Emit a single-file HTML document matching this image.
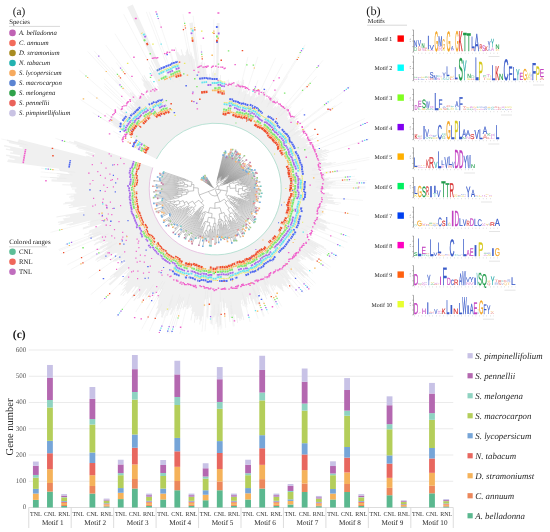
<!DOCTYPE html>
<html><head><meta charset="utf-8"><title>Figure</title><style>
html,body{margin:0;padding:0;background:#fff;}
svg{display:block;}
text{font-family:"Liberation Serif","Times New Roman",serif;}
.pl{font-size:11.3px;fill:#1a1a1a;}
.plb{font-size:11.5px;font-weight:bold;fill:#1a1a1a;}
.hd{font-size:6.8px;fill:#222;}
.sp{font-size:6.75px;font-style:italic;fill:#222;}
.cr{font-size:6.75px;fill:#222;}
.mo{font-size:5.9px;fill:#222;}
.bits{font-size:2.2px;fill:#555;font-family:"Liberation Sans",sans-serif;}
.lo{font-size:10px;font-family:"Liberation Sans",Arial,sans-serif;stroke-width:0.18px;}
.lf{opacity:0.55;}
svg{text-rendering:geometricPrecision;}
.yl{font-size:7px;fill:#595959;}
.yt{font-size:10.5px;fill:#262626;}
.sl{font-size:6px;fill:#333;}
.ml{font-size:7.2px;fill:#1f1f1f;}
.lg{font-size:8.85px;font-style:italic;fill:#262626;}
</style></head>
<body><svg width="550" height="532" viewBox="0 0 550 532">
<rect width="550" height="532" fill="#fff"/>
<g id="tree"><path d="M324.3 188.6L324.3 189.4L325.8 189.4L325.8 190.2L323.1 190.1L323.1 190.9L317.8 190.8L317.7 191.5L321.3 191.6L321.3 192.3L328.9 192.6L328.9 193.4L329.5 193.4L329.4 194.2L333.1 194.4L333.1 195.2L332.8 195.2L332.7 196.0L326.9 195.7L326.9 196.4L332.2 196.8L332.1 197.6L335.8 197.9L335.7 198.7L332.8 198.5L332.8 199.3L328.0 198.9L328.0 199.7L334.1 200.3L334.0 201.1L333.6 201.0L333.5 201.9L340.9 202.7L340.8 203.6L334.9 202.9L334.8 203.7L338.7 204.2L338.6 205.1L325.5 203.3L325.4 204.1L318.0 203.1L317.9 203.8L326.9 205.1L326.8 205.9L320.6 205.0L320.5 205.7L325.5 206.5L325.4 207.3L322.8 206.9L322.7 207.6L325.5 208.1L325.4 208.9L326.2 209.0L326.0 209.8L318.8 208.4L318.7 209.1L323.9 210.2L323.3 211.6L321.6 211.3L321.5 212.0L322.4 212.2L322.3 213.0L325.5 213.7L325.3 214.5L321.6 213.6L321.4 214.3L323.0 214.7L322.8 215.5L321.3 215.1L321.2 215.9L316.1 214.6L315.9 215.3L319.5 216.2L319.3 216.9L318.6 216.8L318.4 217.5L321.7 218.4L321.5 219.1L325.9 220.4L325.7 221.2L326.2 221.3L326.0 222.1L330.2 223.3L330.0 224.2L327.3 223.3L327.1 224.1L320.3 222.0L320.0 222.7L324.2 224.1L324.0 224.8L326.9 225.8L326.3 227.3L328.5 228.1L328.2 228.9L325.7 228.0L324.6 230.2L325.7 230.6L325.4 231.4L317.2 228.2L317.0 229.0L318.1 229.4L317.9 230.1L315.8 229.3L315.5 230.0L312.9 229.0L312.6 229.6L309.9 228.5L309.6 229.2L315.6 231.7L315.3 232.4L311.3 230.7L311.0 231.4L307.7 229.9L307.4 230.5L311.2 232.2L310.9 232.9L307.8 231.5L307.5 232.1L310.8 233.7L310.5 234.3L308.2 233.2L307.9 233.9L310.3 235.1L310.0 235.8L305.9 233.7L305.6 234.3L312.9 238.0L312.6 238.7L305.8 235.2L305.2 236.6L324.0 246.5L323.6 247.2L326.3 248.7L325.9 249.4L318.5 245.5L318.1 246.2L319.7 247.0L319.3 247.8L318.3 247.2L317.9 247.9L316.1 246.9L315.7 247.6L316.8 248.2L316.4 249.0L316.7 249.1L316.3 249.9L322.0 253.3L321.6 254.1L314.5 249.7L314.1 250.4L321.4 255.0L321.0 255.7L317.0 253.2L316.5 253.9L317.3 254.4L316.8 255.1L315.3 254.1L314.8 254.8L311.3 252.5L310.9 253.2L314.2 255.4L313.7 256.1L312.8 255.5L312.4 256.2L308.2 253.3L307.8 254.0L310.2 255.6L309.7 256.3L314.0 259.4L313.5 260.1L313.9 260.3L313.4 261.0L312.6 260.5L312.1 261.1L305.9 256.5L305.0 257.8L300.9 254.7L300.5 255.3L306.0 259.6L305.5 260.2L303.9 258.9L302.7 260.0L300.0 257.9L299.6 258.5L298.9 257.9L298.4 258.5L300.9 260.5L299.9 261.8L299.2 261.2L298.7 261.8L298.4 261.5L297.9 262.1L307.9 270.9L307.3 271.5L304.8 269.3L304.2 269.9L303.2 268.9L302.6 269.6L308.6 275.1L308.0 275.7L308.6 276.3L308.0 276.9L306.1 275.1L305.5 275.8L301.2 271.7L300.6 272.3L304.0 275.6L303.4 276.2L304.9 277.7L304.3 278.3L297.4 271.4L296.8 271.9L292.5 267.6L291.9 268.1L298.0 274.4L297.4 275.0L291.4 268.7L290.9 269.2L295.0 273.6L294.4 274.1L295.3 275.1L294.7 275.7L291.6 272.3L291.0 272.8L295.4 277.7L294.8 278.3L287.2 269.7L286.6 270.2L288.0 271.7L287.4 272.3L287.7 272.7L287.1 273.2L289.3 275.6L288.7 276.2L291.3 279.3L290.7 279.9L290.0 279.1L289.4 279.6L288.7 278.7L288.1 279.2L290.1 281.8L289.5 282.3L293.9 287.8L293.2 288.4L289.3 283.5L288.7 284.0L283.9 277.8L283.2 278.2L286.9 283.0L286.2 283.5L287.8 285.6L287.1 286.1L288.9 288.5L288.2 289.0L286.2 286.2L285.5 286.7L284.5 285.4L283.8 285.9L282.1 283.5L281.5 283.9L282.8 285.8L282.1 286.3L283.4 288.2L282.7 288.7L284.4 291.2L283.7 291.7L283.2 290.8L282.4 291.3L281.0 289.1L280.3 289.5L278.9 287.4L278.2 287.8L276.5 285.2L275.8 285.6L276.0 285.9L275.4 286.4L275.9 287.2L275.2 287.6L273.7 285.1L273.0 285.5L275.4 289.5L274.7 289.9L272.1 285.6L271.5 286.0L274.1 290.6L273.4 291.0L269.2 283.6L268.5 284.0L269.1 285.0L268.4 285.4L269.5 287.3L268.8 287.6L268.0 286.1L267.3 286.5L266.3 284.6L265.6 285.0L269.9 293.2L269.2 293.5L269.4 294.0L268.7 294.3L267.3 291.6L266.5 291.9L268.1 295.0L267.3 295.3L265.2 291.0L264.5 291.3L266.6 295.7L265.8 296.0L267.3 299.1L266.5 299.5L260.3 286.2L259.6 286.5L263.5 295.0L262.8 295.3L261.3 292.1L260.6 292.4L259.8 290.6L259.1 290.9L260.1 293.2L259.4 293.5L260.3 295.8L259.6 296.1L258.7 294.1L258.0 294.4L259.3 297.6L258.5 297.9L260.9 303.8L260.1 304.1L257.8 298.2L257.0 298.5L256.5 297.1L255.7 297.4L258.4 304.4L257.6 304.7L257.2 303.8L256.4 304.1L256.9 305.3L256.1 305.6L253.8 299.1L252.3 299.8L253.4 303.2L252.6 303.4L251.8 301.1L251.1 301.3L249.4 296.0L248.6 296.3L249.4 298.7L248.6 299.0L250.1 303.8L249.3 304.1L247.1 296.8L246.4 297.0L247.4 300.4L246.6 300.6L247.7 304.5L246.9 304.7L247.6 307.3L246.8 307.5L245.8 303.8L245.0 304.0L245.7 306.8L244.9 307.0L243.0 299.6L242.2 299.7L243.8 306.1L242.9 306.3L241.5 300.0L240.7 300.2L241.6 304.1L240.8 304.2L244.3 320.0L243.4 320.2L242.6 316.6L241.7 316.8L242.3 319.6L241.4 319.8L241.1 318.5L240.2 318.7L240.6 320.8L239.7 321.0L239.1 318.0L237.3 318.2L238.1 322.8L237.2 323.0L235.8 314.6L234.9 314.7L234.8 314.3L234.0 314.4L234.9 320.6L234.0 320.7L233.0 313.7L232.1 313.9L232.7 318.2L231.8 318.3L231.3 314.4L230.4 314.5L230.8 317.4L229.9 317.5L230.4 321.9L229.5 322.0L227.9 308.1L226.3 308.4L225.8 303.1L225.0 303.2L225.3 307.1L224.5 307.2L224.8 310.6L223.9 310.7L223.7 308.0L222.9 308.1L222.5 301.5L221.7 301.5L222.3 311.8L221.4 311.8L220.9 302.0L220.1 302.1L221.2 325.2L220.2 325.3L220.3 326.5L219.3 326.5L219.0 316.5L218.1 316.5L218.4 326.9L217.4 326.9L217.3 322.3L216.4 322.3L216.4 323.9L215.5 323.9L215.4 315.4L214.6 315.4L214.6 317.2L213.7 317.2L213.7 317.6L212.8 317.6L212.6 325.2L211.7 325.2L211.7 323.8L210.8 323.8L211.4 303.5L210.6 303.5L210.6 304.0L209.8 304.0L210.1 297.5L209.3 297.4L208.2 318.6L207.3 318.5L207.4 317.0L206.5 317.0L207.7 299.0L206.9 298.9L206.4 306.2L205.6 306.2L206.1 299.1L205.4 299.1L205.2 300.6L204.5 300.5L203.0 316.4L202.1 316.3L201.6 321.3L200.6 321.2L200.3 324.6L199.3 324.5L199.9 319.8L199.0 319.6L199.4 316.0L198.5 315.8L198.1 319.5L197.1 319.3L197.1 319.9L196.2 319.8L196.7 316.2L195.8 316.1L194.8 322.8L193.8 322.7L194.8 316.3L193.9 316.2L194.6 312.0L193.8 311.8L193.4 314.0L192.5 313.9L191.4 320.4L190.4 320.2L192.2 310.9L191.3 310.8L192.0 307.2L191.2 307.0L191.0 308.0L190.2 307.8L190.8 304.8L190.0 304.7L189.4 307.6L188.5 307.4L188.1 309.3L186.5 308.7L187.3 305.3L186.5 305.1L185.9 307.3L184.3 307.0L183.5 309.8L182.7 309.6L183.0 308.3L182.2 308.1L184.3 300.6L183.5 300.4L181.0 309.2L180.2 308.9L182.0 302.6L181.2 302.4L179.0 309.6L178.2 309.3L177.7 310.9L176.9 310.6L177.4 308.9L176.6 308.6L178.1 303.8L177.3 303.5L176.5 306.0L175.7 305.8L174.1 310.4L173.3 310.2L171.8 314.5L170.9 314.2L170.6 315.1L169.7 314.8L172.0 308.3L171.2 308.0L170.3 310.5L169.4 310.2L167.2 316.3L166.3 315.9L168.3 310.8L167.4 310.5L168.9 306.6L168.1 306.3L166.1 311.3L165.2 310.9L162.5 317.7L160.7 317.0L161.8 314.4L160.9 314.0L161.5 312.6L160.6 312.2L161.2 311.0L160.4 310.6L158.9 313.9L158.0 313.5L156.4 316.9L155.5 316.5L156.0 315.6L155.1 315.2L158.3 308.5L157.4 308.1L157.0 308.9L156.2 308.5L158.5 303.9L157.7 303.5L158.6 301.6L157.8 301.2L159.4 298.2L158.6 297.8L157.7 299.5L156.9 299.1L162.0 289.4L161.3 289.1L159.6 292.3L158.9 291.9L160.0 289.9L159.3 289.6L157.1 293.5L156.3 293.1L157.3 291.4L156.6 291.0L154.7 294.3L153.9 293.9L153.6 294.6L152.8 294.1L149.4 299.8L148.7 299.4L153.0 292.2L152.3 291.8L149.7 295.9L149.0 295.4L146.0 300.2L145.3 299.8L150.3 291.7L149.6 291.2L147.0 295.4L146.2 294.9L145.7 295.8L144.9 295.3L145.6 294.2L144.9 293.7L142.7 297.0L142.0 296.5L147.1 289.0L146.4 288.5L139.4 298.6L138.6 298.1L137.9 299.1L137.1 298.6L139.1 295.9L138.3 295.3L134.2 301.1L133.4 300.5L139.4 292.2L138.7 291.7L135.3 296.3L134.5 295.8L132.7 298.2L132.0 297.6L132.4 297.0L131.7 296.4L138.6 287.6L137.1 286.6L132.1 292.8L131.4 292.2L135.0 287.7L134.4 287.2L134.9 286.5L134.2 285.9L127.6 293.9L126.8 293.3L127.2 293.0L126.4 292.3L123.1 296.2L122.4 295.5L126.5 290.9L125.7 290.2L120.9 295.7L120.2 295.1L125.1 289.6L124.4 288.9L122.8 290.7L122.1 290.0L126.2 285.5L125.6 284.9L124.1 286.5L123.4 285.9L127.8 281.2L127.2 280.6L125.8 282.0L125.2 281.3L121.5 285.2L120.8 284.5L125.3 280.0L124.6 279.4L119.1 284.9L118.5 284.2L122.9 279.8L122.3 279.2L126.9 274.7L126.3 274.1L129.7 270.8L129.1 270.2L124.4 274.6L123.8 274.0L128.4 269.7L127.9 269.1L110.1 285.4L108.6 284.1L116.3 277.2L115.7 276.5L114.1 277.9L113.5 277.2L110.0 280.3L109.4 279.5L114.1 275.5L113.5 274.8L110.5 277.3L109.9 276.5L118.6 269.4L118.0 268.7L125.6 262.4L125.1 261.8L120.0 265.9L119.5 265.2L120.5 264.5L119.5 263.1L123.6 259.9L123.1 259.2L120.4 261.4L118.8 259.4L115.7 261.7L115.2 261.0L113.6 262.1L113.1 261.4L113.6 261.0L113.1 260.3L119.8 255.7L119.3 255.0L110.5 261.1L109.5 259.6L116.7 254.8L116.3 254.1L117.6 253.2L117.1 252.5L115.9 253.4L115.4 252.7L104.2 259.9L103.7 259.1L102.7 259.7L102.2 258.9L97.3 262.0L96.8 261.2L100.7 258.7L100.3 257.9L95.7 260.7L95.2 259.9L96.7 259.0L96.2 258.2L105.0 253.0L104.6 252.2L108.6 249.9L108.2 249.2L100.3 253.6L99.9 252.8L106.4 249.2L106.0 248.4L103.1 250.0L102.7 249.2L107.4 246.7L107.0 245.9L98.3 250.5L97.9 249.7L100.6 248.3L99.6 246.8L108.0 242.6L107.6 241.8L101.8 244.7L101.4 243.9L105.4 242.0L105.0 241.2L100.4 243.4L100.0 242.6L94.1 245.4L93.7 244.6L95.4 243.8L95.0 242.9L100.8 240.3L100.4 239.5L99.3 240.0L98.9 239.2L93.7 241.5L93.4 240.6L96.8 239.2L96.5 238.3L100.5 236.7L100.1 235.9L101.6 235.3L101.3 234.5L90.2 238.9L89.8 238.0L88.3 238.6L88.0 237.8L93.6 235.6L93.3 234.7L88.0 236.7L87.6 235.9L89.5 235.2L89.2 234.3L92.2 233.2L91.9 232.4L84.3 235.0L84.0 234.1L89.1 232.4L88.8 231.5L89.7 231.2L89.4 230.3L94.9 228.5L94.7 227.6L99.7 226.0L99.5 225.2L101.6 224.5L101.4 223.7L82.9 229.4L82.7 228.5L83.0 228.4L82.7 227.4L90.1 225.3L89.9 224.4L88.1 224.9L87.9 224.0L90.2 223.4L90.0 222.5L88.3 222.9L88.1 222.1L90.6 221.4L90.4 220.5L69.6 225.8L69.4 224.8L66.6 225.5L66.3 224.4L73.1 222.8L72.9 221.8L58.8 225.1L58.5 224.0L60.6 223.5L60.4 222.4L58.0 222.9L57.8 221.8L64.2 220.5L64.0 219.4L63.0 219.6L62.8 218.6L70.1 217.2L69.9 216.2L65.7 216.9L65.5 215.9L56.5 217.5L56.3 216.4L84.2 211.6L84.1 210.7L79.4 211.4L79.2 210.5L83.5 209.8L83.4 208.9L76.8 209.9L76.7 208.9L78.5 208.7L78.3 207.7L86.4 206.6L86.3 205.7L69.2 207.9L69.1 206.9L73.0 206.4L72.8 205.4L68.6 205.9L68.5 204.9L70.9 204.7L70.8 203.7L63.2 204.4L63.1 203.4L65.0 203.2L64.9 202.1L72.9 201.4L72.9 200.4L74.5 200.3L74.4 199.3L70.5 199.6L70.4 198.6L74.0 198.4L73.9 197.4L69.1 197.7L69.1 196.6L70.6 196.6L70.6 195.6L73.6 195.4L73.6 194.4L66.5 194.7L66.4 193.7L76.4 193.4L76.4 192.4L75.2 192.4L75.2 191.4L74.7 191.4L74.8 189.5L71.8 189.5L71.8 188.5L76.5 188.5L76.5 187.5L71.0 187.5L71.0 186.5L70.7 186.5L70.7 185.5L62.2 185.3L62.3 184.2L69.9 184.4L70.0 183.4L72.3 183.5L72.3 182.5L51.5 181.6L51.5 179.3L57.0 179.6L57.0 178.5L50.1 178.1L50.2 176.9L59.2 177.6L59.3 176.5L57.1 176.3L57.2 175.2L60.2 175.5L60.3 174.4L56.8 174.0L56.9 172.9L69.4 174.2L69.5 173.2L67.7 173.0L67.8 172.0L59.8 171.0L60.0 170.0L59.0 169.8L59.1 168.8L7.2 162.0L7.4 160.6L8.0 160.6L8.2 159.2L14.5 160.1L14.7 158.7L9.5 157.9L9.7 156.5L6.0 155.9L6.3 154.4L20.0 156.7L20.2 155.3L10.0 153.6L10.2 152.2L12.9 152.6L13.2 151.2L5.8 149.8L6.1 148.4L10.1 149.2L10.4 147.7L4.0 146.5L4.3 145.0L22.5 148.8L22.8 147.4L19.2 146.7L19.5 145.3L8.8 142.9L9.1 141.5L6.8 140.9L7.1 139.5L17.6 142.0L17.9 140.6L18.4 140.7L18.7 139.3L86.1 156.4L86.4 155.5L93.3 157.3L93.5 156.4L88.1 155.0L88.3 154.1L85.1 153.2L85.3 152.3L85.8 152.4L86.1 151.5L95.0 154.1L95.2 153.3L77.6 148.0L77.8 147.1L75.6 146.4L75.9 145.4L76.9 145.7L77.2 144.8L69.0 142.1L69.3 141.1L73.6 142.5L74.4 140.6L152.8 167.6A65.8 65.8 0 1 0 280.8 188.8ZM135.7 148.6L135.9 148.0L131.8 145.9L132.1 145.3L132.9 145.7L133.2 145.1L135.5 146.3L135.8 145.8L134.6 145.2L134.9 144.6L139.8 147.3L140.1 146.8L141.5 147.6L141.7 147.0L139.7 145.9L140.0 145.4L134.1 141.9L134.4 141.3L139.2 144.2L139.6 143.7L140.6 144.3L140.9 143.8L138.9 142.5L139.2 142.0L136.2 140.2L136.6 139.6L113.1 124.8L113.6 124.1L110.0 121.8L110.5 121.1L108.7 120.0L109.2 119.2L112.0 121.1L112.4 120.3L110.0 118.7L110.5 118.0L111.4 118.6L111.9 117.9L105.7 113.6L106.3 112.9L111.0 116.2L111.5 115.5L122.4 123.2L122.9 122.6L123.9 123.3L124.3 122.6L121.8 120.8L122.3 120.1L119.4 118.0L119.9 117.3L122.4 119.2L122.9 118.6L124.2 119.6L124.7 118.9L119.9 115.3L120.4 114.6L119.0 113.5L119.6 112.8L121.5 114.4L122.1 113.7L124.7 115.9L125.2 115.3L120.0 111.0L120.5 110.3L116.5 107.0L117.1 106.3L124.1 112.2L124.6 111.5L130.8 116.8L131.3 116.2L129.9 115.0L130.4 114.4L128.8 113.0L129.4 112.4L130.8 113.8L131.4 113.2L126.3 108.6L126.9 108.0L131.1 111.9L132.1 110.6L127.1 105.9L127.7 105.2L128.7 106.3L129.3 105.7L131.4 107.7L131.9 107.1L130.1 105.3L130.7 104.7L129.6 103.6L130.2 103.0L134.3 107.2L134.9 106.6L131.7 103.3L132.3 102.8L133.9 104.4L134.5 103.8L130.9 100.1L131.5 99.5L130.9 98.8L131.5 98.2L135.2 102.3L136.3 101.0L129.5 93.4L130.2 92.8L137.1 100.6L137.7 100.1L131.3 92.7L132.0 92.1L138.2 99.4L138.9 98.9L138.0 97.9L138.6 97.3L140.4 99.4L141.0 98.9L138.1 95.4L138.8 94.9L140.7 97.3L141.9 96.1L143.2 97.7L143.8 97.2L140.9 93.5L141.6 93.0L142.9 94.7L143.5 94.2L147.6 99.5L148.2 99.1L146.3 96.5L147.0 96.0L144.1 92.1L144.8 91.6L147.6 95.6L148.3 95.1L149.7 97.1L150.4 96.7L148.7 94.3L149.3 93.8L143.1 84.8L143.8 84.3L143.2 83.4L144.0 82.9L141.2 78.7L142.0 78.2L143.1 79.9L143.8 79.4L141.9 76.4L142.6 75.9L145.9 80.9L146.6 80.4L143.5 75.4L144.3 74.9L148.2 81.2L148.9 80.8L153.4 88.1L154.1 87.6L149.9 80.7L150.7 80.3L154.4 86.6L155.1 86.2L158.0 91.1L159.5 90.5L157.1 86.2L157.8 85.8L158.2 86.6L158.9 86.2L148.7 67.5L149.6 67.0L152.6 72.6L153.4 72.1L149.8 65.3L150.7 64.9L153.4 70.2L154.3 69.8L155.0 71.2L155.8 70.8L150.6 60.4L151.5 60.0L157.7 72.5L158.5 72.1L159.4 74.1L160.2 73.7L162.3 78.1L163.1 77.8L160.2 71.5L161.0 71.1L163.9 77.3L164.6 77.0L163.8 75.0L164.6 74.7L164.9 75.3L165.6 75.0L166.8 77.5L167.5 77.2L163.0 66.4L163.8 66.0L164.1 66.8L165.0 66.4L166.0 68.9L166.8 68.6L165.9 66.3L166.8 66.0L168.3 69.9L169.2 69.6L169.9 71.6L170.8 71.3L169.1 66.9L169.9 66.5L170.6 68.4L171.5 68.1L170.6 65.7L171.5 65.4L173.7 71.7L175.3 71.1L171.7 60.4L172.6 60.1L175.7 69.4L176.5 69.1L174.4 62.4L175.2 62.2L175.9 64.4L176.8 64.1L175.5 59.7L176.4 59.4L177.1 61.8L178.0 61.6L175.2 51.9L176.1 51.6L174.9 47.4L175.9 47.1L177.3 52.3L178.3 52.0L179.0 54.6L179.9 54.4L180.3 55.8L181.2 55.6L181.2 55.2L182.1 55.0L180.7 49.4L181.7 49.2L183.0 54.6L183.9 54.4L184.3 55.9L185.2 55.7L185.0 54.9L186.0 54.7L185.4 51.9L186.3 51.7L186.0 50.4L187.0 50.2L186.7 48.8L187.7 48.6L188.8 54.2L189.7 54.0L190.1 55.8L191.0 55.6L190.4 52.4L191.4 52.3L192.1 56.4L193.0 56.2L193.5 58.9L194.4 58.8L196.9 74.5L197.7 74.4L198.8 81.8L199.5 81.6L197.0 64.1L197.9 64.0L198.1 65.9L199.9 65.9L199.8 65.6L200.7 65.5L200.4 62.7L201.3 62.6L201.2 62.0L202.1 61.9L202.6 66.9L203.5 66.8L203.6 68.0L204.4 67.9L204.0 62.8L204.8 62.7L205.1 65.7L205.9 65.6L206.6 73.9L207.4 73.9L207.6 77.1L208.3 77.1L208.3 76.6L209.1 76.6L209.0 73.7L209.8 73.6L210.0 78.6L211.5 78.5L211.2 67.4L212.0 67.4L212.2 72.6L213.0 72.6L212.9 70.8L213.8 70.8L213.8 74.6L214.6 74.6L214.6 75.1L215.4 75.1L215.4 70.2L216.2 70.2L216.3 67.3L217.1 67.4L217.1 66.6L218.0 66.6L217.6 81.2L218.4 81.3L218.4 80.9L219.2 80.9L219.3 77.9L220.0 77.9L220.2 75.1L221.0 75.1L220.7 80.5L221.4 80.5L221.0 87.2L221.8 87.3L221.6 88.9L222.3 89.0L222.5 86.3L223.3 86.4L223.5 83.6L224.2 83.7L224.2 84.2L224.9 84.3L224.4 89.2L225.1 89.2L225.6 84.5L226.3 84.6L226.8 80.0L227.6 80.1L227.2 83.9L227.9 84.0L228.4 79.6L229.2 79.7L228.9 81.8L229.7 81.9L229.6 82.3L230.4 82.4L229.6 87.9L230.3 88.0L231.0 83.1L232.5 83.5L232.5 83.1L233.3 83.2L233.4 82.7L234.1 82.8L234.2 82.5L234.9 82.6L234.4 85.2L235.1 85.4L234.7 87.8L235.4 87.9L236.8 80.8L237.6 80.9L237.2 82.6L238.0 82.8L238.5 80.1L239.3 80.3L238.5 84.0L239.2 84.2L239.9 81.2L240.6 81.3L239.9 84.5L241.3 85.0L242.7 79.6L244.2 80.1L243.6 82.3L244.3 82.5L241.7 92.1L242.4 92.3L243.4 88.8L244.1 89.0L243.5 90.9L244.2 91.1L245.4 87.1L246.1 87.3L245.2 90.2L245.9 90.4L246.9 87.3L247.6 87.5L245.6 93.7L246.3 93.9L247.4 90.5L248.1 90.8L246.9 94.1L247.6 94.3L247.8 93.7L248.5 94.0L250.2 89.0L250.9 89.2L249.8 92.3L250.5 92.5L249.7 94.7L250.3 95.0L249.8 96.3L250.5 96.6L250.7 95.9L252.1 96.3L253.3 93.3L253.9 93.6L255.9 88.8L256.6 89.1L255.4 92.0L256.1 92.2L257.3 89.4L258.0 89.7L254.5 97.7L255.2 98.0L256.5 94.8L257.2 95.1L256.3 97.1L256.9 97.4L257.1 97.1L257.7 97.4L259.7 93.2L260.3 93.5L260.0 94.3L260.7 94.6L263.8 88.0L264.5 88.3L262.9 91.6L263.6 92.0L264.8 89.6L265.5 90.0L264.5 91.8L265.2 92.1L266.7 89.3L267.4 89.7L265.5 93.3L266.1 93.6L266.0 93.9L266.6 94.3L264.6 98.0L265.2 98.4L264.5 99.7L265.1 100.0L266.6 97.5L267.2 97.8L266.9 98.4L267.5 98.8L269.3 95.7L269.9 96.1L267.7 99.9L268.3 100.3L270.6 96.5L271.2 96.9L269.9 99.1L270.5 99.5L273.4 94.9L274.0 95.3L272.3 98.0L272.9 98.4L275.7 94.0L276.4 94.5L272.6 100.4L273.2 100.8L275.8 96.8L276.4 97.3L273.4 101.8L274.0 102.2L277.1 97.6L277.7 98.1L275.3 101.6L275.9 102.0L278.1 98.8L278.8 99.3L272.8 107.7L273.3 108.1L274.9 106.0L275.4 106.4L276.4 105.2L276.9 105.6L275.9 107.1L276.4 107.5L278.3 105.0L278.9 105.4L280.0 104.0L280.6 104.5L279.2 106.3L279.7 106.7L281.3 104.7L281.9 105.2L279.7 108.0L280.2 108.4L281.7 106.7L282.3 107.1L282.9 106.3L283.5 106.8L283.9 106.3L284.5 106.7L284.2 107.1L284.8 107.6L286.8 105.2L287.4 105.7L287.1 106.0L287.7 106.5L285.2 109.3L285.8 109.8L288.1 107.3L288.6 107.8L286.3 110.3L286.9 110.8L291.1 106.3L291.6 106.8L287.1 111.6L287.7 112.1L286.9 113.0L287.4 113.5L290.3 110.5L291.3 111.6L289.5 113.4L290.0 114.0L286.9 117.1L287.4 117.7L288.6 116.4L289.1 116.9L288.0 118.0L288.5 118.5L287.5 119.4L288.0 119.9L289.4 118.6L289.9 119.1L292.6 116.7L293.1 117.2L296.3 114.2L296.8 114.8L296.1 115.5L296.6 116.0L300.1 112.9L300.6 113.5L293.6 119.7L294.1 120.2L296.9 117.8L297.4 118.4L298.3 117.6L298.8 118.1L295.7 120.8L296.1 121.4L295.7 121.7L296.2 122.3L297.3 121.4L297.8 122.0L296.5 123.0L296.9 123.6L295.9 124.4L296.3 125.0L299.7 122.4L300.2 122.9L296.6 125.7L297.1 126.2L294.3 128.4L294.7 128.9L299.3 125.5L299.7 126.1L297.2 128.0L297.6 128.5L298.9 127.6L299.3 128.2L295.2 131.2L295.6 131.8L298.3 129.8L299.1 131.0L299.6 130.6L300.0 131.2L308.9 125.2L309.4 125.8L304.5 129.1L304.9 129.7L302.9 131.1L303.3 131.7L300.7 133.4L301.0 134.0L298.3 135.7L298.7 136.3L305.7 131.9L306.1 132.5L303.3 134.2L303.7 134.9L301.8 136.0L302.1 136.6L300.8 137.5L301.1 138.1L306.9 134.7L307.2 135.3L303.8 137.3L304.2 137.9L305.2 137.3L305.6 137.9L304.9 138.3L305.3 139.0L313.9 134.2L314.3 134.9L309.2 137.7L309.5 138.3L310.6 137.7L311.0 138.4L313.1 137.3L313.5 137.9L312.8 138.3L313.2 139.0L316.9 137.1L317.3 137.8L305.9 143.5L306.2 144.1L307.7 143.4L308.0 144.1L310.1 143.0L310.4 143.7L306.7 145.5L307.0 146.1L307.4 145.9L307.7 146.5L313.9 143.7L314.2 144.4L310.3 146.2L310.6 146.9L313.7 145.5L314.0 146.1L310.4 147.7L310.7 148.4L319.3 144.7L319.6 145.5L314.9 147.4L315.2 148.1L312.2 149.3L312.5 150.0L313.0 149.8L313.3 150.5L317.3 148.9L317.5 149.6L317.1 149.8L317.4 150.5L321.9 148.8L322.3 150.4L325.8 149.1L326.1 149.9L327.2 149.5L327.4 150.3L328.8 149.8L329.0 150.6L320.9 153.4L321.2 154.1L329.3 151.4L329.5 152.2L321.4 154.8L321.7 155.6L326.9 153.9L327.1 154.7L321.9 156.3L322.2 157.1L328.0 155.3L328.2 156.1L318.7 158.9L318.9 159.6L324.4 158.0L324.7 159.6L327.0 159.0L327.2 159.8L320.8 161.4L321.0 162.2L321.9 161.9L322.1 162.7L325.3 161.9L325.5 162.7L326.3 162.5L326.4 163.3L331.3 162.1L331.5 163.0L335.6 162.0L335.8 162.9L331.6 163.8L331.8 164.6L322.7 166.5L322.9 167.2L316.7 168.5L316.9 169.2L323.0 168.0L323.3 169.5L324.2 169.4L324.3 170.1L319.3 171.0L319.4 171.7L318.9 171.8L319.1 172.5L328.7 171.0L328.9 171.8L321.6 172.9L321.7 173.6L325.1 173.1L325.2 173.9L323.0 174.2L323.1 175.0L325.5 174.6L325.6 176.2L323.5 176.5L323.5 177.2L324.7 177.1L324.8 177.9L330.3 177.3L330.3 178.1L327.6 178.4L327.6 179.1L329.0 179.0L329.1 179.8L327.1 180.0L327.2 180.8L326.4 180.8L326.4 181.6L335.6 181.0L335.6 181.8L333.2 182.0L333.3 182.8L331.8 182.9L331.9 183.7L335.7 183.5L335.7 184.4L328.6 184.6L328.7 185.4L327.8 185.5L327.8 186.2L331.2 186.2L331.2 187.0L326.9 187.0L326.9 187.8L330.4 187.8L330.4 188.6L325.0 188.6L325.0 189.4L280.8 189.2A65.8 65.8 0 0 0 156.4 159.1Z" fill="#F0F0F0"/>
<path d="M177.7 111.8L127.1 7.1L132.8 4.5L180.1 110.6ZM201.9 104.2L189.3 23.0L192.8 22.5L203.7 104.0ZM215.9 103.2L216.7 23.0L219.6 23.1L217.4 103.2Z" fill="#F0F0F0"/>
<path d="M323.7 197.4L363.1 200.4M315.0 207.4L359.1 215.5M315.0 218.4L353.7 229.8M314.5 224.4L350.2 237.1M305.6 225.6L347.3 242.4M301.4 228.2L344.2 247.6M308.0 240.1L338.0 256.6M307.8 241.7L336.8 258.2M306.4 242.6L335.7 259.8M304.0 249.1L330.5 266.9M300.4 249.3L328.7 269.2M290.6 254.2L313.0 273.6M298.9 267.8L315.5 283.3M294.8 267.2L313.3 285.3M284.5 259.9L311.1 287.2M283.5 261.0L309.7 288.4M286.7 265.4L308.9 289.0M287.1 269.1L306.7 290.8M281.6 267.2L303.6 293.1M282.3 272.7L300.5 295.4M276.7 269.1L298.1 297.0M263.5 274.3L281.7 306.4M262.4 276.6L279.3 308.0M260.8 275.2L270.4 293.1M264.1 282.9L277.7 309.0M255.3 282.9L268.6 314.1M253.2 287.4L264.3 316.2M252.0 286.4L263.5 316.6M249.2 291.9L258.2 318.9M242.3 292.4L250.1 322.0M230.8 301.3L234.3 326.3M230.5 305.3L233.3 326.5M223.4 298.5L225.7 327.9M220.0 290.7L221.8 328.4M220.1 311.6L220.9 329.8M218.2 303.7L218.9 328.7M217.6 313.1L218.1 334.7M214.2 304.4L214.0 329.3M211.4 292.1L210.3 323.8M208.1 288.0L205.0 331.3M205.9 289.4L202.0 331.9M189.7 293.5L179.9 333.9M184.0 297.0L175.4 327.1M182.3 297.4L171.3 333.7M180.8 296.8L169.1 333.6M180.0 294.2L166.9 333.5M172.5 298.5L159.3 332.7M173.1 294.7L163.9 318.2M161.9 303.9L149.3 331.1M163.1 288.3L141.6 329.4M164.8 281.8L152.9 303.8M162.7 281.0L146.5 309.5M153.4 284.5L135.8 311.9M140.3 285.9L116.6 316.8M128.4 275.0L99.7 303.5M123.9 266.5L90.7 294.8M123.6 253.5L88.2 278.4M111.6 246.8L70.7 269.6M117.1 242.8L90.6 257.4M111.8 242.0L67.4 264.8M108.5 233.8L60.7 253.9M102.5 233.5L59.0 250.8M100.8 233.3L58.4 249.7M100.5 231.6L64.9 244.8M100.9 219.2L50.6 232.4M66.7 178.6L40.4 176.8M72.7 175.0L40.8 171.9M75.4 172.4L41.2 168.3M27.7 145.1L1.3 138.9M90.8 149.6L55.6 138.4M143.5 150.4L117.9 136.5M148.9 151.5L113.4 131.3M144.3 144.8L92.7 112.6M122.5 127.5L80.4 99.6M133.5 126.2L87.6 90.9M139.4 123.8L120.8 107.7M138.7 122.2L78.9 69.8M139.8 119.3L104.2 86.4M136.1 113.9L104.3 83.5M138.8 113.4L103.9 78.6M139.6 107.6L87.6 51.4M143.5 110.7L115.1 79.6M143.9 110.1L94.9 55.6M145.1 109.2L94.1 50.9M146.2 108.2L111.4 67.3M150.6 106.6L116.2 62.6M150.4 103.9L105.6 44.9M149.5 87.4L114.9 33.7M156.7 77.5L123.6 14.2M173.4 81.7L146.3 11.9M174.1 78.9L149.1 11.8M176.5 73.1L156.0 11.7M180.0 81.2L170.2 51.1M190.0 62.7L182.6 25.5M193.0 69.0L182.9 14.2M201.0 78.3L193.1 15.9M204.2 79.1L200.9 44.9M214.3 86.1L213.8 19.4M217.7 92.0L218.3 69.1M238.4 95.3L248.0 56.8M242.8 103.3L257.9 56.8M248.1 105.5L258.1 80.2M253.2 106.4L275.6 57.9M261.2 103.6L282.7 63.8M267.8 104.5L305.2 44.6M266.9 107.3L304.7 47.6M270.0 103.7L287.6 76.3M277.3 114.8L323.0 60.3M278.5 117.5L308.8 83.3M281.0 115.7L316.5 76.3M288.4 122.0L303.2 108.5M288.7 132.3L332.0 98.9M286.6 134.7L350.2 86.4M290.5 136.5L335.5 105.2M291.4 136.7L342.1 102.0M297.6 150.1L364.7 118.5M304.0 150.1L367.3 122.5M307.2 153.3L339.7 140.6M318.0 155.5L369.2 138.9M312.0 169.1L369.5 157.3M312.2 170.5L369.4 159.5M311.0 174.8L344.2 169.9M314.2 175.1L356.8 169.1M316.3 179.8L354.9 176.3M315.3 182.0L356.5 179.1M321.4 183.0L366.9 180.5M323.6 184.4L366.5 182.7M316.5 186.2L358.5 185.0M315.7 187.6L365.5 186.9M318.8 188.3L365.3 188.0" stroke="#E4E4E4" stroke-width="0.35" fill="none"/>
<path d="M221.9 123.6A65.8 65.8 0 1 1 204.7 254.0" stroke="#A9DCCB" stroke-width="0.8" fill="none"/>
<path d="M204.7 254.0A65.8 65.8 0 0 1 152.8 167.6" stroke="#E2B8DC" stroke-width="0.8" fill="none"/>
<path d="M156.4 159.1A65.8 65.8 0 0 1 221.9 123.6" stroke="#A9DCCB" stroke-width="0.8" fill="none"/>
<path d="M290.2 188.9A75.2 75.2 0 0 1 290.2 191.4M291.4 193.0A76.5 76.5 0 0 1 291.1 196.7M290.0 196.6A75.4 75.4 0 0 1 289.8 198.7M289.2 198.6A74.9 74.9 0 0 1 288.7 202.3M288.4 202.2A74.5 74.5 0 0 1 287.4 206.8M288.5 207.0A75.7 75.7 0 0 1 288.1 208.6M288.7 208.8A76.3 76.3 0 0 1 288.4 209.8M287.9 209.6A75.7 75.7 0 0 1 286.4 214.2M286.1 217.4A76.5 76.5 0 0 1 283.9 222.3M282.6 221.7A75.1 75.1 0 0 1 281.4 224.0M281.6 227.2A76.8 76.8 0 0 1 279.1 231.3M275.5 235.8A76.5 76.5 0 0 1 272.3 239.6M271.0 240.4A76.0 76.0 0 0 1 268.7 242.7M265.6 246.8A76.9 76.9 0 0 1 264.6 247.7M265.0 248.2A77.5 77.5 0 0 1 262.9 249.9M262.3 249.0A76.4 76.4 0 0 1 260.6 250.3M260.4 250.1A76.1 76.1 0 0 1 256.0 253.1M256.6 254.1A77.3 77.3 0 0 1 252.9 256.3M252.7 255.9A76.8 76.8 0 0 1 251.8 256.4M252.0 257.0A77.4 77.4 0 0 1 250.6 257.8M250.7 257.8A77.5 77.5 0 0 1 248.7 258.8M248.8 258.8A77.6 77.6 0 0 1 247.8 259.3M247.5 258.8A77.0 77.0 0 0 1 244.6 260.1M244.7 261.5A78.3 78.3 0 0 1 244.1 261.7M243.9 261.2A77.7 77.7 0 0 1 240.8 262.3M240.5 261.5A76.8 76.8 0 0 1 235.9 262.9M235.2 263.7A77.4 77.4 0 0 1 231.9 264.5M232.0 265.3A78.1 78.1 0 0 1 227.8 266.1M227.9 266.8A78.9 78.9 0 0 1 223.5 267.4M223.5 267.0A78.4 78.4 0 0 1 218.6 267.4M217.7 267.5A78.6 78.6 0 0 1 216.4 267.6M216.4 268.9A79.9 79.9 0 0 1 212.5 268.8M211.7 267.6A78.7 78.7 0 0 1 210.9 267.6M210.9 267.6A78.7 78.7 0 0 1 209.8 267.5M202.6 267.3A79.3 79.3 0 0 1 199.9 266.8M199.8 266.2A78.7 78.7 0 0 1 196.8 265.6M196.9 265.0A78.1 78.1 0 0 1 192.7 263.8M192.3 265.0A79.3 79.3 0 0 1 189.2 264.0M189.0 264.5A79.9 79.9 0 0 1 184.8 263.0M182.5 262.0A79.9 79.9 0 0 1 179.7 260.7M180.3 259.6A78.7 78.7 0 0 1 178.3 258.6M145.0 153.3A78.6 78.6 0 0 1 146.3 150.9M145.7 150.6A79.2 79.2 0 0 1 146.3 149.6M146.8 149.9A78.6 78.6 0 0 1 148.5 147.1M130.2 135.2A100.4 100.4 0 0 1 130.8 134.3M131.4 134.7A99.7 99.7 0 0 1 132.5 132.9M131.6 132.3A100.9 100.9 0 0 1 132.8 130.6M132.7 130.5A101.0 101.0 0 0 1 137.0 124.9M139.9 127.3A97.2 97.2 0 0 1 140.7 126.3M143.1 123.8A97.1 97.1 0 0 1 146.8 119.9M147.7 119.0A97.1 97.1 0 0 1 149.8 117.1M155.9 117.2A93.0 93.0 0 0 1 157.5 115.9M157.3 115.6A93.3 93.3 0 0 1 158.3 114.8M158.9 115.6A92.4 92.4 0 0 1 162.5 112.9M163.4 114.2A90.9 90.9 0 0 1 167.1 111.7M167.7 112.7A89.8 89.8 0 0 1 169.8 111.4M175.5 76.9A118.8 118.8 0 0 1 181.9 74.9M201.1 92.5A97.5 97.5 0 0 1 207.9 91.8M217.4 92.1A96.9 96.9 0 0 1 220.7 92.3M221.3 93.3A95.9 95.9 0 0 1 224.7 93.6M222.6 113.8A75.6 75.6 0 0 1 226.8 114.3M227.2 112.6A77.4 77.4 0 0 1 230.3 113.1M232.4 114.8A76.2 76.2 0 0 1 235.2 115.5M235.1 116.1A75.6 75.6 0 0 1 238.1 117.0M238.3 116.4A76.2 76.2 0 0 1 243.3 118.2M243.7 117.1A77.4 77.4 0 0 1 247.2 118.6M246.5 120.3A75.6 75.6 0 0 1 247.4 120.7M248.2 119.1A77.4 77.4 0 0 1 252.1 121.0M254.4 124.5A75.6 75.6 0 0 1 255.3 125.1M255.3 125.1A75.6 75.6 0 0 1 258.8 127.4M259.1 127.0A76.1 76.1 0 0 1 260.8 128.2M261.1 127.8A76.7 76.7 0 0 1 262.0 128.4M262.0 128.4A76.7 76.7 0 0 1 264.9 130.8M264.9 130.8A76.6 76.6 0 0 1 268.4 134.1M267.5 135.0A75.4 75.4 0 0 1 270.1 137.6M270.5 137.2A75.9 75.9 0 0 1 273.0 140.0M272.9 140.0A75.9 75.9 0 0 1 274.9 142.5M275.4 142.2A76.4 76.4 0 0 1 278.2 146.0M277.7 146.4A75.8 75.8 0 0 1 278.3 147.3M277.7 147.6A75.2 75.2 0 0 1 278.3 148.5M278.0 148.7A74.7 74.7 0 0 1 278.5 149.6M280.0 150.1A75.7 75.7 0 0 1 281.2 152.3M281.2 152.3A75.7 75.7 0 0 1 282.7 155.1M286.9 165.9A75.5 75.5 0 0 1 287.5 167.9M288.0 167.8A76.1 76.1 0 0 1 289.0 171.4M288.4 171.8A75.4 75.4 0 0 1 288.8 173.6M288.8 173.6A75.4 75.4 0 0 1 289.5 177.2M290.7 177.8A76.5 76.5 0 0 1 291.1 180.7M291.1 180.7A76.5 76.5 0 0 1 291.3 183.9M290.7 184.6A75.9 75.9 0 0 1 290.8 187.1M290.8 187.1A75.8 75.8 0 0 1 290.8 189.3M146.4 44.5A160.0 160.0 0 0 1 148.4 43.5M191.7 40.8A150.0 150.0 0 0 1 193.8 40.5M216.0 41.0A148.0 148.0 0 0 1 218.1 41.0" stroke="#EF4E2C" stroke-width="2.4" stroke-dasharray="1.8 0.4" fill="none"/>
<path d="M292.5 188.7A77.5 77.5 0 0 1 292.5 191.4M293.7 191.5A78.8 78.8 0 0 1 293.4 197.0M291.5 199.3A77.2 77.2 0 0 1 290.9 202.7M290.6 202.6A76.8 76.8 0 0 1 289.6 207.3M290.7 207.6A78.0 78.0 0 0 1 290.3 209.2M290.9 209.3A78.6 78.6 0 0 1 290.6 210.4M290.1 210.2A78.0 78.0 0 0 1 288.6 214.9M288.7 215.0A78.2 78.2 0 0 1 287.6 218.0M287.3 220.3A78.8 78.8 0 0 1 286.0 223.3M284.5 223.0A77.4 77.4 0 0 1 283.4 225.1M285.4 226.1A79.6 79.6 0 0 1 284.1 228.6M280.6 232.3A78.6 78.6 0 0 1 277.5 236.8M277.6 236.8A78.8 78.8 0 0 1 274.1 241.1M273.2 241.3A78.3 78.3 0 0 1 270.4 244.4M270.9 244.9A79.0 79.0 0 0 1 267.7 247.9M267.8 248.0A79.2 79.2 0 0 1 266.1 249.5M266.5 250.0A79.8 79.8 0 0 1 264.4 251.7M262.9 251.4A78.7 78.7 0 0 1 261.9 252.2M261.7 251.9A78.4 78.4 0 0 1 257.2 255.0M257.5 256.2A79.6 79.6 0 0 1 254.1 258.3M253.5 258.1A79.1 79.1 0 0 1 252.9 258.5M253.2 259.0A79.7 79.7 0 0 1 251.7 259.8M251.0 260.2A79.8 79.8 0 0 1 249.7 260.8M249.8 260.9A79.9 79.9 0 0 1 248.8 261.4M248.2 261.0A79.3 79.3 0 0 1 245.5 262.2M246.0 263.4A80.6 80.6 0 0 1 244.9 263.8M244.7 263.3A80.0 80.0 0 0 1 241.6 264.5M241.3 263.7A79.1 79.1 0 0 1 236.6 265.2M236.7 265.7A79.7 79.7 0 0 1 232.4 266.8M232.5 267.5A80.4 80.4 0 0 1 228.1 268.4M228.3 269.1A81.2 81.2 0 0 1 223.8 269.7M223.7 269.3A80.7 80.7 0 0 1 218.7 269.7M217.7 269.8A80.9 80.9 0 0 1 216.4 269.9M216.4 271.2A82.2 82.2 0 0 1 212.4 271.1M211.8 269.9A81.0 81.0 0 0 1 210.8 269.9M210.8 269.9A81.0 81.0 0 0 1 209.6 269.8M209.6 270.4A81.6 81.6 0 0 1 207.3 270.2M206.2 268.9A80.4 80.4 0 0 1 202.4 268.4M202.2 269.6A81.6 81.6 0 0 1 199.4 269.1M199.5 268.5A81.0 81.0 0 0 1 196.2 267.8M191.7 267.2A81.6 81.6 0 0 1 188.4 266.2M188.2 266.7A82.2 82.2 0 0 1 183.9 265.1M183.9 265.1A82.2 82.2 0 0 1 178.7 262.8M179.2 261.7A81.0 81.0 0 0 1 177.2 260.7M143.2 151.8A80.9 80.9 0 0 1 144.2 149.8M143.7 149.5A81.5 81.5 0 0 1 144.3 148.5M144.8 148.8A80.9 80.9 0 0 1 146.5 145.9M129.4 133.4A102.0 102.0 0 0 1 130.6 131.7M130.0 130.5A103.2 103.2 0 0 1 130.9 129.2M130.8 129.2A103.3 103.3 0 0 1 135.2 123.4M138.2 125.7A99.5 99.5 0 0 1 139.0 124.8M138.5 124.3A100.2 100.2 0 0 1 140.8 121.7M141.4 122.2A99.4 99.4 0 0 1 145.2 118.2M145.2 118.3A99.4 99.4 0 0 1 148.3 115.4M148.9 116.1A98.4 98.4 0 0 1 152.0 113.4M154.0 115.8A95.3 95.3 0 0 1 156.1 114.1M155.9 113.8A95.6 95.6 0 0 1 156.9 113.0M158.0 113.4A94.7 94.7 0 0 1 161.2 111.0M162.1 112.3A93.2 93.2 0 0 1 165.9 109.8M166.5 110.7A92.1 92.1 0 0 1 168.7 109.4M164.1 79.8A120.5 120.5 0 0 1 167.9 78.1M168.8 77.7A120.5 120.5 0 0 1 175.0 75.3M175.0 74.7A121.1 121.1 0 0 1 181.2 72.7M211.9 90.4A98.6 98.6 0 0 1 217.4 90.4M217.4 89.8A99.2 99.2 0 0 1 220.9 90.0M220.8 91.0A98.2 98.2 0 0 1 224.9 91.3M222.9 111.5A77.9 77.9 0 0 1 227.2 112.1M227.5 110.3A79.7 79.7 0 0 1 230.8 110.9M230.5 112.0A78.5 78.5 0 0 1 235.8 113.3M235.7 113.9A77.9 77.9 0 0 1 238.8 114.8M239.0 114.3A78.5 78.5 0 0 1 244.2 116.1M244.6 115.0A79.7 79.7 0 0 1 248.2 116.5M247.4 118.2A77.9 77.9 0 0 1 248.4 118.6M250.4 117.6A79.7 79.7 0 0 1 253.2 119.0M253.7 120.7A78.5 78.5 0 0 1 255.9 122.0M255.6 122.5A77.9 77.9 0 0 1 256.5 123.1M257.7 123.9A77.9 77.9 0 0 1 260.1 125.5M260.4 125.1A78.4 78.4 0 0 1 262.2 126.4M263.4 126.6A79.0 79.0 0 0 1 266.4 129.0M266.4 129.1A78.9 78.9 0 0 1 270.0 132.4M269.1 133.3A77.7 77.7 0 0 1 271.8 136.0M272.2 135.7A78.2 78.2 0 0 1 274.7 138.5M274.7 138.5A78.2 78.2 0 0 1 276.8 141.1M277.9 141.6A78.7 78.7 0 0 1 280.1 144.7M279.6 145.1A78.1 78.1 0 0 1 280.2 146.0M279.7 146.4A77.5 77.5 0 0 1 280.3 147.3M279.9 147.5A77.0 77.0 0 0 1 280.5 148.4M281.3 147.9A78.0 78.0 0 0 1 283.2 151.2M283.9 152.5A78.0 78.0 0 0 1 284.7 154.1M284.6 155.3A77.3 77.3 0 0 1 286.2 158.8M287.2 159.8A77.9 77.9 0 0 1 287.9 161.6M287.9 161.6A77.8 77.8 0 0 1 289.1 165.2M290.3 167.1A78.4 78.4 0 0 1 291.2 170.8M290.6 171.0A77.7 77.7 0 0 1 291.1 173.1M291.1 173.1A77.7 77.7 0 0 1 291.7 176.8M292.9 176.7A78.8 78.8 0 0 1 293.4 180.5M293.0 183.8A78.2 78.2 0 0 1 293.1 187.1M191.4 38.1A152.7 152.7 0 0 1 193.5 37.8M217.2 38.3A150.7 150.7 0 0 1 219.3 38.4" stroke="#F8BA5C" stroke-width="1.6" stroke-dasharray="1.8 0.4" fill="none"/>
<path d="M294.6 188.7A79.6 79.6 0 0 1 294.6 191.5M295.8 191.5A80.9 80.9 0 0 1 295.5 197.2M294.4 197.3A79.8 79.8 0 0 1 294.1 199.3M293.6 199.2A79.3 79.3 0 0 1 293.0 203.0M292.7 203.0A78.9 78.9 0 0 1 291.7 207.8M292.7 208.5A80.1 80.1 0 0 1 292.3 209.7M293.0 209.9A80.7 80.7 0 0 1 292.7 211.0M292.1 210.8A80.1 80.1 0 0 1 290.6 215.6M290.7 215.7A80.3 80.3 0 0 1 289.5 218.8M290.1 219.1A80.9 80.9 0 0 1 287.9 224.2M286.1 224.6A79.5 79.5 0 0 1 285.3 226.1M287.2 227.2A81.7 81.7 0 0 1 285.9 229.6M285.5 229.4A81.2 81.2 0 0 1 282.8 233.7M282.4 233.4A80.7 80.7 0 0 1 279.1 238.0M279.2 238.1A80.9 80.9 0 0 1 275.6 242.5M275.3 242.2A80.4 80.4 0 0 1 271.8 245.8M272.4 246.4A81.1 81.1 0 0 1 269.1 249.5M268.7 250.0A81.3 81.3 0 0 1 267.4 251.1M267.9 251.6A81.9 81.9 0 0 1 265.7 253.4M264.3 253.0A80.8 80.8 0 0 1 263.2 253.9M263.0 253.6A80.5 80.5 0 0 1 258.4 256.8M257.4 258.8A81.7 81.7 0 0 1 255.1 260.1M254.9 259.7A81.2 81.2 0 0 1 253.9 260.3M254.2 260.9A81.8 81.8 0 0 1 252.7 261.7M252.7 261.7A81.9 81.9 0 0 1 250.6 262.7M250.7 262.8A82.0 82.0 0 0 1 249.6 263.3M249.3 262.8A81.4 81.4 0 0 1 246.3 264.1M246.8 265.4A82.7 82.7 0 0 1 245.7 265.8M245.5 265.3A82.1 82.1 0 0 1 242.3 266.5M242.0 265.6A81.2 81.2 0 0 1 237.1 267.2M233.0 269.6A82.5 82.5 0 0 1 228.5 270.4M228.6 271.2A83.3 83.3 0 0 1 224.0 271.8M223.9 271.3A82.8 82.8 0 0 1 218.8 271.7M218.8 271.9A83.0 83.0 0 0 1 216.4 272.0M215.0 273.3A84.3 84.3 0 0 1 212.4 273.2M211.5 272.0A83.1 83.1 0 0 1 210.7 272.0M210.7 272.0A83.1 83.1 0 0 1 209.5 271.9M209.5 272.5A83.7 83.7 0 0 1 207.1 272.3M207.2 271.1A82.5 82.5 0 0 1 202.1 270.5M201.6 271.6A83.7 83.7 0 0 1 199.0 271.2M199.1 270.6A83.1 83.1 0 0 1 195.7 269.8M194.9 269.0A82.5 82.5 0 0 1 191.4 268.1M187.6 268.7A84.3 84.3 0 0 1 183.1 267.1M181.8 266.5A84.3 84.3 0 0 1 177.8 264.6M178.3 263.6A83.1 83.1 0 0 1 176.2 262.5M141.0 151.3A83.0 83.0 0 0 1 142.4 148.8M141.9 148.5A83.6 83.6 0 0 1 142.5 147.5M143.8 146.3A83.0 83.0 0 0 1 144.8 144.8M126.3 133.1A104.8 104.8 0 0 1 127.1 131.9M128.1 131.7A104.1 104.1 0 0 1 128.9 130.5M127.9 129.8A105.3 105.3 0 0 1 129.2 128.0M129.1 127.9A105.4 105.4 0 0 1 133.6 122.1M136.5 124.5A101.6 101.6 0 0 1 137.4 123.4M136.9 123.0A102.3 102.3 0 0 1 139.2 120.3M143.8 116.8A101.5 101.5 0 0 1 146.8 113.8M147.5 114.5A100.5 100.5 0 0 1 150.7 111.8M152.7 114.2A97.4 97.4 0 0 1 154.8 112.5M154.6 112.2A97.7 97.7 0 0 1 155.6 111.4M160.9 110.5A95.3 95.3 0 0 1 164.8 108.0M165.3 108.9A94.2 94.2 0 0 1 167.6 107.6M160.9 79.0A122.6 122.6 0 0 1 167.1 76.1M170.3 74.8A122.6 122.6 0 0 1 174.3 73.4M174.1 72.8A123.2 123.2 0 0 1 180.6 70.7M214.2 88.3A100.7 100.7 0 0 1 217.5 88.3M218.1 87.7A101.3 101.3 0 0 1 221.0 87.9M223.1 109.4A80.0 80.0 0 0 1 227.5 110.0M227.8 108.2A81.8 81.8 0 0 1 231.2 108.8M236.2 111.9A80.0 80.0 0 0 1 239.5 112.8M239.6 112.3A80.6 80.6 0 0 1 244.9 114.2M245.4 113.0A81.8 81.8 0 0 1 249.1 114.6M248.3 116.3A80.0 80.0 0 0 1 249.3 116.7M250.1 115.1A81.8 81.8 0 0 1 254.2 117.2M256.7 120.7A80.0 80.0 0 0 1 257.6 121.3M257.6 121.3A80.0 80.0 0 0 1 261.3 123.8M263.8 124.2A81.1 81.1 0 0 1 264.7 124.9M264.7 124.9A81.1 81.1 0 0 1 267.8 127.4M267.7 127.5A81.0 81.0 0 0 1 271.5 130.9M270.6 131.8A79.8 79.8 0 0 1 273.3 134.6M273.7 134.2A80.3 80.3 0 0 1 276.3 137.2M276.3 137.2A80.3 80.3 0 0 1 278.4 139.8M278.9 139.5A80.8 80.8 0 0 1 281.9 143.6M281.3 143.9A80.2 80.2 0 0 1 281.9 144.9M281.4 145.2A79.6 79.6 0 0 1 282.0 146.1M281.8 146.6A79.1 79.1 0 0 1 282.3 147.3M283.1 146.8A80.1 80.1 0 0 1 285.1 150.2M285.8 151.6A80.1 80.1 0 0 1 286.6 153.1M286.0 153.4A79.4 79.4 0 0 1 288.1 158.0M288.6 157.7A80.0 80.0 0 0 1 289.9 160.9M290.2 161.8A79.9 79.9 0 0 1 291.1 164.6M291.1 164.6A79.9 79.9 0 0 1 291.7 166.7M292.3 166.6A80.5 80.5 0 0 1 293.3 170.4M292.8 171.0A79.8 79.8 0 0 1 293.1 172.7M293.4 174.0A79.8 79.8 0 0 1 293.8 176.5M295.0 176.3A80.9 80.9 0 0 1 295.5 180.3M295.4 180.3A80.9 80.9 0 0 1 295.7 183.6M295.2 185.1A80.3 80.3 0 0 1 295.2 187.0M295.2 187.2A80.2 80.2 0 0 1 295.2 189.3M143.6 40.7A164.6 164.6 0 0 1 145.7 39.7M216.0 36.4A152.6 152.6 0 0 1 218.1 36.4" stroke="#7DE86C" stroke-width="2.0" stroke-dasharray="1.8 0.4" fill="none"/>
<path d="M297.5 189.6A82.5 82.5 0 0 1 297.5 191.6M298.7 191.6A83.8 83.8 0 0 1 298.3 197.5M297.3 197.4A82.7 82.7 0 0 1 297.0 199.7M295.6 208.8A83.0 83.0 0 0 1 295.1 210.5M295.8 210.6A83.6 83.6 0 0 1 295.4 211.8M293.4 216.6A83.2 83.2 0 0 1 292.2 219.9M292.8 220.1A83.8 83.8 0 0 1 290.5 225.5M288.8 225.6A82.4 82.4 0 0 1 287.9 227.4M289.9 228.5A84.6 84.6 0 0 1 288.4 231.1M288.0 230.8A84.1 84.1 0 0 1 285.2 235.3M284.8 235.0A83.6 83.6 0 0 1 281.4 239.8M281.5 239.9A83.8 83.8 0 0 1 277.8 244.4M277.5 244.1A83.3 83.3 0 0 1 273.9 247.9M271.1 251.7A84.2 84.2 0 0 1 269.3 253.3M269.7 253.8A84.8 84.8 0 0 1 267.5 255.7M266.8 254.8A83.7 83.7 0 0 1 264.9 256.2M264.7 255.9A83.4 83.4 0 0 1 259.9 259.2M260.6 260.2A84.6 84.6 0 0 1 256.5 262.7M256.3 262.3A84.1 84.1 0 0 1 255.3 262.8M255.6 263.4A84.7 84.7 0 0 1 254.0 264.2M253.2 264.7A84.8 84.8 0 0 1 251.9 265.3M251.9 265.4A84.9 84.9 0 0 1 250.9 265.9M247.8 268.1A85.6 85.6 0 0 1 246.8 268.5M246.6 268.0A85.0 85.0 0 0 1 243.2 269.2M241.9 268.7A84.1 84.1 0 0 1 237.9 270.0M233.6 272.4A85.4 85.4 0 0 1 229.0 273.3M229.1 274.0A86.2 86.2 0 0 1 224.3 274.7M224.3 274.2A85.7 85.7 0 0 1 218.9 274.6M218.9 274.8A85.9 85.9 0 0 1 216.5 274.9M212.3 275.0A86.0 86.0 0 0 1 210.5 274.9M210.5 274.9A86.0 86.0 0 0 1 209.3 274.8M209.3 275.4A86.6 86.6 0 0 1 206.9 275.2M207.0 274.0A85.4 85.4 0 0 1 201.6 273.3M201.5 274.5A86.6 86.6 0 0 1 198.5 274.0M198.6 273.4A86.0 86.0 0 0 1 195.1 272.7M195.2 272.1A85.4 85.4 0 0 1 190.6 270.8M188.8 271.6A86.6 86.6 0 0 1 186.8 270.9M185.0 270.9A87.2 87.2 0 0 1 182.1 269.7M182.1 269.7A87.2 87.2 0 0 1 176.5 267.2M177.0 266.2A86.0 86.0 0 0 1 174.9 265.1M175.5 264.0A84.8 84.8 0 0 1 171.8 262.0M170.5 263.7A87.0 87.0 0 0 1 165.6 260.6M165.6 260.6A87.0 87.0 0 0 1 161.7 257.7M162.4 256.8A85.8 85.8 0 0 1 160.1 254.9M158.8 254.6A86.4 86.4 0 0 1 156.5 252.6M156.8 252.1A85.8 85.8 0 0 1 156.0 251.3M155.8 251.1A85.8 85.8 0 0 1 153.5 248.8M153.7 248.2A85.2 85.2 0 0 1 152.3 246.7M151.0 247.9A87.0 87.0 0 0 1 148.2 244.7M147.9 241.5A85.2 85.2 0 0 1 145.9 238.8M142.6 237.3A87.0 87.0 0 0 1 141.7 235.9M142.2 235.5A86.4 86.4 0 0 1 140.3 232.5M141.7 231.7A84.8 84.8 0 0 1 140.0 228.5M140.0 228.5A84.8 84.8 0 0 1 139.2 227.0M137.2 228.0A87.0 87.0 0 0 1 136.4 226.3M137.5 225.8A85.8 85.8 0 0 1 135.3 220.9M135.3 220.9A85.8 85.8 0 0 1 133.5 215.8M133.5 215.8A85.8 85.8 0 0 1 132.9 214.1M132.4 214.3A86.4 86.4 0 0 1 131.2 210.2M131.8 210.0A85.8 85.8 0 0 1 131.4 208.3M131.4 208.3A85.8 85.8 0 0 1 130.5 203.6M130.5 203.6A85.8 85.8 0 0 1 130.1 201.2M130.7 201.2A85.2 85.2 0 0 1 130.5 200.0M129.9 200.1A85.8 85.8 0 0 1 129.5 196.5M130.1 196.4A85.2 85.2 0 0 1 129.8 191.7M129.2 191.2A85.8 85.8 0 0 1 129.2 186.9M128.0 186.9A87.0 87.0 0 0 1 128.1 185.1M129.9 185.1A85.2 85.2 0 0 1 129.9 183.9M129.9 183.9A85.2 85.2 0 0 1 130.0 182.8M130.4 182.8A84.8 84.8 0 0 1 130.9 178.1M129.9 177.9A85.8 85.8 0 0 1 130.6 173.8M129.4 173.6A87.0 87.0 0 0 1 130.7 167.7M131.8 168.0A85.8 85.8 0 0 1 132.8 164.5M132.8 164.5A85.8 85.8 0 0 1 133.9 161.1M138.5 150.0A85.9 85.9 0 0 1 139.9 147.4M139.6 146.5A86.5 86.5 0 0 1 139.9 146.0M141.0 145.3A85.9 85.9 0 0 1 142.3 143.2M123.8 131.6A107.7 107.7 0 0 1 124.6 130.3M125.2 130.7A107.0 107.0 0 0 1 126.5 128.8M125.5 128.2A108.2 108.2 0 0 1 126.8 126.3M126.7 126.3A108.3 108.3 0 0 1 131.3 120.3M134.2 122.7A104.5 104.5 0 0 1 135.2 121.5M134.6 121.1A105.2 105.2 0 0 1 137.1 118.3M137.6 118.9A104.4 104.4 0 0 1 141.7 114.7M142.6 113.8A104.4 104.4 0 0 1 144.9 111.7M145.5 112.4A103.4 103.4 0 0 1 148.8 109.5M150.8 112.0A100.3 100.3 0 0 1 153.0 110.2M152.8 109.9A100.6 100.6 0 0 1 153.9 109.0M159.2 108.1A98.2 98.2 0 0 1 163.2 105.5M163.8 106.5A97.1 97.1 0 0 1 166.1 105.1M167.4 72.9A125.5 125.5 0 0 1 173.3 70.6M175.7 69.2A126.1 126.1 0 0 1 179.8 67.9M207.4 85.1A104.2 104.2 0 0 1 211.7 84.9M217.5 84.8A104.2 104.2 0 0 1 221.2 85.0M221.1 86.0A103.2 103.2 0 0 1 225.4 86.3M229.1 105.5A84.7 84.7 0 0 1 231.7 106.0M233.9 107.7A83.5 83.5 0 0 1 237.2 108.5M237.0 109.1A82.9 82.9 0 0 1 240.3 110.1M241.6 109.8A83.5 83.5 0 0 1 246.0 111.5M248.0 111.0A84.7 84.7 0 0 1 250.3 112.0M249.5 113.6A82.9 82.9 0 0 1 250.6 114.1M251.3 112.5A84.7 84.7 0 0 1 255.5 114.6M255.0 115.7A83.5 83.5 0 0 1 258.5 117.7M258.2 118.3A82.9 82.9 0 0 1 259.2 118.9M259.2 118.9A82.9 82.9 0 0 1 263.0 121.5M264.2 121.7A83.4 83.4 0 0 1 265.2 122.4M265.5 121.9A84.0 84.0 0 0 1 266.5 122.6M266.5 122.7A84.0 84.0 0 0 1 269.6 125.2M269.6 125.3A83.9 83.9 0 0 1 273.5 128.8M272.6 129.7A82.7 82.7 0 0 1 275.5 132.6M275.9 132.2A83.2 83.2 0 0 1 278.6 135.3M279.3 136.2A83.2 83.2 0 0 1 280.7 138.0M281.2 137.7A83.7 83.7 0 0 1 284.2 141.9M283.7 142.3A83.1 83.1 0 0 1 284.3 143.3M283.8 143.6A82.5 82.5 0 0 1 284.5 144.6M284.3 145.0A82.0 82.0 0 0 1 284.7 145.8M285.6 145.2A83.0 83.0 0 0 1 287.6 148.7M287.7 149.0A83.0 83.0 0 0 1 289.2 151.8M288.6 152.1A82.3 82.3 0 0 1 290.8 156.8M291.3 156.6A82.9 82.9 0 0 1 292.6 159.8M292.5 159.9A82.8 82.8 0 0 1 293.9 163.7M293.8 163.7A82.8 82.8 0 0 1 294.5 165.9M295.1 165.7A83.4 83.4 0 0 1 296.1 169.7M296.1 172.7A82.7 82.7 0 0 1 296.7 176.1M297.8 175.9A83.8 83.8 0 0 1 298.4 179.9M298.3 179.9A83.8 83.8 0 0 1 298.6 183.4M298.0 183.6A83.2 83.2 0 0 1 298.1 187.0M298.1 187.0A83.1 83.1 0 0 1 298.1 189.3M144.3 37.0A167.6 167.6 0 0 1 146.5 36.1M190.6 33.3A157.6 157.6 0 0 1 192.7 33.0M217.8 33.4A155.6 155.6 0 0 1 220.0 33.5" stroke="#A66AEB" stroke-width="1.8" stroke-dasharray="1.8 0.4" fill="none"/>
<path d="M301.6 188.7A86.6 86.6 0 0 1 301.6 191.7M302.8 191.8A87.9 87.9 0 0 1 302.4 197.9M301.3 198.6A86.8 86.8 0 0 1 301.1 200.2M300.4 201.4A86.3 86.3 0 0 1 299.9 204.3M299.6 204.2A85.9 85.9 0 0 1 298.5 209.5M299.6 209.8A87.1 87.1 0 0 1 299.1 211.5M299.7 211.7A87.7 87.7 0 0 1 299.4 212.9M298.8 212.7A87.1 87.1 0 0 1 297.2 217.9M297.3 218.0A87.3 87.3 0 0 1 296.0 221.4M296.6 221.7A87.9 87.9 0 0 1 294.2 227.3M292.8 226.6A86.5 86.5 0 0 1 291.5 229.3M293.5 230.4A88.7 88.7 0 0 1 292.0 233.1M290.9 234.0A88.2 88.2 0 0 1 288.6 237.6M280.5 246.8A87.4 87.4 0 0 1 276.8 250.8M277.3 251.3A88.1 88.1 0 0 1 273.7 254.7M273.4 255.2A88.3 88.3 0 0 1 272.0 256.4M272.4 256.9A88.9 88.9 0 0 1 270.0 258.9M267.2 259.2A87.5 87.5 0 0 1 262.1 262.7M262.8 263.7A88.7 88.7 0 0 1 258.5 266.2M258.3 265.8A88.2 88.2 0 0 1 257.2 266.4M257.5 267.0A88.8 88.8 0 0 1 255.9 267.9M255.9 267.9A88.9 88.9 0 0 1 253.7 269.0M253.7 269.1A89.0 89.0 0 0 1 252.6 269.6M252.4 269.1A88.4 88.4 0 0 1 249.0 270.6M249.5 271.8A89.7 89.7 0 0 1 248.3 272.3M248.1 271.8A89.1 89.1 0 0 1 244.6 273.1M244.3 272.2A88.2 88.2 0 0 1 239.0 273.9M239.2 274.5A88.8 88.8 0 0 1 234.4 275.7M232.8 276.8A89.5 89.5 0 0 1 229.6 277.3M229.7 278.1A90.3 90.3 0 0 1 224.8 278.8M224.7 278.3A89.8 89.8 0 0 1 219.1 278.7M216.6 280.3A91.3 91.3 0 0 1 212.1 280.2M212.2 279.1A90.1 90.1 0 0 1 210.3 279.0M209.0 279.5A90.7 90.7 0 0 1 206.5 279.3M206.6 278.1A89.5 89.5 0 0 1 201.0 277.4M200.8 278.6A90.7 90.7 0 0 1 197.7 278.0M197.2 277.3A90.1 90.1 0 0 1 194.1 276.6M184.6 275.1A91.3 91.3 0 0 1 180.5 273.5M180.5 273.5A91.3 91.3 0 0 1 174.7 270.9M174.7 269.6A90.1 90.1 0 0 1 173.0 268.7M134.8 148.1A90.0 90.0 0 0 1 136.3 145.4M136.9 144.3A90.0 90.0 0 0 1 138.8 141.0M120.4 129.4A111.8 111.8 0 0 1 121.2 128.1M122.7 125.2A112.3 112.3 0 0 1 123.5 124.0M123.4 123.9A112.4 112.4 0 0 1 128.2 117.7M131.1 120.1A108.6 108.6 0 0 1 132.0 118.9M134.6 116.1A108.5 108.5 0 0 1 138.8 111.7M138.8 111.8A108.5 108.5 0 0 1 142.1 108.7M142.8 109.4A107.5 107.5 0 0 1 146.2 106.4M148.8 108.3A104.4 104.4 0 0 1 150.5 107.0M151.9 106.5A103.8 103.8 0 0 1 156.0 103.5M156.9 104.8A102.3 102.3 0 0 1 161.1 102.0M161.7 103.0A101.2 101.2 0 0 1 164.1 101.5M160.4 71.5A129.6 129.6 0 0 1 164.4 69.7M164.4 69.7A129.6 129.6 0 0 1 172.0 66.8M171.8 66.2A130.2 130.2 0 0 1 178.7 64.0M217.6 80.7A108.3 108.3 0 0 1 221.4 80.9M221.4 81.9A107.3 107.3 0 0 1 225.8 82.2M223.8 102.4A87.0 87.0 0 0 1 228.6 103.1M228.9 101.3A88.8 88.8 0 0 1 232.6 102.0M232.3 103.1A87.6 87.6 0 0 1 238.3 104.5M239.6 105.6A87.0 87.0 0 0 1 241.6 106.2M241.8 105.6A87.6 87.6 0 0 1 247.5 107.7M248.0 106.6A88.8 88.8 0 0 1 252.0 108.3M251.2 109.9A87.0 87.0 0 0 1 252.3 110.4M253.1 108.8A88.8 88.8 0 0 1 257.5 111.0M256.9 112.1A87.6 87.6 0 0 1 260.6 114.2M260.3 114.8A87.0 87.0 0 0 1 261.3 115.4M261.3 115.4A87.0 87.0 0 0 1 265.4 118.1M265.7 117.7A87.5 87.5 0 0 1 267.7 119.1M268.0 118.7A88.1 88.1 0 0 1 269.0 119.4M270.0 120.2A88.1 88.1 0 0 1 272.3 122.1M272.3 122.2A88.0 88.0 0 0 1 276.4 125.9M282.1 133.3A87.3 87.3 0 0 1 284.0 135.5M284.4 135.2A87.8 87.8 0 0 1 287.6 139.6M287.1 140.0A87.2 87.2 0 0 1 287.8 141.0M287.3 141.4A86.6 86.6 0 0 1 287.9 142.4M287.7 142.8A86.1 86.1 0 0 1 288.2 143.6M289.0 143.1A87.1 87.1 0 0 1 291.2 146.8M291.2 146.8A87.1 87.1 0 0 1 292.9 150.0M292.3 150.3A86.4 86.4 0 0 1 294.6 155.2M295.1 155.0A87.0 87.0 0 0 1 296.4 158.4M296.4 158.4A86.9 86.9 0 0 1 297.8 162.4M297.7 162.4A86.9 86.9 0 0 1 298.4 164.8M299.0 164.6A87.5 87.5 0 0 1 300.1 168.7M299.5 168.9A86.8 86.8 0 0 1 300.0 171.2M301.9 175.2A87.9 87.9 0 0 1 302.4 179.5M302.4 179.5A87.9 87.9 0 0 1 302.7 183.2M302.1 183.2A87.3 87.3 0 0 1 302.2 186.9M302.2 186.9A87.2 87.2 0 0 1 302.2 189.3M140.9 33.7A172.1 172.1 0 0 1 143.0 32.7M190.4 28.8A162.1 162.1 0 0 1 192.6 28.5" stroke="#EAEA5A" stroke-width="1.0" stroke-dasharray="1.8 0.4" fill="none"/>
<path d="M304.0 188.7A89.0 89.0 0 0 1 304.0 191.8M305.2 191.8A90.3 90.3 0 0 1 304.8 198.1M303.7 198.0A89.2 89.2 0 0 1 303.5 200.5M301.4 207.4A88.3 88.3 0 0 1 300.8 210.1M301.9 210.3A89.5 89.5 0 0 1 301.4 212.2M300.5 215.4A89.5 89.5 0 0 1 299.4 218.7M299.6 218.8A89.7 89.7 0 0 1 298.2 222.3M298.9 222.5A90.3 90.3 0 0 1 296.3 228.3M294.3 229.1A88.9 88.9 0 0 1 293.6 230.4M295.6 231.5A91.1 91.1 0 0 1 294.1 234.3M293.6 234.0A90.6 90.6 0 0 1 290.6 238.9M289.7 239.4A90.1 90.1 0 0 1 286.6 243.7M286.7 243.8A90.3 90.3 0 0 1 282.7 248.7M282.3 248.4A89.8 89.8 0 0 1 278.5 252.5M275.4 256.6A90.7 90.7 0 0 1 273.5 258.2M273.9 258.8A91.3 91.3 0 0 1 271.5 260.8M270.8 259.9A90.2 90.2 0 0 1 268.8 261.4M268.6 261.2A89.9 89.9 0 0 1 263.4 264.7M264.1 265.7A91.1 91.1 0 0 1 259.7 268.3M259.1 268.1A90.6 90.6 0 0 1 258.4 268.5M258.7 269.1A91.2 91.2 0 0 1 257.0 270.0M256.3 270.4A91.3 91.3 0 0 1 254.7 271.2M254.8 271.3A91.4 91.4 0 0 1 253.6 271.8M253.4 271.3A90.8 90.8 0 0 1 249.9 272.8M249.0 274.0A91.5 91.5 0 0 1 245.4 275.3M237.5 277.4A91.2 91.2 0 0 1 234.9 278.0M233.3 279.1A91.9 91.9 0 0 1 230.0 279.7M227.6 280.8A92.7 92.7 0 0 1 225.0 281.1M225.0 280.7A92.2 92.2 0 0 1 219.2 281.1M212.1 281.5A92.5 92.5 0 0 1 210.2 281.4M210.2 281.4A92.5 92.5 0 0 1 208.9 281.3M208.8 281.9A93.1 93.1 0 0 1 206.2 281.7M206.4 280.5A91.9 91.9 0 0 1 200.6 279.8M200.4 281.0A93.1 93.1 0 0 1 197.2 280.4M195.9 279.5A92.5 92.5 0 0 1 193.6 279.0M193.7 278.4A91.9 91.9 0 0 1 188.7 277.1M186.9 277.8A93.1 93.1 0 0 1 184.7 277.0M179.6 275.8A93.7 93.7 0 0 1 173.6 273.1M173.8 271.8A92.5 92.5 0 0 1 171.9 270.8M132.7 147.1A92.4 92.4 0 0 1 134.2 144.2M133.7 143.9A93.0 93.0 0 0 1 134.3 142.8M134.8 143.1A92.4 92.4 0 0 1 136.8 139.8M119.8 127.2A113.5 113.5 0 0 1 121.1 125.2M120.2 124.6A114.7 114.7 0 0 1 121.5 122.6M122.6 120.9A114.8 114.8 0 0 1 126.3 116.1M129.2 118.5A111.0 111.0 0 0 1 130.2 117.3M130.4 116.1A111.7 111.7 0 0 1 132.3 114.0M133.1 114.2A110.9 110.9 0 0 1 137.1 110.0M137.2 110.1A110.9 110.9 0 0 1 140.5 106.9M148.7 104.8A107.1 107.1 0 0 1 149.9 103.9M151.2 104.1A106.2 106.2 0 0 1 154.7 101.6M155.5 102.8A104.7 104.7 0 0 1 159.8 100.0M160.4 100.9A103.6 103.6 0 0 1 162.9 99.4M156.7 70.6A132.0 132.0 0 0 1 163.4 67.5M163.4 67.5A132.0 132.0 0 0 1 171.2 64.5M171.0 63.9A132.6 132.6 0 0 1 178.0 61.7M199.1 78.8A111.3 111.3 0 0 1 206.8 78.0M206.9 78.6A110.7 110.7 0 0 1 211.5 78.4M211.5 79.0A110.1 110.1 0 0 1 217.7 78.9M229.3 98.9A91.2 91.2 0 0 1 233.0 99.6M232.8 100.8A90.0 90.0 0 0 1 238.9 102.2M238.7 102.8A89.4 89.4 0 0 1 242.3 103.9M242.5 103.3A90.0 90.0 0 0 1 248.4 105.4M249.7 104.7A91.2 91.2 0 0 1 253.0 106.1M252.2 107.7A89.4 89.4 0 0 1 253.3 108.2M254.1 106.6A91.2 91.2 0 0 1 258.7 108.9M258.1 110.0A90.0 90.0 0 0 1 261.9 112.2M261.6 112.7A89.4 89.4 0 0 1 262.6 113.4M267.6 116.1A89.9 89.9 0 0 1 269.1 117.2M269.5 116.7A90.5 90.5 0 0 1 270.5 117.5M270.7 117.7A90.5 90.5 0 0 1 273.9 120.3M274.9 121.3A90.4 90.4 0 0 1 278.0 124.2M277.2 125.1A89.2 89.2 0 0 1 280.2 128.2M281.9 129.2A89.7 89.7 0 0 1 283.5 131.1M283.5 131.1A89.7 89.7 0 0 1 285.9 134.0M286.3 133.7A90.2 90.2 0 0 1 289.6 138.3M289.1 138.7A89.6 89.6 0 0 1 289.8 139.7M289.3 140.0A89.0 89.0 0 0 1 289.9 141.1M289.6 141.3A88.5 88.5 0 0 1 290.2 142.3M291.1 141.8A89.5 89.5 0 0 1 293.3 145.6M293.3 145.6A89.5 89.5 0 0 1 295.0 148.9M295.4 151.2A88.8 88.8 0 0 1 296.8 154.3M297.5 154.7A89.4 89.4 0 0 1 298.7 157.6M298.6 157.6A89.3 89.3 0 0 1 300.1 161.7M300.0 161.7A89.3 89.3 0 0 1 300.7 164.1M301.3 163.9A89.9 89.9 0 0 1 302.4 168.2M301.8 168.3A89.2 89.2 0 0 1 302.3 170.8M302.3 170.8A89.2 89.2 0 0 1 303.1 175.0M304.9 181.0A90.3 90.3 0 0 1 305.1 183.0M304.5 183.1A89.7 89.7 0 0 1 304.6 186.8M304.6 186.8A89.6 89.6 0 0 1 304.6 189.3M215.9 27.0A162.0 162.0 0 0 1 218.2 27.0" stroke="#5068F0" stroke-width="2.0" stroke-dasharray="1.8 0.4" fill="none"/>
<path d="M301.0 194.6A86.2 86.2 0 0 1 300.8 197.7M299.7 197.6A85.2 85.2 0 0 1 299.4 200.0M298.8 200.8A84.6 84.6 0 0 1 298.3 204.0M298.0 203.9A84.3 84.3 0 0 1 296.9 209.1M298.0 209.4A85.4 85.4 0 0 1 297.5 211.1M298.1 211.3A86.1 86.1 0 0 1 297.8 212.4M297.3 212.3A85.5 85.5 0 0 1 295.6 217.4M295.7 217.4A85.6 85.6 0 0 1 294.5 220.8M295.1 221.0A86.3 86.3 0 0 1 292.7 226.6M291.1 226.5A84.8 84.8 0 0 1 290.0 228.6M292.0 229.6A87.1 87.1 0 0 1 290.6 232.3M290.1 232.0A86.5 86.5 0 0 1 287.3 236.6M286.9 236.4A86.1 86.1 0 0 1 283.4 241.3M283.5 241.4A86.2 86.2 0 0 1 279.7 246.0M277.8 247.4A85.7 85.7 0 0 1 275.6 249.6M276.1 250.1A86.5 86.5 0 0 1 272.6 253.5M272.7 253.6A86.6 86.6 0 0 1 270.9 255.1M271.3 255.7A87.3 87.3 0 0 1 269.0 257.6M268.3 256.7A86.2 86.2 0 0 1 266.4 258.2M266.2 257.9A85.8 85.8 0 0 1 261.2 261.3M261.9 262.3A87.0 87.0 0 0 1 257.7 264.8M257.5 264.4A86.6 86.6 0 0 1 256.4 265.0M256.7 265.5A87.2 87.2 0 0 1 255.1 266.4M255.1 266.5A87.2 87.2 0 0 1 253.0 267.5M253.0 267.6A87.3 87.3 0 0 1 251.9 268.1M251.7 267.6A86.7 86.7 0 0 1 248.3 269.1M248.8 270.3A88.1 88.1 0 0 1 247.7 270.8M247.5 270.2A87.5 87.5 0 0 1 244.1 271.5M243.8 270.7A86.6 86.6 0 0 1 238.6 272.3M238.7 272.9A87.2 87.2 0 0 1 234.0 274.1M233.7 274.9A87.9 87.9 0 0 1 229.4 275.7M221.8 276.9A88.2 88.2 0 0 1 219.0 277.1M219.0 277.3A88.3 88.3 0 0 1 216.5 277.3M216.6 278.6A89.6 89.6 0 0 1 212.2 278.6M212.2 277.4A88.5 88.5 0 0 1 210.4 277.3M210.4 277.3A88.5 88.5 0 0 1 209.1 277.3M209.1 277.9A89.0 89.0 0 0 1 206.6 277.7M206.7 276.5A87.9 87.9 0 0 1 201.3 275.8M201.1 277.0A89.0 89.0 0 0 1 198.0 276.4M198.1 275.8A88.5 88.5 0 0 1 194.5 275.0M192.4 273.9A87.9 87.9 0 0 1 189.9 273.2M189.6 274.3A89.0 89.0 0 0 1 186.0 273.2M185.5 273.7A89.7 89.7 0 0 1 181.1 272.0M181.1 272.0A89.7 89.7 0 0 1 175.4 269.4M175.9 268.4A88.5 88.5 0 0 1 173.7 267.2M137.3 145.8A89.0 89.0 0 0 1 137.8 144.8M138.3 145.1A88.4 88.4 0 0 1 140.2 141.9M121.8 130.3A110.2 110.2 0 0 1 122.6 129.0M123.2 129.4A109.5 109.5 0 0 1 124.5 127.5M123.5 126.8A110.6 110.6 0 0 1 124.8 124.9M127.0 121.8A110.7 110.7 0 0 1 129.4 118.7M132.3 121.1A107.0 107.0 0 0 1 133.3 120.0M133.0 119.2A107.7 107.7 0 0 1 135.3 116.7M135.8 117.2A106.9 106.9 0 0 1 140.0 112.9M140.0 113.0A106.8 106.8 0 0 1 143.3 109.9M143.9 110.6A105.9 105.9 0 0 1 147.2 107.7M149.8 109.7A102.7 102.7 0 0 1 151.5 108.3M152.9 107.8A102.2 102.2 0 0 1 157.0 104.9M157.8 106.1A100.7 100.7 0 0 1 161.9 103.4M158.5 74.2A128.0 128.0 0 0 1 165.0 71.2M166.0 70.8A128.0 128.0 0 0 1 172.5 68.3M172.3 67.7A128.5 128.5 0 0 1 179.1 65.6M201.4 82.6A107.2 107.2 0 0 1 207.1 82.0M211.7 83.0A106.1 106.1 0 0 1 217.6 83.0M217.6 82.4A106.7 106.7 0 0 1 221.3 82.5M221.3 83.5A105.7 105.7 0 0 1 225.7 83.9M223.6 104.1A85.4 85.4 0 0 1 228.4 104.7M228.6 102.9A87.2 87.2 0 0 1 232.2 103.6M232.0 104.7A86.0 86.0 0 0 1 237.8 106.1M237.7 106.7A85.4 85.4 0 0 1 241.1 107.7M242.2 107.5A86.0 86.0 0 0 1 246.9 109.2M247.4 108.1A87.2 87.2 0 0 1 251.3 109.8M250.5 111.4A85.4 85.4 0 0 1 251.6 111.9M252.4 110.3A87.2 87.2 0 0 1 256.7 112.5M256.1 113.5A86.0 86.0 0 0 1 259.8 115.6M259.5 116.2A85.3 85.3 0 0 1 260.5 116.8M264.7 119.0A85.9 85.9 0 0 1 266.7 120.4M267.2 120.1A86.4 86.4 0 0 1 268.0 120.7M268.0 120.7A86.4 86.4 0 0 1 271.2 123.4M271.2 123.4A86.4 86.4 0 0 1 275.2 127.1M274.3 128.0A85.1 85.1 0 0 1 277.2 131.0M278.3 131.3A85.7 85.7 0 0 1 280.4 133.7M280.4 133.7A85.6 85.6 0 0 1 282.7 136.5M283.1 136.2A86.2 86.2 0 0 1 286.3 140.6M285.7 140.9A85.5 85.5 0 0 1 286.4 141.9M285.9 142.3A84.9 84.9 0 0 1 286.5 143.3M289.7 147.6A85.4 85.4 0 0 1 291.4 150.7M290.8 151.0A84.8 84.8 0 0 1 293.0 155.9M294.8 159.0A85.3 85.3 0 0 1 296.2 162.9M296.2 162.9A85.2 85.2 0 0 1 296.9 165.2M297.4 165.1A85.8 85.8 0 0 1 298.5 169.1M298.0 170.0A85.2 85.2 0 0 1 298.4 171.6M300.7 179.7A86.2 86.2 0 0 1 301.1 183.3M300.4 183.3A85.6 85.6 0 0 1 300.6 186.9M300.5 186.9A85.6 85.6 0 0 1 300.6 189.3M143.1 35.0A170.0 170.0 0 0 1 145.2 34.0M191.8 30.7A160.0 160.0 0 0 1 194.0 30.4" stroke="#66E4EE" stroke-width="1.9" stroke-dasharray="1.8 0.4" fill="none"/>
<path d="M178.6 258.1A78.1 78.1 0 0 1 175.2 256.2M174.1 258.1A80.3 80.3 0 0 1 169.4 255.1M169.4 255.1A80.3 80.3 0 0 1 165.8 252.4M166.5 251.5A79.1 79.1 0 0 1 164.4 249.8M164.0 250.2A79.7 79.7 0 0 1 161.1 247.7M161.5 247.2A79.1 79.1 0 0 1 160.7 246.5M160.7 246.5A79.1 79.1 0 0 1 158.3 244.1M158.7 243.7A78.5 78.5 0 0 1 157.2 242.1M155.0 242.4A80.3 80.3 0 0 1 153.3 240.4M154.7 239.2A78.5 78.5 0 0 1 151.3 234.9M150.4 235.6A79.7 79.7 0 0 1 149.4 234.3M148.9 234.6A80.3 80.3 0 0 1 147.4 232.3M147.9 231.9A79.7 79.7 0 0 1 146.1 229.1M147.5 228.3A78.1 78.1 0 0 1 145.9 225.4M145.9 225.4A78.1 78.1 0 0 1 145.2 224.0M143.2 225.0A80.3 80.3 0 0 1 142.5 223.4M143.5 222.9A79.1 79.1 0 0 1 141.6 218.4M141.6 218.4A79.1 79.1 0 0 1 139.9 213.7M139.9 213.7A79.1 79.1 0 0 1 139.4 212.1M138.8 212.3A79.7 79.7 0 0 1 137.7 208.6M138.3 208.4A79.1 79.1 0 0 1 137.9 206.8M137.9 206.8A79.1 79.1 0 0 1 137.1 202.5M137.0 202.2A79.1 79.1 0 0 1 136.7 200.3M137.2 199.7A78.5 78.5 0 0 1 137.2 199.1M136.5 198.6A79.1 79.1 0 0 1 136.2 195.9M136.7 194.3A78.5 78.5 0 0 1 136.5 191.5M134.7 187.0A80.3 80.3 0 0 1 134.8 185.4M136.6 185.4A78.5 78.5 0 0 1 136.6 184.3M136.6 184.3A78.5 78.5 0 0 1 136.7 183.3M137.1 183.3A78.1 78.1 0 0 1 137.6 178.9M136.6 178.8A79.1 79.1 0 0 1 137.2 175.0M136.0 174.8A80.3 80.3 0 0 1 137.2 169.3M138.3 169.6A79.1 79.1 0 0 1 139.2 166.4M139.3 166.2A79.1 79.1 0 0 1 140.2 163.2" stroke="#EF4E2C" stroke-width="1.6" stroke-dasharray="1.8 0.4" fill="none"/>
<path d="M177.6 259.9A80.1 80.1 0 0 1 174.2 257.9M173.1 259.8A82.3 82.3 0 0 1 168.3 256.7M168.3 256.7A82.3 82.3 0 0 1 164.6 254.0M164.3 252.3A81.1 81.1 0 0 1 163.1 251.3M162.4 251.5A81.7 81.7 0 0 1 159.7 249.1M160.1 248.7A81.1 81.1 0 0 1 159.3 247.9M158.2 246.9A81.1 81.1 0 0 1 156.9 245.5M157.3 245.1A80.5 80.5 0 0 1 155.7 243.5M154.4 244.7A82.3 82.3 0 0 1 151.8 241.7M153.2 240.5A80.5 80.5 0 0 1 149.7 236.1M148.7 236.8A81.7 81.7 0 0 1 147.7 235.4M147.3 235.7A82.3 82.3 0 0 1 145.7 233.3M145.9 232.6A81.7 81.7 0 0 1 144.4 230.1M145.2 228.2A80.1 80.1 0 0 1 144.1 226.4M144.1 226.2A80.1 80.1 0 0 1 143.4 224.9M141.4 225.9A82.3 82.3 0 0 1 140.7 224.3M141.7 223.8A81.1 81.1 0 0 1 139.7 219.1M139.7 219.1A81.1 81.1 0 0 1 138.0 214.3M138.0 214.3A81.1 81.1 0 0 1 137.4 212.7M136.9 212.9A81.7 81.7 0 0 1 135.8 209.0M136.2 208.1A81.1 81.1 0 0 1 136.0 207.2M135.6 205.3A81.1 81.1 0 0 1 135.1 202.8M135.1 202.8A81.1 81.1 0 0 1 134.7 200.6M135.3 200.5A80.5 80.5 0 0 1 135.2 199.4M134.4 197.8A81.1 81.1 0 0 1 134.2 196.1M134.8 195.4A80.5 80.5 0 0 1 134.5 191.5M133.9 191.5A81.1 81.1 0 0 1 133.9 187.0M132.7 187.0A82.3 82.3 0 0 1 132.8 185.3M134.6 185.3A80.5 80.5 0 0 1 134.6 184.2M134.6 184.2A80.5 80.5 0 0 1 134.7 183.1M135.1 183.1A80.1 80.1 0 0 1 135.6 178.7M134.6 178.6A81.1 81.1 0 0 1 135.2 174.6M136.4 169.1A81.1 81.1 0 0 1 137.3 165.8M137.3 165.8A81.1 81.1 0 0 1 138.3 162.6" stroke="#F8BA5C" stroke-width="1.4" stroke-dasharray="1.8 0.4" fill="none"/>
<path d="M176.7 261.6A82.1 82.1 0 0 1 173.2 259.7M172.1 261.6A84.3 84.3 0 0 1 167.1 258.4M167.1 258.4A84.3 84.3 0 0 1 163.3 255.6M164.1 254.7A83.1 83.1 0 0 1 161.8 252.8M161.4 253.3A83.7 83.7 0 0 1 158.3 250.6M158.4 249.9A83.1 83.1 0 0 1 157.9 249.4M157.7 249.2A83.1 83.1 0 0 1 155.4 246.9M152.9 246.1A84.3 84.3 0 0 1 150.2 243.0M151.6 241.8A82.5 82.5 0 0 1 148.1 237.3M147.1 238.0A83.7 83.7 0 0 1 146.1 236.5M145.6 236.8A84.3 84.3 0 0 1 144.0 234.4M144.5 234.1A83.7 83.7 0 0 1 142.7 231.1M139.4 226.2A84.3 84.3 0 0 1 138.8 225.2M137.1 218.0A83.1 83.1 0 0 1 136.1 215.0M134.3 208.9A83.1 83.1 0 0 1 134.0 207.7M134.0 207.7A83.1 83.1 0 0 1 133.1 203.1M133.1 203.1A83.1 83.1 0 0 1 132.7 200.9M133.3 200.8A82.5 82.5 0 0 1 133.2 199.6M132.6 199.7A83.1 83.1 0 0 1 132.2 196.2M132.8 196.2A82.5 82.5 0 0 1 132.5 191.6M131.9 190.7A83.1 83.1 0 0 1 131.9 187.0M130.7 186.2A84.3 84.3 0 0 1 130.8 185.2M132.6 185.0A82.5 82.5 0 0 1 132.6 184.1M132.6 184.1A82.5 82.5 0 0 1 132.7 183.0M133.1 183.0A82.1 82.1 0 0 1 133.6 178.4M132.6 178.3A83.1 83.1 0 0 1 133.2 174.3M132.0 174.1A84.3 84.3 0 0 1 133.3 168.3M134.4 168.6A83.1 83.1 0 0 1 135.4 165.3M135.4 165.3A83.1 83.1 0 0 1 136.4 161.9" stroke="#7DE86C" stroke-width="1.8" stroke-dasharray="1.8 0.4" fill="none"/>
<path d="M23.2 163.1A193.5 193.5 0 0 1 25.7 149.1" stroke="#F064CC" stroke-width="1.6" stroke-dasharray="1.8 0.4" fill="none"/>
<path d="M69.0 167.7A147.5 147.5 0 0 1 70.4 160.1" stroke="#5068F0" stroke-width="1.6" stroke-dasharray="1.8 0.4" fill="none"/>
<path d="M286.0 204.2h1.1v1.0h-1.1zM256.1 257.3h1.1v1.0h-1.1zM223.5 281.1h1.1v1.0h-1.1zM215.0 271.9h1.1v1.0h-1.1zM208.6 303.6h1.5v1.3h-1.5zM194.2 265.2h1.1v1.0h-1.1zM186.3 275.0h1.1v1.0h-1.1zM133.4 294.8h1.5v1.3h-1.5zM119.2 243.2h1.5v1.3h-1.5zM52.2 155.1h1.5v1.3h-1.5zM51.7 147.8h1.5v1.3h-1.5zM133.8 141.9h1.1v1.0h-1.1zM140.0 115.5h1.1v1.0h-1.1zM169.4 108.2h1.5v1.3h-1.5zM170.4 103.1h1.5v1.3h-1.5zM178.8 61.4h1.5v1.3h-1.5zM191.0 100.4h1.5v1.3h-1.5zM199.1 98.6h1.5v1.3h-1.5zM220.5 59.6h1.5v1.3h-1.5zM224.3 114.5h1.1v1.0h-1.1zM241.7 49.9h1.5v1.3h-1.5zM253.7 108.0h1.1v1.0h-1.1zM275.9 118.3h1.1v1.0h-1.1zM272.0 128.9h1.1v1.0h-1.1zM327.3 108.6h1.5v1.3h-1.5zM314.2 128.8h1.5v1.3h-1.5zM316.9 133.8h1.5v1.3h-1.5zM299.2 178.4h1.1v1.0h-1.1zM344.7 212.3h1.3v1.2h-1.3zM318.3 258.5h1.3v1.2h-1.3zM316.6 260.5h1.3v1.2h-1.3zM289.0 285.3h1.3v1.2h-1.3zM270.6 296.0h1.3v1.2h-1.3zM258.6 302.6h1.3v1.2h-1.3zM224.0 313.3h1.3v1.2h-1.3zM220.5 313.8h1.3v1.2h-1.3zM154.6 317.8h1.3v1.2h-1.3zM147.5 316.4h1.3v1.2h-1.3zM142.7 299.5h1.3v1.2h-1.3zM109.0 293.1h1.3v1.2h-1.3zM99.0 269.8h1.3v1.2h-1.3zM82.3 262.2h1.3v1.2h-1.3zM80.9 257.0h1.3v1.2h-1.3zM63.0 252.0h1.3v1.2h-1.3zM129.5 142.5h1.3v1.2h-1.3zM124.9 137.6h1.3v1.2h-1.3zM119.8 77.3h1.3v1.2h-1.3zM124.2 73.0h1.3v1.2h-1.3zM146.8 59.1h1.3v1.2h-1.3zM182.8 29.1h1.3v1.2h-1.3zM184.8 27.4h1.3v1.2h-1.3zM194.2 29.2h1.3v1.2h-1.3zM201.6 58.3h1.3v1.2h-1.3zM213.3 32.8h1.3v1.2h-1.3zM296.6 58.9h1.3v1.2h-1.3zM306.5 86.1h1.3v1.2h-1.3zM329.9 109.3h1.3v1.2h-1.3zM329.7 171.4h1.3v1.2h-1.3zM341.9 179.5h1.3v1.2h-1.3z" fill="#EF4E2C"/>
<path d="M283.7 201.7h1.1v1.0h-1.1zM321.9 211.2h1.5v1.3h-1.5zM292.6 242.0h1.1v1.0h-1.1zM314.1 267.5h1.5v1.3h-1.5zM272.2 246.7h1.1v1.0h-1.1zM285.8 263.5h1.5v1.3h-1.5zM262.4 239.5h1.1v1.0h-1.1zM276.4 292.6h1.5v1.3h-1.5zM250.0 282.6h1.5v1.3h-1.5zM256.8 310.4h1.5v1.3h-1.5zM232.0 280.3h1.1v1.0h-1.1zM225.2 265.2h1.1v1.0h-1.1zM217.0 280.0h1.1v1.0h-1.1zM188.9 261.7h1.1v1.0h-1.1zM148.1 295.8h1.5v1.3h-1.5zM103.9 219.2h1.5v1.3h-1.5zM101.3 212.4h1.5v1.3h-1.5zM130.5 136.8h1.5v1.3h-1.5zM110.9 119.7h1.5v1.3h-1.5zM82.7 98.3h1.5v1.3h-1.5zM135.1 119.0h1.1v1.0h-1.1zM148.7 112.4h1.1v1.0h-1.1zM186.7 74.5h1.5v1.3h-1.5zM211.4 54.6h1.5v1.3h-1.5zM248.3 107.9h1.1v1.0h-1.1zM257.6 89.0h1.5v1.3h-1.5zM296.6 123.1h1.5v1.3h-1.5zM279.1 140.2h1.1v1.0h-1.1zM278.6 142.6h1.1v1.0h-1.1zM302.2 129.0h1.5v1.3h-1.5zM313.0 177.3h1.5v1.3h-1.5zM347.0 212.7h1.3v1.2h-1.3zM320.2 259.8h1.3v1.2h-1.3zM318.5 261.9h1.3v1.2h-1.3zM290.6 268.5h1.3v1.2h-1.3zM275.3 295.7h1.3v1.2h-1.3zM273.1 297.1h1.3v1.2h-1.3zM263.4 302.8h1.3v1.2h-1.3zM259.5 304.7h1.3v1.2h-1.3zM224.1 315.6h1.3v1.2h-1.3zM203.8 304.5h1.3v1.2h-1.3zM178.0 315.2h1.3v1.2h-1.3zM141.5 301.4h1.3v1.2h-1.3zM107.3 294.7h1.3v1.2h-1.3zM80.3 263.3h1.3v1.2h-1.3zM68.7 244.9h1.3v1.2h-1.3zM61.2 228.9h1.3v1.2h-1.3zM52.2 169.1h1.3v1.2h-1.3zM127.5 141.4h1.3v1.2h-1.3zM96.2 97.4h1.3v1.2h-1.3zM87.0 76.9h1.3v1.2h-1.3zM105.6 70.9h1.3v1.2h-1.3zM122.4 87.7h1.3v1.2h-1.3zM118.3 75.6h1.3v1.2h-1.3zM122.8 71.2h1.3v1.2h-1.3zM184.4 25.1h1.3v1.2h-1.3zM194.0 27.0h1.3v1.2h-1.3zM201.4 56.0h1.3v1.2h-1.3zM213.2 30.5h1.3v1.2h-1.3zM253.7 67.4h1.3v1.2h-1.3zM297.8 56.9h1.3v1.2h-1.3zM308.0 84.4h1.3v1.2h-1.3zM331.8 108.0h1.3v1.2h-1.3zM317.2 140.0h1.3v1.2h-1.3zM332.0 171.0h1.3v1.2h-1.3zM344.2 179.3h1.3v1.2h-1.3zM358.1 186.4h1.3v1.2h-1.3zM352.9 187.4h1.3v1.2h-1.3z" fill="#F8BA5C"/>
<path d="M261.8 256.6h1.1v1.0h-1.1zM228.8 276.8h1.1v1.0h-1.1zM227.2 274.7h1.1v1.0h-1.1zM231.4 316.8h1.5v1.3h-1.5zM82.3 247.1h1.5v1.3h-1.5zM136.2 135.7h1.1v1.0h-1.1zM153.6 112.9h1.1v1.0h-1.1zM149.8 76.7h1.5v1.3h-1.5zM165.6 99.9h1.5v1.3h-1.5zM157.4 69.4h1.1v1.0h-1.1zM149.5 53.1h1.5v1.3h-1.5zM183.0 73.2h1.5v1.3h-1.5zM194.0 78.1h1.5v1.3h-1.5zM196.2 85.9h1.5v1.3h-1.5zM217.7 63.4h1.5v1.3h-1.5zM227.8 50.2h1.5v1.3h-1.5zM246.1 64.3h1.5v1.3h-1.5zM252.6 64.5h1.5v1.3h-1.5zM235.4 122.5h1.1v1.0h-1.1zM249.6 117.6h1.1v1.0h-1.1zM258.9 109.0h1.1v1.0h-1.1zM283.9 92.5h1.5v1.3h-1.5zM268.6 130.8h1.1v1.0h-1.1zM297.6 147.2h1.1v1.0h-1.1zM304.0 149.1h1.5v1.3h-1.5zM291.5 166.4h1.1v1.0h-1.1zM290.2 181.1h1.1v1.0h-1.1zM340.6 233.4h1.3v1.2h-1.3zM328.0 253.0h1.3v1.2h-1.3zM326.9 254.5h1.3v1.2h-1.3zM320.4 263.2h1.3v1.2h-1.3zM276.4 297.7h1.3v1.2h-1.3zM274.2 299.1h1.3v1.2h-1.3zM264.3 304.9h1.3v1.2h-1.3zM260.3 306.9h1.3v1.2h-1.3zM177.4 317.4h1.3v1.2h-1.3zM121.7 308.7h1.3v1.2h-1.3zM105.7 296.3h1.3v1.2h-1.3zM98.2 252.3h1.3v1.2h-1.3zM59.0 229.4h1.3v1.2h-1.3zM49.9 168.8h1.3v1.2h-1.3zM63.9 140.7h1.3v1.2h-1.3zM100.0 116.9h1.3v1.2h-1.3zM85.3 75.4h1.3v1.2h-1.3zM120.8 86.0h1.3v1.2h-1.3zM116.8 73.8h1.3v1.2h-1.3zM121.4 69.4h1.3v1.2h-1.3zM184.0 22.8h1.3v1.2h-1.3zM201.1 53.7h1.3v1.2h-1.3zM254.0 88.3h1.3v1.2h-1.3zM299.6 51.9h1.3v1.2h-1.3zM316.3 66.9h1.3v1.2h-1.3zM301.9 89.7h1.3v1.2h-1.3zM309.5 82.7h1.3v1.2h-1.3zM323.9 104.1h1.3v1.2h-1.3zM334.3 170.7h1.3v1.2h-1.3zM344.8 176.5h1.3v1.2h-1.3zM346.5 179.2h1.3v1.2h-1.3zM356.4 182.4h1.3v1.2h-1.3zM355.2 187.4h1.3v1.2h-1.3z" fill="#7DE86C"/>
<path d="M255.3 249.1h1.1v1.0h-1.1zM250.3 257.1h1.1v1.0h-1.1zM221.5 272.0h1.1v1.0h-1.1zM185.5 264.7h1.1v1.0h-1.1zM133.1 145.2h1.1v1.0h-1.1zM130.4 130.1h1.1v1.0h-1.1zM160.0 115.7h1.1v1.0h-1.1zM193.1 101.0h1.5v1.3h-1.5zM192.2 91.4h1.5v1.3h-1.5zM196.0 102.6h1.5v1.3h-1.5zM288.1 153.8h1.1v1.0h-1.1zM293.4 180.2h1.1v1.0h-1.1zM342.8 234.1h1.3v1.2h-1.3zM337.1 244.1h1.3v1.2h-1.3zM331.2 252.6h1.3v1.2h-1.3zM328.9 255.6h1.3v1.2h-1.3zM322.2 264.5h1.3v1.2h-1.3zM303.4 283.2h1.3v1.2h-1.3zM298.4 287.1h1.3v1.2h-1.3zM295.4 289.2h1.3v1.2h-1.3zM275.3 301.1h1.3v1.2h-1.3zM265.2 307.0h1.3v1.2h-1.3zM261.1 309.0h1.3v1.2h-1.3zM247.7 314.5h1.3v1.2h-1.3zM209.9 316.1h1.3v1.2h-1.3zM172.7 326.3h1.3v1.2h-1.3zM168.5 326.1h1.3v1.2h-1.3zM161.2 325.5h1.3v1.2h-1.3zM120.3 310.5h1.3v1.2h-1.3zM104.1 297.9h1.3v1.2h-1.3zM96.2 253.4h1.3v1.2h-1.3zM70.9 241.8h1.3v1.2h-1.3zM47.6 168.5h1.3v1.2h-1.3zM61.7 140.0h1.3v1.2h-1.3zM98.0 115.7h1.3v1.2h-1.3zM119.3 84.3h1.3v1.2h-1.3zM98.1 55.6h1.3v1.2h-1.3zM119.9 67.6h1.3v1.2h-1.3zM157.6 17.9h1.3v1.2h-1.3zM200.9 51.4h1.3v1.2h-1.3zM254.8 86.2h1.3v1.2h-1.3zM300.8 50.0h1.3v1.2h-1.3zM317.8 65.2h1.3v1.2h-1.3zM325.7 102.7h1.3v1.2h-1.3zM343.8 90.1h1.3v1.2h-1.3zM329.1 108.7h1.3v1.2h-1.3zM360.1 124.7h1.3v1.2h-1.3zM361.8 140.5h1.3v1.2h-1.3zM336.6 170.4h1.3v1.2h-1.3zM347.1 176.3h1.3v1.2h-1.3zM348.8 179.0h1.3v1.2h-1.3zM358.7 182.3h1.3v1.2h-1.3zM357.5 187.4h1.3v1.2h-1.3z" fill="#A66AEB"/>
<path d="M291.4 200.4h1.1v1.0h-1.1zM302.5 231.4h1.5v1.3h-1.5zM294.0 233.7h1.1v1.0h-1.1zM270.4 252.4h1.1v1.0h-1.1zM102.0 203.3h1.5v1.3h-1.5zM153.2 80.9h1.5v1.3h-1.5zM149.7 72.9h1.5v1.3h-1.5zM170.0 78.6h1.1v1.0h-1.1zM252.2 90.6h1.5v1.3h-1.5zM247.6 119.3h1.1v1.0h-1.1zM284.2 142.1h1.1v1.0h-1.1zM287.0 146.6h1.1v1.0h-1.1zM345.0 234.9h1.3v1.2h-1.3zM339.2 245.0h1.3v1.2h-1.3zM333.2 253.7h1.3v1.2h-1.3zM309.0 270.1h1.3v1.2h-1.3zM305.0 284.9h1.3v1.2h-1.3zM299.9 288.9h1.3v1.2h-1.3zM276.4 303.2h1.3v1.2h-1.3zM266.1 309.1h1.3v1.2h-1.3zM254.8 310.1h1.3v1.2h-1.3zM248.3 316.7h1.3v1.2h-1.3zM209.8 318.4h1.3v1.2h-1.3zM172.0 328.6h1.3v1.2h-1.3zM167.8 328.3h1.3v1.2h-1.3zM160.3 327.6h1.3v1.2h-1.3zM118.9 312.4h1.3v1.2h-1.3zM68.7 242.6h1.3v1.2h-1.3zM45.3 168.2h1.3v1.2h-1.3zM125.7 111.8h1.3v1.2h-1.3zM160.5 43.5h1.3v1.2h-1.3zM156.9 15.7h1.3v1.2h-1.3zM302.1 48.0h1.3v1.2h-1.3zM327.5 101.3h1.3v1.2h-1.3zM345.7 88.7h1.3v1.2h-1.3zM362.2 123.8h1.3v1.2h-1.3zM364.0 139.8h1.3v1.2h-1.3zM349.4 176.1h1.3v1.2h-1.3zM361.0 182.3h1.3v1.2h-1.3z" fill="#66E4EE"/>
<path d="M302.1 221.8h1.1v1.0h-1.1zM294.2 239.1h1.1v1.0h-1.1zM256.1 269.5h1.1v1.0h-1.1zM126.1 236.0h1.5v1.3h-1.5zM122.5 128.3h1.1v1.0h-1.1zM126.9 62.7h1.5v1.3h-1.5zM170.7 109.1h1.5v1.3h-1.5zM174.4 114.7h1.5v1.3h-1.5zM158.3 79.4h1.5v1.3h-1.5zM152.2 43.5h1.5v1.3h-1.5zM183.9 62.7h1.5v1.3h-1.5zM201.0 30.5h1.5v1.3h-1.5zM212.1 32.0h1.5v1.3h-1.5zM214.4 73.4h1.1v1.0h-1.1zM278.1 139.5h1.1v1.0h-1.1zM285.2 137.1h1.1v1.0h-1.1zM274.0 153.5h1.1v1.0h-1.1zM290.2 160.9h1.1v1.0h-1.1zM325.8 171.9h1.5v1.3h-1.5zM285.3 188.0h1.1v1.0h-1.1zM301.8 188.5h1.1v1.0h-1.1zM166.8 308.6h1.3v1.2h-1.3z" fill="#EAEA5A"/>
<path d="M292.1 190.1h1.1v1.0h-1.1zM281.0 204.6h1.1v1.0h-1.1zM278.0 222.3h1.1v1.0h-1.1zM249.4 258.9h1.1v1.0h-1.1zM260.7 298.7h1.5v1.3h-1.5zM258.3 295.1h1.5v1.3h-1.5zM169.2 269.2h1.2v1.2h-1.2zM152.3 292.5h1.2v1.2h-1.2zM160.5 272.0h1.2v1.2h-1.2zM163.0 266.9h1.2v1.2h-1.2zM147.8 277.4h1.2v1.2h-1.2zM144.5 277.8h1.2v1.2h-1.2zM147.2 266.0h1.5v1.3h-1.5zM122.5 275.9h1.2v1.2h-1.2zM145.5 249.6h1.2v1.2h-1.2zM102.7 278.0h1.5v1.3h-1.5zM123.5 260.4h1.2v1.2h-1.2zM121.2 261.2h1.2v1.2h-1.2zM119.2 256.6h1.2v1.2h-1.2zM114.9 255.5h1.2v1.2h-1.2zM105.3 255.5h1.2v1.2h-1.2zM123.3 243.6h1.2v1.2h-1.2zM121.7 240.2h1.2v1.2h-1.2zM90.5 237.5h1.2v1.2h-1.2zM127.4 220.1h1.2v1.2h-1.2zM110.1 220.6h1.5v1.3h-1.5zM103.3 220.3h1.2v1.2h-1.2zM101.8 214.8h1.2v1.2h-1.2zM83.2 214.4h1.2v1.2h-1.2zM113.4 207.7h1.2v1.2h-1.2zM106.2 206.7h1.2v1.2h-1.2zM114.7 191.2h1.2v1.2h-1.2zM99.7 190.0h1.2v1.2h-1.2zM89.2 189.2h1.5v1.3h-1.5zM115.1 182.2h1.2v1.2h-1.2zM112.8 174.8h1.2v1.2h-1.2zM112.1 164.4h1.2v1.2h-1.2zM143.6 148.9h1.1v1.0h-1.1zM119.5 131.0h1.5v1.3h-1.5zM132.1 128.7h1.1v1.0h-1.1zM138.2 117.9h1.1v1.0h-1.1zM137.9 109.3h1.1v1.0h-1.1zM173.6 111.9h1.5v1.3h-1.5zM166.4 53.9h1.5v1.3h-1.5zM185.4 85.1h1.5v1.3h-1.5zM196.6 74.5h1.5v1.3h-1.5zM216.3 41.6h1.5v1.3h-1.5zM263.6 88.8h1.5v1.3h-1.5zM303.7 114.3h1.5v1.3h-1.5zM343.4 198.3h1.3v1.2h-1.3zM335.2 254.8h1.3v1.2h-1.3zM306.6 286.6h1.3v1.2h-1.3zM294.9 277.8h1.3v1.2h-1.3zM301.3 290.6h1.3v1.2h-1.3zM171.4 330.8h1.3v1.2h-1.3zM167.1 330.5h1.3v1.2h-1.3zM159.5 329.8h1.3v1.2h-1.3zM151.0 300.0h1.3v1.2h-1.3zM117.5 314.2h1.3v1.2h-1.3zM66.6 243.4h1.3v1.2h-1.3zM156.2 13.5h1.3v1.2h-1.3zM173.2 61.9h1.3v1.2h-1.3zM347.5 87.3h1.3v1.2h-1.3zM364.4 122.9h1.3v1.2h-1.3zM318.7 147.9h1.3v1.2h-1.3zM366.2 139.1h1.3v1.2h-1.3zM363.3 182.2h1.3v1.2h-1.3z" fill="#5068F0"/>
<path d="M320.7 188.3h1.5v1.3h-1.5zM320.5 190.6h1.5v1.3h-1.5zM321.4 192.1h1.5v1.3h-1.5zM323.1 192.9h1.5v1.3h-1.5zM321.0 197.3h1.5v1.3h-1.5zM321.4 198.9h1.5v1.3h-1.5zM320.8 201.1h1.5v1.3h-1.5zM319.4 203.1h1.5v1.3h-1.5zM318.7 203.8h1.5v1.3h-1.5zM319.0 205.3h1.5v1.3h-1.5zM318.7 206.0h1.5v1.3h-1.5zM318.4 206.7h1.5v1.3h-1.5zM317.4 207.3h1.5v1.3h-1.5zM317.3 208.0h1.5v1.3h-1.5zM316.7 209.4h1.5v1.3h-1.5zM316.5 210.8h1.5v1.3h-1.5zM317.0 212.5h1.5v1.3h-1.5zM316.5 213.1h1.5v1.3h-1.5zM316.5 216.9h1.5v1.3h-1.5zM316.2 218.4h1.5v1.3h-1.5zM315.8 219.0h1.5v1.3h-1.5zM314.5 220.1h1.5v1.3h-1.5zM313.5 222.1h1.5v1.3h-1.5zM314.1 223.1h1.5v1.3h-1.5zM312.0 226.3h1.5v1.3h-1.5zM310.8 229.7h1.5v1.3h-1.5zM311.4 230.8h1.5v1.3h-1.5zM310.6 232.1h1.5v1.3h-1.5zM310.2 232.7h1.5v1.3h-1.5zM309.1 233.0h1.5v1.3h-1.5zM310.0 234.2h1.5v1.3h-1.5zM306.6 234.2h1.5v1.3h-1.5zM306.8 235.9h1.5v1.3h-1.5zM306.8 236.7h1.5v1.3h-1.5zM308.0 239.0h1.5v1.3h-1.5zM305.3 241.8h1.5v1.3h-1.5zM305.4 242.7h1.5v1.3h-1.5zM302.9 242.9h1.5v1.3h-1.5zM303.1 244.8h1.5v1.3h-1.5zM301.7 244.7h1.5v1.3h-1.5zM301.2 246.1h1.5v1.3h-1.5zM300.7 246.7h1.5v1.3h-1.5zM299.2 247.4h1.5v1.3h-1.5zM298.9 249.0h1.5v1.3h-1.5zM299.1 250.0h1.5v1.3h-1.5zM297.6 251.6h1.5v1.3h-1.5zM297.3 252.3h1.5v1.3h-1.5zM295.6 251.9h1.5v1.3h-1.5zM295.5 252.7h1.5v1.3h-1.5zM294.5 252.9h1.5v1.3h-1.5zM295.2 254.3h1.5v1.3h-1.5zM294.9 255.0h1.5v1.3h-1.5zM293.0 254.5h1.5v1.3h-1.5zM293.5 255.8h1.5v1.3h-1.5zM293.1 256.4h1.5v1.3h-1.5zM287.9 251.9h1.5v1.3h-1.5zM291.9 256.3h1.5v1.3h-1.5zM292.0 257.3h1.5v1.3h-1.5zM291.5 257.9h1.5v1.3h-1.5zM289.8 258.3h1.5v1.3h-1.5zM288.9 258.4h1.5v1.3h-1.5zM288.2 258.8h1.5v1.3h-1.5zM288.1 260.7h1.5v1.3h-1.5zM286.4 263.1h1.5v1.3h-1.5zM284.8 263.5h1.5v1.3h-1.5zM284.3 265.0h1.5v1.3h-1.5zM283.2 264.9h1.5v1.3h-1.5zM282.7 265.4h1.5v1.3h-1.5zM281.9 266.7h1.5v1.3h-1.5zM281.2 268.2h1.5v1.3h-1.5zM279.2 268.0h1.5v1.3h-1.5zM279.0 268.9h1.5v1.3h-1.5zM277.4 269.2h1.5v1.3h-1.5zM277.1 269.9h1.5v1.3h-1.5zM274.9 269.4h1.5v1.3h-1.5zM274.3 271.0h1.5v1.3h-1.5zM273.5 271.1h1.5v1.3h-1.5zM273.1 271.8h1.5v1.3h-1.5zM272.7 272.4h1.5v1.3h-1.5zM269.9 272.1h1.5v1.3h-1.5zM269.6 273.0h1.5v1.3h-1.5zM268.8 272.9h1.5v1.3h-1.5zM269.0 274.6h1.5v1.3h-1.5zM268.0 274.4h1.5v1.3h-1.5zM268.2 276.1h1.5v1.3h-1.5zM266.4 275.9h1.5v1.3h-1.5zM266.3 277.0h1.5v1.3h-1.5zM264.3 276.4h1.5v1.3h-1.5zM262.9 278.3h1.5v1.3h-1.5zM261.4 278.6h1.5v1.3h-1.5zM260.5 278.4h1.5v1.3h-1.5zM260.0 279.0h1.5v1.3h-1.5zM271.7 306.1h1.5v1.3h-1.5zM258.0 279.7h1.5v1.3h-1.5zM257.2 279.6h1.5v1.3h-1.5zM257.0 281.0h1.5v1.3h-1.5zM255.6 279.5h1.5v1.3h-1.5zM255.2 280.3h1.5v1.3h-1.5zM254.4 280.3h1.5v1.3h-1.5zM253.3 283.1h1.5v1.3h-1.5zM252.3 282.4h1.5v1.3h-1.5zM251.4 282.2h1.5v1.3h-1.5zM250.6 282.2h1.5v1.3h-1.5zM248.7 282.9h1.5v1.3h-1.5zM249.3 284.8h1.5v1.3h-1.5zM248.0 283.2h1.5v1.3h-1.5zM247.4 283.6h1.5v1.3h-1.5zM249.2 293.4h1.5v1.3h-1.5zM245.4 284.1h1.5v1.3h-1.5zM243.3 284.7h1.5v1.3h-1.5zM242.3 283.6h1.5v1.3h-1.5zM241.9 284.8h1.5v1.3h-1.5zM241.0 284.0h1.5v1.3h-1.5zM240.6 285.4h1.5v1.3h-1.5zM240.0 286.0h1.5v1.3h-1.5zM237.6 284.7h1.5v1.3h-1.5zM237.1 285.9h1.5v1.3h-1.5zM236.3 285.4h1.5v1.3h-1.5zM236.1 287.6h1.5v1.3h-1.5zM235.0 286.0h1.5v1.3h-1.5zM234.6 287.7h1.5v1.3h-1.5zM233.1 287.4h1.5v1.3h-1.5zM231.8 287.8h1.5v1.3h-1.5zM230.8 286.4h1.5v1.3h-1.5zM230.3 287.2h1.5v1.3h-1.5zM233.7 320.2h1.5v1.3h-1.5zM228.3 288.5h1.5v1.3h-1.5zM224.8 288.4h1.5v1.3h-1.5zM224.0 287.6h1.5v1.3h-1.5zM223.4 288.4h1.5v1.3h-1.5zM222.6 287.9h1.5v1.3h-1.5zM221.9 288.2h1.5v1.3h-1.5zM221.3 288.8h1.5v1.3h-1.5zM220.6 288.6h1.5v1.3h-1.5zM217.7 287.6h1.5v1.3h-1.5zM215.7 288.9h1.5v1.3h-1.5zM215.0 289.2h1.5v1.3h-1.5zM213.5 289.9h1.5v1.3h-1.5zM212.9 288.5h1.5v1.3h-1.5zM212.2 288.4h1.5v1.3h-1.5zM210.1 287.4h1.5v1.3h-1.5zM209.4 288.2h1.5v1.3h-1.5zM208.0 288.3h1.5v1.3h-1.5zM207.3 287.2h1.5v1.3h-1.5zM206.0 287.1h1.5v1.3h-1.5zM204.6 287.2h1.5v1.3h-1.5zM203.8 287.4h1.5v1.3h-1.5zM203.3 285.9h1.5v1.3h-1.5zM202.6 285.7h1.5v1.3h-1.5zM200.5 285.9h1.5v1.3h-1.5zM199.3 285.1h1.5v1.3h-1.5zM195.4 286.9h1.5v1.3h-1.5zM195.0 285.5h1.5v1.3h-1.5zM194.5 284.7h1.5v1.3h-1.5zM193.5 286.0h1.5v1.3h-1.5zM192.8 285.8h1.5v1.3h-1.5zM192.3 284.8h1.5v1.3h-1.5zM190.2 284.6h1.5v1.3h-1.5zM179.8 326.6h1.5v1.3h-1.5zM189.7 284.0h1.5v1.3h-1.5zM189.0 283.8h1.5v1.3h-1.5zM187.6 283.9h1.5v1.3h-1.5zM187.1 283.0h1.5v1.3h-1.5zM185.4 283.9h1.5v1.3h-1.5zM184.6 284.0h1.5v1.3h-1.5zM183.9 284.0h1.5v1.3h-1.5zM183.5 282.9h1.5v1.3h-1.5zM182.4 281.9h1.5v1.3h-1.5zM181.1 283.5h1.5v1.3h-1.5zM180.3 281.5h1.5v1.3h-1.5zM179.3 282.4h1.5v1.3h-1.5zM177.1 280.4h1.5v1.3h-1.5zM176.3 280.5h1.5v1.3h-1.5zM175.9 279.6h1.5v1.3h-1.5zM173.0 279.2h1.5v1.3h-1.5zM170.2 275.5h1.5v1.3h-1.5zM169.3 275.9h1.5v1.3h-1.5zM157.6 295.1h1.2v1.2h-1.2zM170.5 269.6h1.2v1.2h-1.2zM167.2 274.3h1.2v1.2h-1.2zM155.7 291.8h1.2v1.2h-1.2zM140.5 318.2h1.5v1.3h-1.5zM152.0 294.8h1.2v1.2h-1.2zM156.1 286.1h1.2v1.2h-1.2zM149.3 295.8h1.2v1.2h-1.2zM161.4 274.5h1.2v1.2h-1.2zM133.9 316.9h1.5v1.3h-1.5zM161.1 269.9h1.2v1.2h-1.2zM158.4 271.4h1.2v1.2h-1.2zM139.0 289.2h1.2v1.2h-1.2zM148.4 271.7h1.2v1.2h-1.2zM149.7 265.5h1.2v1.2h-1.2zM142.9 272.5h1.2v1.2h-1.2zM137.0 278.1h1.2v1.2h-1.2zM151.0 257.9h1.2v1.2h-1.2zM137.3 270.5h1.2v1.2h-1.2zM143.7 261.6h1.2v1.2h-1.2zM128.0 276.6h1.2v1.2h-1.2zM132.8 270.6h1.2v1.2h-1.2zM131.0 271.2h1.2v1.2h-1.2zM139.4 260.8h1.2v1.2h-1.2zM144.4 255.1h1.2v1.2h-1.2zM136.6 261.5h1.2v1.2h-1.2zM128.1 267.2h1.2v1.2h-1.2zM139.8 254.6h1.2v1.2h-1.2zM135.3 257.6h1.2v1.2h-1.2zM116.0 268.7h1.2v1.2h-1.2zM135.7 250.8h1.2v1.2h-1.2zM138.3 247.0h1.2v1.2h-1.2zM117.5 262.0h1.2v1.2h-1.2zM137.6 242.6h1.2v1.2h-1.2zM124.1 251.2h1.2v1.2h-1.2zM138.1 240.6h1.2v1.2h-1.2zM109.9 258.9h1.2v1.2h-1.2zM136.5 238.6h1.2v1.2h-1.2zM110.8 254.1h1.2v1.2h-1.2zM108.8 252.3h1.2v1.2h-1.2zM107.4 252.2h1.2v1.2h-1.2zM125.6 239.7h1.2v1.2h-1.2zM121.4 238.7h1.2v1.2h-1.2zM126.0 235.4h1.2v1.2h-1.2zM122.2 236.6h1.2v1.2h-1.2zM96.6 248.8h1.5v1.3h-1.5zM114.0 237.4h1.2v1.2h-1.2zM122.1 231.8h1.2v1.2h-1.2zM103.5 239.7h1.2v1.2h-1.2zM111.2 235.2h1.2v1.2h-1.2zM104.9 236.2h1.2v1.2h-1.2zM101.9 236.6h1.2v1.2h-1.2zM113.9 229.0h1.2v1.2h-1.2zM109.6 224.9h1.2v1.2h-1.2zM118.4 221.1h1.2v1.2h-1.2zM105.5 224.5h1.5v1.3h-1.5zM95.5 226.1h1.2v1.2h-1.2zM106.7 219.3h1.2v1.2h-1.2zM101.6 219.9h1.2v1.2h-1.2zM106.1 217.8h1.2v1.2h-1.2zM111.2 214.1h1.2v1.2h-1.2zM101.6 215.7h1.2v1.2h-1.2zM107.7 213.4h1.2v1.2h-1.2zM98.6 213.0h1.2v1.2h-1.2zM112.2 207.9h1.2v1.2h-1.2zM120.0 205.0h1.2v1.2h-1.2zM106.2 207.4h1.5v1.3h-1.5zM106.2 205.1h1.2v1.2h-1.2zM105.5 204.5h1.2v1.2h-1.2zM92.2 205.6h1.2v1.2h-1.2zM94.8 204.4h1.2v1.2h-1.2zM109.8 201.6h1.2v1.2h-1.2zM102.0 201.8h1.2v1.2h-1.2zM102.6 198.6h1.2v1.2h-1.2zM93.0 197.7h1.2v1.2h-1.2zM104.6 190.7h1.2v1.2h-1.2zM106.7 186.9h1.2v1.2h-1.2zM112.8 186.3h1.2v1.2h-1.2zM103.2 184.5h1.2v1.2h-1.2zM89.5 183.2h1.2v1.2h-1.2zM45.2 180.1h1.5v1.3h-1.5zM92.3 179.9h1.2v1.2h-1.2zM110.3 179.7h1.2v1.2h-1.2zM111.8 179.1h1.2v1.2h-1.2zM104.7 177.6h1.2v1.2h-1.2zM117.0 178.2h1.2v1.2h-1.2zM99.9 174.7h1.2v1.2h-1.2zM88.1 172.4h1.5v1.3h-1.5zM109.3 173.6h1.2v1.2h-1.2zM97.2 171.1h1.2v1.2h-1.2zM105.4 167.6h1.2v1.2h-1.2zM91.7 164.1h1.2v1.2h-1.2zM100.7 162.6h1.2v1.2h-1.2zM113.7 164.0h1.2v1.2h-1.2zM117.0 164.1h1.2v1.2h-1.2zM92.6 155.3h1.2v1.2h-1.2zM123.4 163.0h1.2v1.2h-1.2zM110.5 155.4h1.2v1.2h-1.2zM120.0 157.7h1.2v1.2h-1.2zM108.6 153.2h1.2v1.2h-1.2zM122.1 141.0h1.5v1.3h-1.5zM108.8 133.2h1.5v1.3h-1.5zM121.6 139.1h1.5v1.3h-1.5zM122.2 138.6h1.5v1.3h-1.5zM122.3 137.8h1.5v1.3h-1.5zM122.3 136.9h1.5v1.3h-1.5zM123.2 135.8h1.5v1.3h-1.5zM124.9 136.0h1.5v1.3h-1.5zM124.9 135.1h1.5v1.3h-1.5zM124.2 133.8h1.5v1.3h-1.5zM125.5 133.7h1.5v1.3h-1.5zM126.1 133.2h1.5v1.3h-1.5zM108.7 120.3h1.5v1.3h-1.5zM109.9 119.0h1.5v1.3h-1.5zM110.7 116.4h1.5v1.3h-1.5zM112.1 114.1h1.5v1.3h-1.5zM113.4 112.9h1.5v1.3h-1.5zM114.6 111.6h1.5v1.3h-1.5zM114.6 110.5h1.5v1.3h-1.5zM114.5 109.3h1.5v1.3h-1.5zM120.7 108.7h1.5v1.3h-1.5zM121.3 108.1h1.5v1.3h-1.5zM121.6 106.1h1.5v1.3h-1.5zM123.3 105.3h1.5v1.3h-1.5zM125.3 104.9h1.5v1.3h-1.5zM126.1 103.2h1.5v1.3h-1.5zM126.3 102.2h1.5v1.3h-1.5zM127.0 101.7h1.5v1.3h-1.5zM127.4 100.9h1.5v1.3h-1.5zM129.6 100.7h1.5v1.3h-1.5zM129.3 99.1h1.5v1.3h-1.5zM132.7 96.5h1.5v1.3h-1.5zM139.1 97.5h1.5v1.3h-1.5zM139.7 96.9h1.5v1.3h-1.5zM139.8 95.7h1.5v1.3h-1.5zM141.0 93.3h1.5v1.3h-1.5zM142.7 94.0h1.5v1.3h-1.5zM131.2 75.7h1.5v1.3h-1.5zM145.8 91.4h1.5v1.3h-1.5zM146.3 90.5h1.5v1.3h-1.5zM150.1 90.4h1.5v1.3h-1.5zM152.1 88.9h1.5v1.3h-1.5zM153.9 90.3h1.5v1.3h-1.5zM133.2 56.6h1.5v1.3h-1.5zM154.6 88.3h1.5v1.3h-1.5zM155.9 88.9h1.5v1.3h-1.5zM150.8 74.8h1.5v1.3h-1.5zM151.7 57.7h1.5v1.3h-1.5zM152.6 57.4h1.5v1.3h-1.5zM153.6 57.2h1.5v1.3h-1.5zM154.7 57.2h1.5v1.3h-1.5zM156.0 57.5h1.5v1.3h-1.5zM156.9 57.0h1.5v1.3h-1.5zM163.9 53.0h1.5v1.3h-1.5zM165.9 52.7h1.5v1.3h-1.5zM166.6 51.6h1.5v1.3h-1.5zM168.8 51.7h1.5v1.3h-1.5zM160.4 26.5h1.5v1.3h-1.5zM171.3 49.5h1.5v1.3h-1.5zM173.4 49.6h1.5v1.3h-1.5zM191.9 93.0h1.5v1.3h-1.5zM196.6 108.2h1.5v1.3h-1.5zM193.3 69.8h1.5v1.3h-1.5zM197.2 66.8h1.5v1.3h-1.5zM197.8 71.4h1.5v1.3h-1.5zM198.0 66.5h1.5v1.3h-1.5zM198.8 65.7h1.5v1.3h-1.5zM200.4 65.3h1.5v1.3h-1.5zM202.3 66.5h1.5v1.3h-1.5zM203.2 66.5h1.5v1.3h-1.5zM204.8 65.9h1.5v1.3h-1.5zM202.6 37.6h1.5v1.3h-1.5zM205.8 66.8h1.5v1.3h-1.5zM206.5 65.4h1.5v1.3h-1.5zM207.4 65.4h1.5v1.3h-1.5zM210.9 66.7h1.5v1.3h-1.5zM211.7 65.7h1.5v1.3h-1.5zM212.5 65.5h1.5v1.3h-1.5zM215.1 65.6h1.5v1.3h-1.5zM217.7 66.5h1.5v1.3h-1.5zM220.2 66.4h1.5v1.3h-1.5zM221.9 66.6h1.5v1.3h-1.5zM223.5 67.9h1.5v1.3h-1.5zM224.4 67.4h1.5v1.3h-1.5zM225.3 83.7h1.5v1.3h-1.5zM227.4 84.7h1.5v1.3h-1.5zM228.2 83.6h1.5v1.3h-1.5zM229.0 83.6h1.5v1.3h-1.5zM230.4 84.0h1.5v1.3h-1.5zM231.4 82.7h1.5v1.3h-1.5zM234.4 64.0h1.5v1.3h-1.5zM233.0 82.2h1.5v1.3h-1.5zM235.4 85.4h1.5v1.3h-1.5zM237.2 84.2h1.5v1.3h-1.5zM237.7 85.3h1.5v1.3h-1.5zM239.1 85.6h1.5v1.3h-1.5zM239.7 86.1h1.5v1.3h-1.5zM241.4 85.5h1.5v1.3h-1.5zM242.0 86.1h1.5v1.3h-1.5zM242.8 86.0h1.5v1.3h-1.5zM244.3 86.3h1.5v1.3h-1.5zM244.7 87.7h1.5v1.3h-1.5zM245.6 87.0h1.5v1.3h-1.5zM246.9 87.8h1.5v1.3h-1.5zM248.1 88.9h1.5v1.3h-1.5zM252.8 89.1h1.5v1.3h-1.5zM253.3 89.7h1.5v1.3h-1.5zM254.2 91.4h1.5v1.3h-1.5zM255.6 90.0h1.5v1.3h-1.5zM256.3 90.1h1.5v1.3h-1.5zM257.3 89.7h1.5v1.3h-1.5zM258.2 89.7h1.5v1.3h-1.5zM258.3 91.2h1.5v1.3h-1.5zM258.2 93.2h1.5v1.3h-1.5zM260.5 91.7h1.5v1.3h-1.5zM262.8 92.2h1.5v1.3h-1.5zM263.5 94.1h1.5v1.3h-1.5zM272.9 80.0h1.5v1.3h-1.5zM266.2 95.5h1.5v1.3h-1.5zM278.4 77.2h1.5v1.3h-1.5zM268.1 96.5h1.5v1.3h-1.5zM268.9 98.2h1.5v1.3h-1.5zM274.2 89.4h1.5v1.3h-1.5zM270.0 97.7h1.5v1.3h-1.5zM269.9 99.3h1.5v1.3h-1.5zM272.1 101.3h1.5v1.3h-1.5zM273.3 100.8h1.5v1.3h-1.5zM273.6 101.6h1.5v1.3h-1.5zM274.9 102.3h1.5v1.3h-1.5zM276.5 101.4h1.5v1.3h-1.5zM277.9 103.3h1.5v1.3h-1.5zM279.5 103.6h1.5v1.3h-1.5zM280.4 105.0h1.5v1.3h-1.5zM280.9 105.5h1.5v1.3h-1.5zM282.3 106.0h1.5v1.3h-1.5zM282.7 106.8h1.5v1.3h-1.5zM283.8 107.8h1.5v1.3h-1.5zM286.5 109.3h1.5v1.3h-1.5zM287.5 109.3h1.5v1.3h-1.5zM287.5 110.3h1.5v1.3h-1.5zM288.7 112.3h1.5v1.3h-1.5zM289.0 113.1h1.5v1.3h-1.5zM289.6 114.6h1.5v1.3h-1.5zM290.1 116.1h1.5v1.3h-1.5zM291.6 115.8h1.5v1.3h-1.5zM293.2 116.3h1.5v1.3h-1.5zM290.3 121.7h1.5v1.3h-1.5zM297.0 120.9h1.5v1.3h-1.5zM297.2 121.6h1.5v1.3h-1.5zM299.4 122.8h1.5v1.3h-1.5zM301.4 126.0h1.5v1.3h-1.5zM301.5 126.8h1.5v1.3h-1.5zM302.5 130.6h1.5v1.3h-1.5zM303.7 130.7h1.5v1.3h-1.5zM302.9 132.1h1.5v1.3h-1.5zM304.7 132.7h1.5v1.3h-1.5zM305.8 133.8h1.5v1.3h-1.5zM305.8 134.6h1.5v1.3h-1.5zM307.0 136.5h1.5v1.3h-1.5zM306.9 137.4h1.5v1.3h-1.5zM307.7 138.7h1.5v1.3h-1.5zM307.8 139.4h1.5v1.3h-1.5zM309.0 139.7h1.5v1.3h-1.5zM309.4 141.9h1.5v1.3h-1.5zM310.7 142.1h1.5v1.3h-1.5zM309.7 143.4h1.5v1.3h-1.5zM311.6 144.2h1.5v1.3h-1.5zM312.1 145.6h1.5v1.3h-1.5zM312.6 146.2h1.5v1.3h-1.5zM312.4 147.1h1.5v1.3h-1.5zM313.2 148.4h1.5v1.3h-1.5zM314.1 148.8h1.5v1.3h-1.5zM313.8 149.7h1.5v1.3h-1.5zM314.2 150.4h1.5v1.3h-1.5zM314.3 151.1h1.5v1.3h-1.5zM315.4 153.1h1.5v1.3h-1.5zM305.5 156.6h1.5v1.3h-1.5zM315.5 153.9h1.5v1.3h-1.5zM316.3 155.2h1.5v1.3h-1.5zM316.0 156.1h1.5v1.3h-1.5zM357.8 142.8h1.5v1.3h-1.5zM348.1 147.9h1.5v1.3h-1.5zM316.9 158.1h1.5v1.3h-1.5zM317.7 159.5h1.5v1.3h-1.5zM318.4 162.4h1.5v1.3h-1.5zM319.5 162.9h1.5v1.3h-1.5zM317.6 164.1h1.5v1.3h-1.5zM317.7 164.9h1.5v1.3h-1.5zM318.0 166.3h1.5v1.3h-1.5zM319.5 166.7h1.5v1.3h-1.5zM318.3 168.5h1.5v1.3h-1.5zM319.5 169.8h1.5v1.3h-1.5zM320.3 171.9h1.5v1.3h-1.5zM320.2 172.7h1.5v1.3h-1.5zM320.7 173.4h1.5v1.3h-1.5zM322.3 173.9h1.5v1.3h-1.5zM321.0 174.9h1.5v1.3h-1.5zM321.1 176.4h1.5v1.3h-1.5zM321.8 177.8h1.5v1.3h-1.5zM322.7 179.2h1.5v1.3h-1.5zM322.1 183.1h1.5v1.3h-1.5zM309.4 184.4h1.5v1.3h-1.5zM321.4 186.1h1.5v1.3h-1.5zM321.4 186.9h1.5v1.3h-1.5zM321.9 187.6h1.5v1.3h-1.5zM321.3 188.3h1.5v1.3h-1.5zM330.1 235.2h1.3v1.2h-1.3zM308.1 288.3h1.3v1.2h-1.3zM158.7 331.9h1.3v1.2h-1.3zM104.4 115.3h1.3v1.2h-1.3zM121.1 95.8h1.3v1.2h-1.3zM155.4 11.3h1.3v1.2h-1.3zM217.4 79.8h1.3v1.2h-1.3zM366.5 121.9h1.3v1.2h-1.3zM134.8 17.8h2.0v1.4h-2.0zM188.6 12.1h2.0v1.4h-2.0zM217.4 12.3h2.0v1.4h-2.0z" fill="#F064CC"/>
<path d="M217.3 179.5L223.0 155.7M217.4 179.6L224.2 153.4M217.3 179.5A9.8 9.8 0 0 1 217.4 179.6M218.3 177.9L225.5 153.1M218.4 178.0L224.5 158.7M218.3 177.9A11.6 11.6 0 0 1 218.4 178.0M217.7 179.0L225.2 151.9M218.0 179.1L218.4 177.9M217.7 179.0A10.3 10.3 0 0 1 218.0 179.1M217.0 180.8L217.4 179.5M217.4 180.8L217.9 179.1M217.0 180.8A8.5 8.5 0 0 1 217.4 180.8M219.6 175.8L226.3 156.8M219.9 175.8L226.4 158.0M219.6 175.8A14.0 14.0 0 0 1 219.9 175.8M219.0 176.8L225.2 158.2M219.3 177.0L219.7 175.8M219.0 176.8A12.8 12.8 0 0 1 219.3 177.0M218.9 177.8L219.2 176.9M219.3 177.9L228.4 154.5M218.9 177.8A11.9 11.9 0 0 1 219.3 177.9M220.2 176.3L230.8 150.2M220.4 176.4L230.4 153.0M220.2 176.3A13.7 13.7 0 0 1 220.4 176.4M220.6 176.6L232.4 150.0M220.8 176.7L229.6 157.7M220.6 176.6A13.6 13.6 0 0 1 220.8 176.7M219.9 177.2L220.3 176.4M220.3 177.4L220.7 176.6M219.9 177.2A12.8 12.8 0 0 1 220.3 177.4M221.5 175.6L232.1 153.9M221.7 175.8L231.7 156.1M221.5 175.6A14.9 14.9 0 0 1 221.7 175.8M221.8 176.2L235.3 150.8M222.0 176.3L235.4 152.0M221.8 176.2A14.5 14.5 0 0 1 222.0 176.3M221.0 177.0L221.6 175.7M221.4 177.2L221.9 176.3M221.0 177.0A13.4 13.4 0 0 1 221.4 177.2M221.6 177.5L232.2 159.0M221.8 177.6L236.6 152.7M221.6 177.5A13.3 13.3 0 0 1 221.8 177.6M220.7 178.0L221.2 177.1M221.3 178.3L221.7 177.5M220.7 178.0A12.4 12.4 0 0 1 221.3 178.3M219.6 178.4L220.1 177.3M220.6 178.9L221.0 178.1M219.6 178.4A11.5 11.5 0 0 1 220.6 178.9M218.4 179.7L219.1 177.9M219.4 180.1L220.1 178.6M218.4 179.7A9.9 9.9 0 0 1 219.4 180.1M220.9 179.4L236.1 154.9M221.1 179.5L237.5 153.9M220.9 179.4A11.3 11.3 0 0 1 221.1 179.5M222.4 178.3L235.8 159.0M222.6 178.4L239.7 154.6M222.4 178.3A13.0 13.0 0 0 1 222.6 178.4M220.9 180.1L238.0 154.6M221.2 180.2L222.5 178.4M220.9 180.1A10.7 10.7 0 0 1 221.2 180.2M220.3 180.7L221.0 179.5M220.6 180.9L221.1 180.2M220.3 180.7A9.9 9.9 0 0 1 220.6 180.9M218.0 181.9L218.9 179.9M219.2 182.6L220.4 180.8M218.0 181.9A7.7 7.7 0 0 1 219.2 182.6M216.7 182.8L217.2 180.8M218.0 183.3L218.6 182.2M216.7 182.8A6.4 6.4 0 0 1 218.0 183.3M222.4 179.0L239.4 156.2M222.6 179.2L235.6 162.3M222.4 179.0A12.4 12.4 0 0 1 222.6 179.2M223.1 178.9L239.6 158.2M223.2 179.0L238.3 160.7M223.1 178.9A12.9 12.9 0 0 1 223.2 179.0M221.9 179.9L222.5 179.1M222.2 180.2L223.1 179.0M221.9 179.9A11.4 11.4 0 0 1 222.2 180.2M226.0 176.6L244.0 156.1M226.2 176.7L239.0 162.8M226.0 176.6A16.6 16.6 0 0 1 226.2 176.7M225.3 176.9L239.1 160.7M225.6 177.2L226.1 176.7M225.3 176.9A15.8 15.8 0 0 1 225.6 177.2M228.7 175.0L242.2 161.1M228.9 175.2L239.8 164.4M228.7 175.0A19.6 19.6 0 0 1 228.9 175.2M228.6 176.0L239.8 165.2M228.8 176.2L245.9 160.4M228.6 176.0A18.8 18.8 0 0 1 228.8 176.2M227.7 176.2L228.8 175.1M228.1 176.7L228.7 176.1M227.7 176.2A18.0 18.0 0 0 1 228.1 176.7M225.9 177.5L239.5 163.0M226.4 177.9L227.9 176.5M225.9 177.5A15.8 15.8 0 0 1 226.4 177.9M224.5 178.1L225.4 177.1M225.2 178.7L226.1 177.7M224.5 178.1A14.5 14.5 0 0 1 225.2 178.7M227.8 177.9L241.0 166.5M228.0 178.1L244.4 164.4M227.8 177.9A16.9 16.9 0 0 1 228.0 178.1M227.2 178.1L242.7 164.2M227.4 178.4L227.9 178.0M227.2 178.1A16.3 16.3 0 0 1 227.4 178.4M226.0 179.4L227.3 178.3M226.4 179.8L241.6 167.5M226.0 179.4A14.6 14.6 0 0 1 226.4 179.8M223.7 179.6L224.8 178.4M224.8 180.7L226.2 179.6M223.7 179.6A12.8 12.8 0 0 1 224.8 180.7M221.6 180.6L222.0 180.0M222.7 181.6L224.3 180.2M221.6 180.6A10.7 10.7 0 0 1 222.7 181.6M224.8 181.6L249.6 162.9M224.9 181.8L242.8 168.7M224.8 181.6A12.3 12.3 0 0 1 224.9 181.8M223.5 182.3L243.9 166.4M223.7 182.5L224.9 181.7M223.5 182.3A10.8 10.8 0 0 1 223.7 182.5M227.5 180.6L242.7 170.2M227.6 180.8L249.9 166.2M227.5 180.6A15.1 15.1 0 0 1 227.6 180.8M227.9 180.9L250.4 166.7M228.0 181.1L248.1 168.9M227.9 180.9A15.2 15.2 0 0 1 228.0 181.1M225.7 181.9L227.5 180.7M226.0 182.2L227.9 181.0M225.7 181.9A12.9 12.9 0 0 1 226.0 182.2M223.8 182.8L248.6 165.4M224.1 183.2L225.9 182.0M223.8 182.8A10.8 10.8 0 0 1 224.1 183.2M222.7 183.1L223.6 182.4M223.0 183.6L223.9 183.0M222.7 183.1A9.7 9.7 0 0 1 223.0 183.6M220.9 182.5L222.2 181.1M222.1 183.9L222.9 183.4M220.9 182.5A8.7 8.7 0 0 1 222.1 183.9M224.9 183.3L245.3 171.3M224.9 183.4L249.6 169.6M224.9 183.3A11.4 11.4 0 0 1 224.9 183.4M226.6 183.0L251.4 170.2M226.7 183.2L249.0 172.1M226.6 183.0A13.1 13.1 0 0 1 226.7 183.2M226.8 183.4L254.4 170.3M226.9 183.6L248.1 173.9M226.8 183.4A13.1 13.1 0 0 1 226.9 183.6M225.4 183.7L226.7 183.1M225.6 184.1L226.9 183.5M225.4 183.7A11.7 11.7 0 0 1 225.6 184.1M223.7 184.3L246.2 172.2M223.9 184.7L225.5 183.9M223.7 184.3A9.9 9.9 0 0 1 223.9 184.7M223.1 184.4L224.9 183.3M223.3 184.8L223.8 184.5M223.1 184.4A9.3 9.3 0 0 1 223.3 184.8M220.6 184.0L221.5 183.2M221.6 185.4L223.2 184.6M220.6 184.0A7.5 7.5 0 0 1 221.6 185.4M216.7 184.7L217.4 183.0M218.8 186.4L221.2 184.7M216.7 184.7A4.6 4.6 0 0 1 218.8 186.4M239.8 179.0L255.3 172.8M240.0 179.7L256.5 173.5M239.8 179.0A26.7 26.7 0 0 1 240.0 179.7M235.4 180.2L252.4 172.9M235.7 181.0L239.9 179.4M235.4 180.2A22.2 22.2 0 0 1 235.7 181.0M239.6 180.5L253.3 175.8M239.8 181.1L253.9 176.7M239.6 180.5A26.1 26.1 0 0 1 239.8 181.1M241.9 181.2L251.8 178.3M242.1 181.9L256.6 178.0M241.9 181.2A28.0 28.0 0 0 1 242.1 181.9M237.7 181.5L239.7 180.8M238.0 182.6L242.0 181.5M237.7 181.5A23.9 23.9 0 0 1 238.0 182.6M232.8 181.7L235.6 180.6M233.4 183.4L237.9 182.1M232.8 181.7A19.2 19.2 0 0 1 233.4 183.4M240.7 182.9L253.9 179.8M240.8 183.6L256.2 180.3M240.7 182.9A26.4 26.4 0 0 1 240.8 183.6M243.9 184.4L259.1 182.0M244.0 185.1L255.6 183.6M243.9 184.4A29.3 29.3 0 0 1 244.0 185.1M240.7 184.2L256.2 181.4M240.9 185.2L244.0 184.7M240.7 184.2A26.2 26.2 0 0 1 240.9 185.2M237.9 183.9L240.8 183.2M238.2 185.2L240.8 184.7M237.9 183.9A23.5 23.5 0 0 1 238.2 185.2M250.3 186.9L260.2 186.3M250.3 187.8L253.9 187.7M250.3 186.9A35.3 35.3 0 0 1 250.3 187.8M247.5 186.3L256.6 185.5M247.6 187.5L250.3 187.4M247.5 186.3A32.7 32.7 0 0 1 247.6 187.5M246.1 185.6L254.7 184.7M246.2 187.0L247.6 186.9M246.1 185.6A31.3 31.3 0 0 1 246.2 187.0M251.3 190.5L259.8 190.8M251.2 191.4L256.1 191.7M251.3 190.5A36.3 36.3 0 0 1 251.2 191.4M249.4 189.5L259.3 189.7M249.3 190.8L251.3 190.9M249.4 189.5A34.4 34.4 0 0 1 249.3 190.8M246.8 188.7L258.1 188.6M246.8 190.1L249.3 190.2M246.8 188.7A31.8 31.8 0 0 1 246.8 190.1M247.8 192.0L261.2 193.2M247.8 192.8L258.7 194.0M247.8 192.0A33.0 33.0 0 0 1 247.8 192.8M245.0 189.4L246.8 189.4M244.8 192.1L247.8 192.4M245.0 189.4A30.0 30.0 0 0 1 244.8 192.1M242.5 186.6L246.2 186.3M242.5 190.6L244.9 190.7M242.5 186.6A27.6 27.6 0 0 1 242.5 190.6M247.4 193.6L255.1 194.6M247.3 194.4L260.3 196.5M247.4 193.6A32.7 32.7 0 0 1 247.3 194.4M247.5 195.2L255.9 196.8M247.3 196.0L257.6 198.3M247.5 195.2A33.1 33.1 0 0 1 247.3 196.0M243.8 193.4L247.3 194.0M243.6 194.8L247.4 195.6M243.8 193.4A29.2 29.2 0 0 1 243.6 194.8M245.2 196.4L256.1 199.0M245.0 197.1L256.8 200.3M245.2 196.4A31.1 31.1 0 0 1 245.0 197.1M249.2 200.1L253.1 201.4M248.9 200.9L254.0 202.7M249.2 200.1A35.9 35.9 0 0 1 248.9 200.9M245.0 197.9L259.3 202.2M244.6 199.0L249.0 200.5M245.0 197.9A31.2 31.2 0 0 1 244.6 199.0M242.4 196.0L245.1 196.7M242.0 197.6L244.8 198.4M242.4 196.0A28.3 28.3 0 0 1 242.0 197.6M241.3 193.7L243.7 194.1M240.7 196.4L242.2 196.8M241.3 193.7A26.7 26.7 0 0 1 240.7 196.4M238.7 188.7L242.6 188.6M238.0 194.3L241.0 195.0M238.7 188.7A23.7 23.7 0 0 1 238.0 194.3M235.5 185.0L238.1 184.5M235.8 191.2L238.5 191.5M235.5 185.0A20.9 20.9 0 0 1 235.8 191.2M229.2 184.0L233.1 182.6M230.1 188.4L235.9 188.1M229.2 184.0A15.1 15.1 0 0 1 230.1 188.4M239.6 199.0L253.6 204.8M239.3 199.7L258.7 208.1M239.6 199.0A26.6 26.6 0 0 1 239.3 199.7M238.4 197.9L252.9 203.4M238.1 198.8L239.5 199.4M238.4 197.9A25.0 25.0 0 0 1 238.1 198.8M234.1 196.7L238.2 198.3M233.6 197.7L255.4 207.9M234.1 196.7A20.5 20.5 0 0 1 233.6 197.7M231.7 197.3L257.4 210.1M231.5 197.8L255.8 210.6M231.7 197.3A18.7 18.7 0 0 1 231.5 197.8M230.6 195.8L233.8 197.2M230.1 196.8L231.6 197.5M230.6 195.8A17.0 17.0 0 0 1 230.1 196.8M238.3 202.1L255.3 211.6M237.9 202.6L256.0 213.4M238.3 202.1A26.7 26.7 0 0 1 237.9 202.6M240.1 205.7L251.3 213.1M239.7 206.3L254.3 216.5M240.1 205.7A30.2 30.2 0 0 1 239.7 206.3M237.9 203.4L250.9 211.6M237.3 204.2L239.9 206.0M237.9 203.4A27.0 27.0 0 0 1 237.3 204.2M234.9 202.0L237.6 203.8M234.1 203.1L255.2 218.7M234.9 202.0A23.8 23.8 0 0 1 234.1 203.1M234.0 200.0L238.1 202.4M233.0 201.5L234.5 202.6M234.0 200.0A21.9 21.9 0 0 1 233.0 201.5M230.7 201.2L254.1 219.4M230.3 201.6L254.5 221.3M230.7 201.2A19.8 19.8 0 0 1 230.3 201.6M229.9 198.5L233.5 200.8M228.8 200.0L230.5 201.4M229.9 198.5A17.7 17.7 0 0 1 228.8 200.0M228.1 195.2L230.4 196.3M226.8 197.4L229.4 199.3M228.1 195.2A14.5 14.5 0 0 1 226.8 197.4M227.2 186.6L229.8 186.1M225.7 195.3L227.5 196.3M227.2 186.6A12.4 12.4 0 0 1 225.7 195.3M241.1 216.0L245.5 220.6M240.4 216.6L250.0 227.0M241.1 216.0A37.5 37.5 0 0 1 240.4 216.6M238.6 212.3L249.2 222.8M237.8 213.1L240.8 216.3M238.6 212.3A33.2 33.2 0 0 1 237.8 213.1M236.0 208.8L247.2 219.4M235.2 209.7L238.2 212.7M236.0 208.8A28.9 28.9 0 0 1 235.2 209.7M234.5 206.5L247.6 218.4M233.7 207.4L235.6 209.2M234.5 206.5A26.2 26.2 0 0 1 233.7 207.4M230.8 202.6L253.5 222.1M230.2 203.3L234.1 207.0M230.8 202.6A20.8 20.8 0 0 1 230.2 203.3M235.1 213.0L248.6 229.0M234.6 213.4L245.8 227.4M235.1 213.0A31.3 31.3 0 0 1 234.6 213.4M233.5 210.0L245.9 224.2M232.7 210.6L234.8 213.2M233.5 210.0A28.0 28.0 0 0 1 232.7 210.6M238.1 222.3L242.5 228.7M237.3 222.9L243.9 232.9M238.1 222.3A40.5 40.5 0 0 1 237.3 222.9M236.8 219.0L245.0 230.3M235.8 219.8L237.7 222.6M236.8 219.0A37.1 37.1 0 0 1 235.8 219.8M235.4 215.8L242.9 225.6M234.3 216.6L236.3 219.4M235.4 215.8A33.7 33.7 0 0 1 234.3 216.6M233.5 221.9L237.7 229.4M232.7 222.3L240.1 236.2M233.5 221.9A37.8 37.8 0 0 1 232.7 222.3M233.5 220.2L242.8 235.8M232.4 220.9L233.1 222.1M233.5 220.2A36.3 36.3 0 0 1 232.4 220.9M233.5 218.6L242.3 232.7M232.3 219.3L233.0 220.6M233.5 218.6A34.9 34.9 0 0 1 232.3 219.3M230.8 220.5L237.6 233.9M230.1 220.9L236.7 234.9M230.8 220.5A35.3 35.3 0 0 1 230.1 220.9M231.1 216.1L232.9 219.0M228.8 217.3L230.5 220.7M231.1 216.1A31.5 31.5 0 0 1 228.8 217.3M232.2 212.5L234.9 216.2M228.9 214.6L230.0 216.7M232.2 212.5A29.1 29.1 0 0 1 228.9 214.6M230.4 207.2L233.1 210.3M227.8 209.2L230.6 213.6M230.4 207.2A23.9 23.9 0 0 1 227.8 209.2M227.7 200.4L230.5 202.9M225.1 202.7L229.1 208.2M227.7 200.4A17.0 17.0 0 0 1 225.1 202.7M229.0 220.4L235.5 235.0M228.3 220.7L236.4 240.1M229.0 220.4A34.4 34.4 0 0 1 228.3 220.7M229.7 229.4L233.7 240.3M228.7 229.7L231.1 236.6M229.7 229.4A43.0 43.0 0 0 1 228.7 229.7M229.0 224.8L234.9 239.9M227.7 225.3L229.2 229.5M229.0 224.8A38.5 38.5 0 0 1 227.7 225.3M225.9 223.8L231.6 242.3M225.1 224.1L228.8 237.3M225.9 223.8A36.5 36.5 0 0 1 225.1 224.1M226.7 220.7L228.4 225.1M224.7 221.4L225.5 224.0M226.7 220.7A33.8 33.8 0 0 1 224.7 221.4M226.4 215.5L228.6 220.6M224.2 216.4L225.7 221.0M226.4 215.5A28.9 28.9 0 0 1 224.2 216.4M224.0 226.8L227.3 241.0M223.1 227.0L225.1 236.7M224.0 226.8A38.8 38.8 0 0 1 223.1 227.0M224.5 225.2L227.7 237.4M223.2 225.5L223.5 226.9M224.5 225.2A37.5 37.5 0 0 1 223.2 225.5M221.6 223.9L224.3 238.6M220.8 224.0L223.0 237.6M221.6 223.9A35.5 35.5 0 0 1 220.8 224.0M222.7 220.5L223.9 225.4M220.6 220.9L221.2 224.0M222.7 220.5A32.4 32.4 0 0 1 220.6 220.9M218.2 234.5L218.7 241.8M217.1 234.5L217.2 236.0M218.2 234.5A45.6 45.6 0 0 1 217.1 234.5M218.8 229.7L219.5 236.7M217.4 229.8L217.7 234.5M218.8 229.7A40.8 40.8 0 0 1 217.4 229.8M219.2 224.8L220.8 239.0M217.7 224.9L218.1 229.7M219.2 224.8A36.0 36.0 0 0 1 217.7 224.9M219.6 221.8L221.7 236.5M218.2 221.9L218.5 224.9M219.6 221.8A33.1 33.1 0 0 1 218.2 221.9M221.3 219.1L221.7 220.7M218.6 219.5L218.9 221.8M221.3 219.1A30.8 30.8 0 0 1 218.6 219.5M224.0 212.5L225.3 216.0M219.1 213.9L220.0 219.3M224.0 212.5A25.2 25.2 0 0 1 219.1 213.9M215.0 229.3L215.0 243.4M214.1 229.3L213.9 236.2M215.0 229.3A40.3 40.3 0 0 1 214.1 229.3M213.0 231.7L212.7 238.7M212.0 231.7L211.1 245.3M213.0 231.7A42.8 42.8 0 0 1 212.0 231.7M214.6 226.7L214.5 229.3M212.8 226.6L212.5 231.7M214.6 226.7A37.7 37.7 0 0 1 212.8 226.6M215.8 223.3L216.2 242.1M213.8 223.3L213.7 226.6M215.8 223.3A34.3 34.3 0 0 1 213.8 223.3M210.1 230.5L208.9 241.4M209.2 230.4L208.4 236.1M210.1 230.5A41.8 41.8 0 0 1 209.2 230.4M211.2 229.4L209.8 245.2M209.8 229.3L209.7 230.5M211.2 229.4A40.6 40.6 0 0 1 209.8 229.3M207.4 235.3L206.6 240.0M206.3 235.1L205.7 238.3M207.4 235.3A46.9 46.9 0 0 1 206.3 235.1M203.9 235.8L202.9 240.0M202.8 235.6L202.4 237.0M203.9 235.8A48.1 48.1 0 0 1 202.8 235.6M205.6 233.0L203.0 245.6M204.1 232.7L203.4 235.7M205.6 233.0A45.0 45.0 0 0 1 204.1 232.7M207.6 231.2L206.9 235.2M205.4 230.7L204.9 232.9M207.6 231.2A42.8 42.8 0 0 1 205.4 230.7M210.9 226.1L210.5 229.4M207.6 225.6L206.5 230.9M210.9 226.1A37.3 37.3 0 0 1 207.6 225.6M201.5 228.9L198.7 237.3M200.6 228.6L198.2 235.2M201.5 228.9A42.1 42.1 0 0 1 200.6 228.6M203.2 226.9L200.3 236.0M201.8 226.5L201.1 228.7M203.2 226.9A39.7 39.7 0 0 1 201.8 226.5M205.2 223.3L199.0 244.7M203.8 222.8L202.5 226.7M205.2 223.3A35.6 35.6 0 0 1 203.8 222.8M209.7 222.5L209.2 225.8M205.0 221.4L204.5 223.1M209.7 222.5A33.9 33.9 0 0 1 205.0 221.4M214.8 218.1L214.8 223.3M208.4 217.3L207.3 222.1M214.8 218.1A29.1 29.1 0 0 1 208.4 217.3M203.5 218.3L196.1 237.5M202.9 218.1L192.3 243.3M203.5 218.3A31.5 31.5 0 0 1 202.9 218.1M199.4 221.9L191.4 238.9M198.7 221.5L189.1 240.5M199.4 221.9A36.4 36.4 0 0 1 198.7 221.5M201.5 219.4L191.8 241.0M200.4 218.9L199.1 221.7M201.5 219.4A33.2 33.2 0 0 1 200.4 218.9M200.1 216.9L191.7 232.8M199.5 216.6L189.6 234.3M200.1 216.9A31.7 31.7 0 0 1 199.5 216.6M203.2 214.4L201.0 219.1M201.6 213.6L199.8 216.8M203.2 214.4A28.0 28.0 0 0 1 201.6 213.6M205.3 213.1L203.2 218.2M203.3 212.1L202.4 214.0M205.3 213.1A25.9 25.9 0 0 1 203.3 212.1M212.1 213.5L211.6 217.9M204.8 211.5L204.3 212.6M212.1 213.5A24.7 24.7 0 0 1 204.8 211.5M220.0 207.7L221.6 213.3M209.8 207.7L208.4 212.8M220.0 207.7A19.4 19.4 0 0 1 209.8 207.7M224.3 199.2L226.4 201.6M214.9 202.8L214.9 208.4M224.3 199.2A13.8 13.8 0 0 1 214.9 202.8M199.2 213.1L185.2 234.3M198.6 212.7L186.4 230.4M199.2 213.1A28.8 28.8 0 0 1 198.6 212.7M200.4 212.4L184.9 237.3M199.6 211.8L198.9 212.9M200.4 212.4A27.5 27.5 0 0 1 199.6 211.8M202.1 210.7L185.9 238.1M201.3 210.2L200.0 212.1M202.1 210.7A25.2 25.2 0 0 1 201.3 210.2M197.4 211.1L179.1 234.1M196.9 210.7L181.5 229.1M197.4 211.1A28.3 28.3 0 0 1 196.9 210.7M200.1 208.6L179.2 236.0M199.5 208.1L197.1 210.9M200.1 208.6A24.6 24.6 0 0 1 199.5 208.1M201.4 207.8L184.2 231.5M200.7 207.2L199.8 208.3M201.4 207.8A23.2 23.2 0 0 1 200.7 207.2M203.6 207.4L201.7 210.5M201.9 206.3L201.0 207.5M203.6 207.4A21.7 21.7 0 0 1 201.9 206.3M190.2 217.3L175.7 233.9M189.6 216.8L181.3 225.8M190.2 217.3A37.7 37.7 0 0 1 189.6 216.8M188.4 216.7L173.7 232.0M187.8 216.1L175.8 228.0M188.4 216.7A38.4 38.4 0 0 1 187.8 216.1M191.5 215.3L189.9 217.1M190.3 214.2L188.1 216.4M191.5 215.3A35.3 35.3 0 0 1 190.3 214.2M187.4 214.0L173.2 226.9M186.9 213.4L174.7 223.9M187.4 214.0A37.2 37.2 0 0 1 186.9 213.4M191.1 211.7L177.5 224.6M190.3 210.9L187.2 213.7M191.1 211.7A33.0 33.0 0 0 1 190.3 210.9M194.3 211.0L190.9 214.7M192.7 209.4L190.7 211.3M194.3 211.0A30.2 30.2 0 0 1 192.7 209.4M189.4 210.2L172.2 224.4M188.9 209.6L169.0 225.3M189.4 210.2A33.2 33.2 0 0 1 188.9 209.6M188.8 208.7L166.7 225.3M188.3 208.1L170.7 220.8M188.8 208.7A32.8 32.8 0 0 1 188.3 208.1M191.4 208.1L189.1 209.9M190.5 207.0L188.5 208.4M191.4 208.1A30.4 30.4 0 0 1 190.5 207.0M194.5 209.2L193.5 210.3M192.2 206.6L190.9 207.6M194.5 209.2A28.8 28.8 0 0 1 192.2 206.6M181.1 209.9L164.6 220.1M180.6 209.2L170.4 215.1M181.1 209.9A39.9 39.9 0 0 1 180.6 209.2M184.4 208.8L164.2 222.0M183.8 207.8L180.8 209.6M184.4 208.8A36.4 36.4 0 0 1 183.8 207.8M188.0 207.4L169.0 220.4M187.3 206.3L184.1 208.3M188.0 207.4A32.7 32.7 0 0 1 187.3 206.3M173.7 209.5L162.0 215.3M173.3 208.6L164.4 212.7M173.7 209.5A46.1 46.1 0 0 1 173.3 208.6M177.5 208.7L162.5 216.6M176.9 207.4L173.5 209.0M177.5 208.7A42.3 42.3 0 0 1 176.9 207.4M181.4 207.6L170.3 213.8M180.7 206.3L177.2 208.1M181.4 207.6A38.4 38.4 0 0 1 180.7 206.3M169.9 206.5L157.1 211.4M169.5 205.4L163.1 207.7M169.9 206.5A48.4 48.4 0 0 1 169.5 205.4M174.5 205.7L159.0 212.2M174.0 204.3L169.7 205.9M174.5 205.7A43.8 43.8 0 0 1 174.0 204.3M177.0 205.8L162.6 212.1M176.3 204.2L174.2 205.0M177.0 205.8A41.6 41.6 0 0 1 176.3 204.2M166.2 202.9L157.2 205.4M165.9 201.8L157.2 204.0M166.2 202.9A50.7 50.7 0 0 1 165.9 201.8M170.9 202.6L163.1 205.1M170.5 201.1L166.0 202.3M170.9 202.6A46.1 46.1 0 0 1 170.5 201.1M175.0 202.4L155.9 208.8M174.5 200.8L170.7 201.9M175.0 202.4A42.2 42.2 0 0 1 174.5 200.8M180.0 203.6L176.6 205.0M178.8 200.3L174.8 201.6M180.0 203.6A38.0 38.0 0 0 1 178.8 200.3M185.1 204.8L181.1 207.0M183.2 200.6L179.3 202.0M185.1 204.8A33.8 33.8 0 0 1 183.2 200.6M189.3 205.8L187.7 206.9M186.9 201.5L184.1 202.7M189.3 205.8A30.8 30.8 0 0 1 186.9 201.5M195.9 205.7L193.3 207.9M192.7 201.1L188.0 203.7M195.9 205.7A25.4 25.4 0 0 1 192.7 201.1M203.9 205.2L202.7 206.9M198.9 200.2L194.2 203.5M203.9 205.2A19.7 19.7 0 0 1 198.9 200.2M173.6 197.8L162.7 200.1M173.4 196.8L163.1 198.7M173.6 197.8A42.4 42.4 0 0 1 173.4 196.8M179.1 197.5L154.5 203.3M178.8 196.2L173.5 197.3M179.1 197.5A36.9 36.9 0 0 1 178.8 196.2M177.6 195.1L158.3 198.3M177.4 194.3L154.2 197.5M177.6 195.1A37.9 37.9 0 0 1 177.4 194.3M181.8 196.2L178.9 196.8M181.4 194.1L177.5 194.7M181.8 196.2A34.0 34.0 0 0 1 181.4 194.1M178.0 192.5L156.9 194.4M177.9 191.6L160.8 192.8M178.0 192.5A37.2 37.2 0 0 1 177.9 191.6M182.6 192.8L155.7 195.9M182.5 191.7L178.0 192.0M182.6 192.8A32.6 32.6 0 0 1 182.5 191.7M186.9 194.2L181.6 195.2M186.5 191.8L182.5 192.2M186.9 194.2A28.6 28.6 0 0 1 186.5 191.8M176.3 188.2L157.6 187.8M176.3 187.3L153.5 186.3M176.3 188.2A38.7 38.7 0 0 1 176.3 187.3M178.4 189.1L162.3 189.1M178.4 187.8L176.3 187.7M178.4 189.1A36.6 36.6 0 0 1 178.4 187.8M182.2 189.8L156.5 190.4M182.2 188.5L178.4 188.4M182.2 189.8A32.8 32.8 0 0 1 182.2 188.5M185.2 190.4L154.6 191.9M185.2 189.1L182.2 189.1M185.2 190.4A29.8 29.8 0 0 1 185.2 189.1M188.1 192.8L186.7 193.0M187.8 189.7L185.2 189.8M188.1 192.8A27.2 27.2 0 0 1 187.8 189.7M178.5 185.7L163.6 184.3M178.6 184.9L162.1 183.0M178.5 185.7A36.6 36.6 0 0 1 178.6 184.9M177.2 183.8L154.8 180.7M177.4 183.0L160.7 180.3M177.2 183.8A38.1 38.1 0 0 1 177.4 183.0M177.6 182.1L160.3 178.9M177.7 181.2L158.2 177.2M177.6 182.1A38.1 38.1 0 0 1 177.7 181.2M180.7 183.9L177.3 183.4M181.0 182.3L177.7 181.7M180.7 183.9A34.7 34.7 0 0 1 181.0 182.3M178.7 180.6L162.8 176.9M178.9 179.7L160.9 175.1M178.7 180.6A37.3 37.3 0 0 1 178.9 179.7M182.7 183.4L180.8 183.1M183.2 181.2L178.8 180.1M182.7 183.4A32.7 32.7 0 0 1 183.2 181.2M184.0 185.8L178.6 185.3M184.5 182.7L182.9 182.3M184.0 185.8A31.1 31.1 0 0 1 184.5 182.7M187.3 187.1L157.0 185.1M187.6 184.8L184.2 184.2M187.3 187.1A27.7 27.7 0 0 1 187.6 184.8M185.2 179.9L163.8 173.3M185.4 179.2L164.3 172.2M185.2 179.9A31.2 31.2 0 0 1 185.4 179.2M187.8 181.3L160.4 173.7M188.1 180.4L185.3 179.5M187.8 181.3A28.3 28.3 0 0 1 188.1 180.4M191.2 186.4L187.4 185.9M192.1 182.1L187.9 180.9M191.2 186.4A23.9 23.9 0 0 1 192.1 182.1M193.7 190.8L187.9 191.3M194.0 184.7L191.6 184.2M193.7 190.8A21.4 21.4 0 0 1 194.0 184.7M203.2 200.9L201.1 203.0M198.2 188.0L193.6 187.7M203.2 200.9A16.8 16.8 0 0 1 198.2 188.0M210.5 185.3L206.3 182.0M210.5 185.2L202.4 178.3M210.5 185.3A5.8 5.8 0 0 1 210.5 185.2M210.8 185.8L206.3 182.3M210.9 185.6L210.5 185.3M210.8 185.8A5.3 5.3 0 0 1 210.9 185.6M211.9 186.7L202.0 179.5M212.0 186.6L210.8 185.7M211.9 186.7A3.8 3.8 0 0 1 212.0 186.6M212.8 187.5L202.1 180.1M212.9 187.4L211.9 186.7M212.8 187.5A2.7 2.7 0 0 1 212.9 187.4M211.8 186.1L204.0 179.1M211.9 186.1L206.8 181.3M211.8 186.1A4.3 4.3 0 0 1 211.9 186.1M210.6 184.6L204.2 178.3M210.7 184.5L204.7 178.3M210.6 184.6A6.2 6.2 0 0 1 210.7 184.5M210.0 183.2L205.3 177.8M210.1 183.1L206.4 178.5M210.0 183.2A7.6 7.6 0 0 1 210.1 183.1M209.6 182.1L207.1 178.9M209.8 182.0L205.3 176.0M209.6 182.1A8.7 8.7 0 0 1 209.8 182.0M210.3 183.5L210.1 183.2M210.6 183.3L209.7 182.1M210.3 183.5A7.2 7.2 0 0 1 210.6 183.3M210.8 184.5L204.0 176.9M211.1 184.2L210.5 183.4M210.8 184.5A6.2 6.2 0 0 1 211.1 184.2M211.5 185.4L210.6 184.6M211.7 185.2L211.0 184.3M211.5 185.4A5.0 5.0 0 0 1 211.7 185.2M212.4 186.6L211.8 186.1M212.6 186.4L211.6 185.3M212.4 186.6A3.5 3.5 0 0 1 212.6 186.4M213.1 187.6L212.8 187.4M213.4 187.4L212.5 186.5M213.1 187.6A2.3 2.3 0 0 1 213.4 187.4M215.3 188.6L217.8 185.4M215.5 189.1L227.3 191.1M215.2 189.5L219.9 201.9M214.5 189.2L199.3 195.0M214.6 188.7L213.2 187.5M217.5 185.9A4 4 0 0 1 218.9 189.7M220.9 190.0A6 6 0 0 1 217.1 194.6M217.5 195.5A7 7 0 0 1 208.5 191.5" stroke="#8C8C8C" stroke-width="0.5" fill="none"/><path d="M222.3 154.3h1.6v1.6h-1.6zM224.6 150.5h1.6v1.6h-1.6zM224.6 156.8h1.6v1.6h-1.6zM225.6 155.4h1.6v1.6h-1.6zM231.2 154.8h1.6v1.6h-1.6zM236.2 151.4h1.6v1.6h-1.6zM237.9 159.4h1.6v1.6h-1.6zM242.4 169.1h1.6v1.6h-1.6zM247.8 167.8h1.6v1.6h-1.6zM245.0 170.2h1.6v1.6h-1.6zM246.0 171.1h1.6v1.6h-1.6zM251.1 169.1h1.6v1.6h-1.6zM254.1 169.2h1.6v1.6h-1.6zM256.0 179.4h1.6v1.6h-1.6zM253.7 186.9h1.6v1.6h-1.6zM259.1 201.5h1.6v1.6h-1.6zM255.0 211.1h1.6v1.6h-1.6zM253.8 219.0h1.6v1.6h-1.6zM237.0 233.7h1.6v1.6h-1.6zM231.0 242.1h1.6v1.6h-1.6zM227.0 237.2h1.6v1.6h-1.6zM220.1 238.8h1.6v1.6h-1.6zM218.7 236.5h1.6v1.6h-1.6zM217.9 241.6h1.6v1.6h-1.6zM202.0 245.4h1.6v1.6h-1.6zM202.0 239.8h1.6v1.6h-1.6zM190.3 238.6h1.6v1.6h-1.6zM178.1 235.7h1.6v1.6h-1.6zM180.3 228.8h1.6v1.6h-1.6zM174.5 233.5h1.6v1.6h-1.6zM176.3 224.2h1.6v1.6h-1.6zM173.5 223.5h1.6v1.6h-1.6zM165.4 224.9h1.6v1.6h-1.6zM162.9 221.5h1.6v1.6h-1.6zM169.1 214.6h1.6v1.6h-1.6zM169.0 213.3h1.6v1.6h-1.6zM161.2 216.1h1.6v1.6h-1.6zM160.7 214.8h1.6v1.6h-1.6zM161.7 207.1h1.6v1.6h-1.6zM155.9 204.8h1.6v1.6h-1.6zM153.1 202.6h1.6v1.6h-1.6zM161.7 198.0h1.6v1.6h-1.6zM154.3 195.2h1.6v1.6h-1.6zM159.4 192.1h1.6v1.6h-1.6zM156.2 187.0h1.6v1.6h-1.6zM155.6 184.2h1.6v1.6h-1.6zM159.3 179.4h1.6v1.6h-1.6zM158.9 178.0h1.6v1.6h-1.6zM156.8 176.2h1.6v1.6h-1.6zM159.5 174.2h1.6v1.6h-1.6zM162.4 172.3h1.6v1.6h-1.6zM200.7 178.4h1.6v1.6h-1.6zM202.7 177.9h1.6v1.6h-1.6zM203.5 177.1h1.6v1.6h-1.6zM202.8 175.7h1.6v1.6h-1.6zM205.9 177.6h1.6v1.6h-1.6z" fill="#6FA8DC"/><path d="M227.8 153.2h1.6v1.6h-1.6zM230.2 148.8h1.6v1.6h-1.6zM237.1 152.6h1.6v1.6h-1.6zM239.2 153.3h1.6v1.6h-1.6zM235.1 161.0h1.6v1.6h-1.6zM244.1 163.2h1.6v1.6h-1.6zM241.2 166.4h1.6v1.6h-1.6zM242.5 167.6h1.6v1.6h-1.6zM250.1 165.6h1.6v1.6h-1.6zM247.8 172.9h1.6v1.6h-1.6zM256.0 180.5h1.6v1.6h-1.6zM256.4 184.7h1.6v1.6h-1.6zM257.9 187.8h1.6v1.6h-1.6zM254.9 193.9h1.6v1.6h-1.6zM255.9 198.4h1.6v1.6h-1.6zM256.6 199.7h1.6v1.6h-1.6zM258.5 207.6h1.6v1.6h-1.6zM255.7 212.9h1.6v1.6h-1.6zM251.0 212.6h1.6v1.6h-1.6zM248.8 222.4h1.6v1.6h-1.6zM245.1 220.2h1.6v1.6h-1.6zM245.3 227.1h1.6v1.6h-1.6zM244.5 230.0h1.6v1.6h-1.6zM242.0 228.4h1.6v1.6h-1.6zM242.3 235.5h1.6v1.6h-1.6zM234.9 234.8h1.6v1.6h-1.6zM228.2 237.0h1.6v1.6h-1.6zM226.7 240.7h1.6v1.6h-1.6zM221.0 236.3h1.6v1.6h-1.6zM216.4 235.8h1.6v1.6h-1.6zM208.0 241.2h1.6v1.6h-1.6zM201.5 236.8h1.6v1.6h-1.6zM172.0 226.5h1.6v1.6h-1.6zM163.3 219.6h1.6v1.6h-1.6zM163.1 212.2h1.6v1.6h-1.6zM161.2 211.6h1.6v1.6h-1.6zM154.6 208.2h1.6v1.6h-1.6zM161.7 204.5h1.6v1.6h-1.6zM200.8 178.9h1.6v1.6h-1.6zM204.1 176.6h1.6v1.6h-1.6z" fill="#F6B26B"/><path d="M229.8 151.7h1.6v1.6h-1.6zM237.5 153.3h1.6v1.6h-1.6zM242.4 163.0h1.6v1.6h-1.6zM240.6 165.3h1.6v1.6h-1.6zM243.6 165.3h1.6v1.6h-1.6zM248.3 164.2h1.6v1.6h-1.6zM249.6 165.1h1.6v1.6h-1.6zM256.2 172.5h1.6v1.6h-1.6zM255.9 190.9h1.6v1.6h-1.6zM255.7 196.1h1.6v1.6h-1.6zM253.8 202.1h1.6v1.6h-1.6zM252.7 202.8h1.6v1.6h-1.6zM257.1 209.6h1.6v1.6h-1.6zM255.5 210.1h1.6v1.6h-1.6zM237.2 229.1h1.6v1.6h-1.6zM223.7 238.4h1.6v1.6h-1.6zM214.2 243.2h1.6v1.6h-1.6zM211.9 238.5h1.6v1.6h-1.6zM190.8 240.8h1.6v1.6h-1.6zM188.1 240.2h1.6v1.6h-1.6zM157.6 211.6h1.6v1.6h-1.6zM155.9 203.4h1.6v1.6h-1.6zM155.1 189.7h1.6v1.6h-1.6zM152.1 185.4h1.6v1.6h-1.6zM159.1 172.7h1.6v1.6h-1.6zM205.0 181.1h1.6v1.6h-1.6z" fill="#E89090"/><path d="M224.9 151.8h1.6v1.6h-1.6zM231.6 152.6h1.6v1.6h-1.6zM238.9 154.9h1.6v1.6h-1.6zM238.7 159.5h1.6v1.6h-1.6zM252.1 171.9h1.6v1.6h-1.6zM253.1 174.8h1.6v1.6h-1.6zM254.5 183.8h1.6v1.6h-1.6zM260.0 185.5h1.6v1.6h-1.6zM261.0 192.4h1.6v1.6h-1.6zM260.1 195.8h1.6v1.6h-1.6zM252.9 200.7h1.6v1.6h-1.6zM254.8 218.2h1.6v1.6h-1.6zM253.1 221.7h1.6v1.6h-1.6zM248.2 228.7h1.6v1.6h-1.6zM243.4 232.6h1.6v1.6h-1.6zM234.3 239.6h1.6v1.6h-1.6zM224.5 236.4h1.6v1.6h-1.6zM210.2 245.1h1.6v1.6h-1.6zM208.9 245.0h1.6v1.6h-1.6zM204.8 238.1h1.6v1.6h-1.6zM195.0 237.3h1.6v1.6h-1.6zM184.8 237.8h1.6v1.6h-1.6zM180.1 225.4h1.6v1.6h-1.6zM161.3 199.4h1.6v1.6h-1.6zM161.4 175.9h1.6v1.6h-1.6zM162.9 171.2h1.6v1.6h-1.6zM201.2 177.1h1.6v1.6h-1.6zM203.0 177.1h1.6v1.6h-1.6z" fill="#76C7C0"/><path d="M225.8 156.6h1.6v1.6h-1.6zM234.9 150.7h1.6v1.6h-1.6zM231.7 157.7h1.6v1.6h-1.6zM235.6 153.6h1.6v1.6h-1.6zM239.1 156.9h1.6v1.6h-1.6zM238.6 161.5h1.6v1.6h-1.6zM245.6 159.2h1.6v1.6h-1.6zM249.3 161.7h1.6v1.6h-1.6zM255.1 171.8h1.6v1.6h-1.6zM253.7 175.7h1.6v1.6h-1.6zM255.4 182.7h1.6v1.6h-1.6zM255.2 207.4h1.6v1.6h-1.6zM253.9 216.1h1.6v1.6h-1.6zM247.3 218.0h1.6v1.6h-1.6zM245.5 223.8h1.6v1.6h-1.6zM241.8 232.4h1.6v1.6h-1.6zM236.2 234.6h1.6v1.6h-1.6zM205.7 239.8h1.6v1.6h-1.6zM198.1 244.5h1.6v1.6h-1.6zM199.4 235.7h1.6v1.6h-1.6zM191.3 243.0h1.6v1.6h-1.6zM183.8 237.0h1.6v1.6h-1.6zM177.9 233.7h1.6v1.6h-1.6zM172.5 231.7h1.6v1.6h-1.6zM167.8 224.8h1.6v1.6h-1.6zM156.9 197.6h1.6v1.6h-1.6zM162.2 183.5h1.6v1.6h-1.6zM160.7 182.1h1.6v1.6h-1.6zM205.5 180.0h1.6v1.6h-1.6z" fill="#C27BA0"/><path d="M223.5 152.0h1.6v1.6h-1.6zM231.9 148.7h1.6v1.6h-1.6zM229.1 156.4h1.6v1.6h-1.6zM235.3 157.7h1.6v1.6h-1.6zM243.6 154.9h1.6v1.6h-1.6zM239.4 163.2h1.6v1.6h-1.6zM239.5 164.0h1.6v1.6h-1.6zM249.3 168.5h1.6v1.6h-1.6zM248.8 171.0h1.6v1.6h-1.6zM251.6 177.3h1.6v1.6h-1.6zM256.4 177.1h1.6v1.6h-1.6zM259.6 190.0h1.6v1.6h-1.6zM258.5 193.3h1.6v1.6h-1.6zM254.2 220.9h1.6v1.6h-1.6zM246.8 219.0h1.6v1.6h-1.6zM249.6 226.7h1.6v1.6h-1.6zM242.5 225.3h1.6v1.6h-1.6zM235.8 239.9h1.6v1.6h-1.6zM233.1 240.0h1.6v1.6h-1.6zM222.3 237.4h1.6v1.6h-1.6zM190.6 232.5h1.6v1.6h-1.6zM188.5 234.0h1.6v1.6h-1.6zM185.3 230.1h1.6v1.6h-1.6zM170.9 224.0h1.6v1.6h-1.6zM169.4 220.3h1.6v1.6h-1.6zM152.8 196.8h1.6v1.6h-1.6zM155.5 193.7h1.6v1.6h-1.6zM160.9 188.3h1.6v1.6h-1.6zM204.2 174.7h1.6v1.6h-1.6z" fill="#9FCB8A"/><path d="M223.8 157.3h1.6v1.6h-1.6zM234.8 149.4h1.6v1.6h-1.6zM239.1 161.8h1.6v1.6h-1.6zM241.9 159.9h1.6v1.6h-1.6zM253.6 178.9h1.6v1.6h-1.6zM258.8 181.1h1.6v1.6h-1.6zM259.1 188.9h1.6v1.6h-1.6zM257.4 197.6h1.6v1.6h-1.6zM253.3 204.2h1.6v1.6h-1.6zM250.6 211.1h1.6v1.6h-1.6zM239.6 235.9h1.6v1.6h-1.6zM230.5 236.4h1.6v1.6h-1.6zM215.4 241.9h1.6v1.6h-1.6zM213.1 236.0h1.6v1.6h-1.6zM207.5 235.9h1.6v1.6h-1.6zM197.7 237.1h1.6v1.6h-1.6zM197.2 234.9h1.6v1.6h-1.6zM184.1 234.0h1.6v1.6h-1.6zM183.0 231.2h1.6v1.6h-1.6zM174.6 227.6h1.6v1.6h-1.6zM167.7 220.0h1.6v1.6h-1.6zM155.7 210.8h1.6v1.6h-1.6zM153.2 191.1h1.6v1.6h-1.6zM153.4 179.9h1.6v1.6h-1.6zM205.0 180.8h1.6v1.6h-1.6zM205.2 177.3h1.6v1.6h-1.6z" fill="#B8B8B8"/></g>
<g id="lega"><text x="12.8" y="14.9" class="pl">(a)</text>
<text x="9.2" y="24.2" class="hd">Species</text>
<line x1="9" y1="26.4" x2="60" y2="26.4" stroke="#BDBDBD" stroke-width="0.6"/>
<circle cx="12.5" cy="32.90" r="3.3" fill="#C062B4"/>
<text x="19" y="35.10" class="sp">A. belladonna</text>
<circle cx="12.5" cy="42.93" r="3.3" fill="#F26B5B"/>
<text x="19" y="45.13" class="sp">C. annuum</text>
<circle cx="12.5" cy="52.96" r="3.3" fill="#A88C22"/>
<text x="19" y="55.16" class="sp">D. stramonium</text>
<circle cx="12.5" cy="62.99" r="3.3" fill="#22B2B0"/>
<text x="19" y="65.19" class="sp">N. tabacum</text>
<circle cx="12.5" cy="73.02" r="3.3" fill="#F6AA5E"/>
<text x="19" y="75.22" class="sp">S. lycopersicum</text>
<circle cx="12.5" cy="83.05" r="3.3" fill="#5B84D2"/>
<text x="19" y="85.25" class="sp">S. macrocarpon</text>
<circle cx="12.5" cy="93.08" r="3.3" fill="#2FA24A"/>
<text x="19" y="95.28" class="sp">S. melongena</text>
<circle cx="12.5" cy="103.11" r="3.3" fill="#EA625A"/>
<text x="19" y="105.31" class="sp">S. pennellii</text>
<circle cx="12.5" cy="113.14" r="3.3" fill="#C9C3E4"/>
<text x="19" y="115.34" class="sp">S. pimpinellifolium</text>
<text x="9.2" y="244.4" class="hd">Colored ranges</text>
<line x1="9" y1="246.8" x2="47" y2="246.8" stroke="#BDBDBD" stroke-width="0.6"/>
<circle cx="12.5" cy="251.80" r="3.3" fill="#5DBE97"/>
<text x="19" y="254.10" class="cr">CNL</text>
<circle cx="12.5" cy="261.80" r="3.3" fill="#F0675B"/>
<text x="19" y="264.10" class="cr">RNL</text>
<circle cx="12.5" cy="271.80" r="3.3" fill="#C06DBE"/>
<text x="19" y="274.10" class="cr">TNL</text></g>
<g id="logos"><text x="366.3" y="14.6" class="pl" style="font-size:12.3px">(b)</text>
<text x="367.8" y="23.2" class="hd" style="font-size:6.3px">Motifs</text>
<line x1="367" y1="25.2" x2="407" y2="25.2" stroke="#BDBDBD" stroke-width="0.6"/>
<text x="392.3" y="41.10" text-anchor="end" class="mo">Motif 1</text>
<rect x="397.5" y="35.40" width="6.4" height="6.4" fill="#FF0000"/>
<line x1="413.5" y1="29.90" x2="413.5" y2="52.20" stroke="#444" stroke-width="0.45"/>
<line x1="412.3" y1="52.20" x2="413.5" y2="52.20" stroke="#444" stroke-width="0.35"/>
<line x1="412.3" y1="46.62" x2="413.5" y2="46.62" stroke="#444" stroke-width="0.35"/>
<line x1="412.3" y1="41.05" x2="413.5" y2="41.05" stroke="#444" stroke-width="0.35"/>
<line x1="412.3" y1="35.48" x2="413.5" y2="35.48" stroke="#444" stroke-width="0.35"/>
<line x1="412.3" y1="29.90" x2="413.5" y2="29.90" stroke="#444" stroke-width="0.35"/>
<text transform="translate(411.2,41.95) rotate(-90)" class="bits">bits</text>
<line x1="414.5" y1="53.20" x2="499.50" y2="53.20" stroke="#bbbbbb" stroke-width="1.0" stroke-dasharray="0.5 3.1"/>
<line x1="488.50" y1="56.50" x2="499.50" y2="56.50" stroke="#c8c8c8" stroke-width="0.5"/>
<text transform="translate(413.80,51.00) scale(1,0.549)" textLength="3.50" lengthAdjust="spacingAndGlyphs" fill="#1F9B4A" stroke="#1F9B4A" class="lo lf">D</text>
<text transform="translate(413.80,47.00) scale(1,0.933)" textLength="3.50" lengthAdjust="spacingAndGlyphs" fill="#3A5BC9" stroke="#3A5BC9" class="lo">N</text>
<text transform="translate(417.70,51.00) scale(1,0.686)" textLength="3.30" lengthAdjust="spacingAndGlyphs" fill="#D7302F" stroke="#D7302F" class="lo lf">G</text>
<text transform="translate(417.70,46.00) scale(1,0.864)" textLength="3.30" lengthAdjust="spacingAndGlyphs" fill="#3A5BC9" stroke="#3A5BC9" class="lo">V</text>
<text transform="translate(421.40,51.00) scale(1,0.412)" textLength="3.10" lengthAdjust="spacingAndGlyphs" fill="#C240C0" stroke="#C240C0" class="lo lf">S</text>
<text transform="translate(421.40,48.00) scale(1,0.686)" textLength="3.10" lengthAdjust="spacingAndGlyphs" fill="#1F9B4A" stroke="#1F9B4A" class="lo">N</text>
<text transform="translate(424.50,51.00) scale(1,0.291)" textLength="2.80" lengthAdjust="spacingAndGlyphs" fill="#D7302F" stroke="#D7302F" class="lo lf">L</text>
<text transform="translate(424.50,48.88) scale(1,0.248)" textLength="2.80" lengthAdjust="spacingAndGlyphs" fill="#D7302F" stroke="#D7302F" class="lo lf">R</text>
<text transform="translate(427.30,51.00) scale(1,0.274)" textLength="2.20" lengthAdjust="spacingAndGlyphs" fill="#D6C91F" stroke="#D6C91F" class="lo lf">S</text>
<text transform="translate(427.30,49.00) scale(1,1.893)" textLength="2.20" lengthAdjust="spacingAndGlyphs" fill="#3A5BC9" stroke="#3A5BC9" class="lo">I</text>
<text transform="translate(429.50,51.00) scale(1,0.137)" textLength="4.50" lengthAdjust="spacingAndGlyphs" fill="#C240C0" stroke="#C240C0" class="lo lf">G</text>
<text transform="translate(429.50,50.00) scale(1,0.727)" textLength="4.50" lengthAdjust="spacingAndGlyphs" fill="#3A5BC9" stroke="#3A5BC9" class="lo">V</text>
<text transform="translate(434.50,51.00) scale(1,2.798)" textLength="3.70" lengthAdjust="spacingAndGlyphs" fill="#F3A524" stroke="#F3A524" class="lo">G</text>
<text transform="translate(438.20,51.00) scale(1,0.686)" textLength="4.10" lengthAdjust="spacingAndGlyphs" fill="#C240C0" stroke="#C240C0" class="lo lf">R</text>
<text transform="translate(438.20,46.00) scale(1,1.427)" textLength="4.10" lengthAdjust="spacingAndGlyphs" fill="#3A5BC9" stroke="#3A5BC9" class="lo">M</text>
<text transform="translate(442.30,51.00) scale(1,0.274)" textLength="2.70" lengthAdjust="spacingAndGlyphs" fill="#D6C91F" stroke="#D6C91F" class="lo lf">N</text>
<text transform="translate(442.30,49.00) scale(1,1.399)" textLength="2.70" lengthAdjust="spacingAndGlyphs" fill="#F3A524" stroke="#F3A524" class="lo">G</text>
<text transform="translate(446.40,51.00) scale(1,2.798)" textLength="4.10" lengthAdjust="spacingAndGlyphs" fill="#F3A524" stroke="#F3A524" class="lo">G</text>
<text transform="translate(451.00,51.00) scale(1,0.206)" textLength="2.60" lengthAdjust="spacingAndGlyphs" fill="#C240C0" stroke="#C240C0" class="lo lf">A</text>
<text transform="translate(451.00,49.50) scale(1,0.590)" textLength="2.60" lengthAdjust="spacingAndGlyphs" fill="#3A5BC9" stroke="#3A5BC9" class="lo">A</text>
<text transform="translate(455.20,51.00) scale(1,2.853)" textLength="3.40" lengthAdjust="spacingAndGlyphs" fill="#F3A524" stroke="#F3A524" class="lo">G</text>
<text transform="translate(458.60,51.00) scale(1,2.853)" textLength="4.10" lengthAdjust="spacingAndGlyphs" fill="#D7302F" stroke="#D7302F" class="lo">K</text>
<text transform="translate(463.00,51.00) scale(1,2.606)" textLength="3.80" lengthAdjust="spacingAndGlyphs" fill="#1F9B4A" stroke="#1F9B4A" class="lo">T</text>
<text transform="translate(466.80,51.00) scale(1,2.538)" textLength="4.10" lengthAdjust="spacingAndGlyphs" fill="#1F9B4A" stroke="#1F9B4A" class="lo">T</text>
<text transform="translate(471.20,51.00) scale(1,0.412)" textLength="3.30" lengthAdjust="spacingAndGlyphs" fill="#D7302F" stroke="#D7302F" class="lo lf">R</text>
<text transform="translate(471.20,48.00) scale(1,1.646)" textLength="3.30" lengthAdjust="spacingAndGlyphs" fill="#3A5BC9" stroke="#3A5BC9" class="lo">L</text>
<text transform="translate(474.50,51.00) scale(1,2.469)" textLength="4.50" lengthAdjust="spacingAndGlyphs" fill="#3A5BC9" stroke="#3A5BC9" class="lo">A</text>
<text transform="translate(479.50,51.00) scale(1,0.274)" textLength="2.80" lengthAdjust="spacingAndGlyphs" fill="#D6C91F" stroke="#D6C91F" class="lo lf">L</text>
<text transform="translate(479.50,49.00) scale(1,0.645)" textLength="2.80" lengthAdjust="spacingAndGlyphs" fill="#D7302F" stroke="#D7302F" class="lo">R</text>
<text transform="translate(482.30,51.00) scale(1,0.823)" textLength="2.70" lengthAdjust="spacingAndGlyphs" fill="#C240C0" stroke="#C240C0" class="lo">S</text>
<text transform="translate(485.00,51.00) scale(1,0.686)" textLength="2.70" lengthAdjust="spacingAndGlyphs" fill="#D7302F" stroke="#D7302F" class="lo">K</text>
<text transform="translate(487.70,51.00) scale(1,0.412)" textLength="2.80" lengthAdjust="spacingAndGlyphs" fill="#3A5BC9" stroke="#3A5BC9" class="lo lf">A</text>
<text transform="translate(487.70,48.00) scale(1,1.015)" textLength="2.80" lengthAdjust="spacingAndGlyphs" fill="#3A5BC9" stroke="#3A5BC9" class="lo">Y</text>
<text transform="translate(491.00,51.00) scale(1,0.549)" textLength="3.00" lengthAdjust="spacingAndGlyphs" fill="#C240C0" stroke="#C240C0" class="lo lf">A</text>
<text transform="translate(491.00,47.00) scale(1,1.180)" textLength="3.00" lengthAdjust="spacingAndGlyphs" fill="#27A8A8" stroke="#27A8A8" class="lo">Y</text>
<text transform="translate(495.50,51.00) scale(1,0.274)" textLength="4.00" lengthAdjust="spacingAndGlyphs" fill="#F3A524" stroke="#F3A524" class="lo lf">K</text>
<text transform="translate(495.50,49.00) scale(1,0.645)" textLength="4.00" lengthAdjust="spacingAndGlyphs" fill="#1F9B4A" stroke="#1F9B4A" class="lo">N</text>
<text x="392.3" y="70.20" text-anchor="end" class="mo">Motif 2</text>
<rect x="397.5" y="64.50" width="6.4" height="6.4" fill="#00FFFF"/>
<line x1="413.5" y1="55.90" x2="413.5" y2="80.70" stroke="#444" stroke-width="0.45"/>
<line x1="412.3" y1="80.70" x2="413.5" y2="80.70" stroke="#444" stroke-width="0.35"/>
<line x1="412.3" y1="74.50" x2="413.5" y2="74.50" stroke="#444" stroke-width="0.35"/>
<line x1="412.3" y1="68.30" x2="413.5" y2="68.30" stroke="#444" stroke-width="0.35"/>
<line x1="412.3" y1="62.10" x2="413.5" y2="62.10" stroke="#444" stroke-width="0.35"/>
<line x1="412.3" y1="55.90" x2="413.5" y2="55.90" stroke="#444" stroke-width="0.35"/>
<text transform="translate(411.2,69.20) rotate(-90)" class="bits">bits</text>
<line x1="414.5" y1="81.70" x2="544.00" y2="81.70" stroke="#bbbbbb" stroke-width="1.0" stroke-dasharray="0.5 3.1"/>
<line x1="533.00" y1="85.00" x2="544.00" y2="85.00" stroke="#c8c8c8" stroke-width="0.5"/>
<text transform="translate(414.00,79.50) scale(1,0.192)" textLength="3.50" lengthAdjust="spacingAndGlyphs" fill="#C240C0" stroke="#C240C0" class="lo lf">N</text>
<text transform="translate(414.00,78.10) scale(1,0.182)" textLength="3.50" lengthAdjust="spacingAndGlyphs" fill="#1F9B4A" stroke="#1F9B4A" class="lo lf">N</text>
<text transform="translate(417.50,79.50) scale(1,0.218)" textLength="3.50" lengthAdjust="spacingAndGlyphs" fill="#3A5BC9" stroke="#3A5BC9" class="lo lf">L</text>
<text transform="translate(417.50,77.91) scale(1,0.145)" textLength="3.50" lengthAdjust="spacingAndGlyphs" fill="#C240C0" stroke="#C240C0" class="lo lf">N</text>
<text transform="translate(421.00,79.50) scale(1,0.180)" textLength="3.50" lengthAdjust="spacingAndGlyphs" fill="#3A5BC9" stroke="#3A5BC9" class="lo lf">L</text>
<text transform="translate(421.00,78.19) scale(1,0.185)" textLength="3.50" lengthAdjust="spacingAndGlyphs" fill="#D6C91F" stroke="#D6C91F" class="lo lf">N</text>
<text transform="translate(424.50,79.50) scale(1,0.162)" textLength="3.50" lengthAdjust="spacingAndGlyphs" fill="#D7302F" stroke="#D7302F" class="lo lf">T</text>
<text transform="translate(424.50,78.32) scale(1,0.186)" textLength="3.50" lengthAdjust="spacingAndGlyphs" fill="#1F9B4A" stroke="#1F9B4A" class="lo lf">R</text>
<text transform="translate(428.00,79.50) scale(1,0.169)" textLength="1.70" lengthAdjust="spacingAndGlyphs" fill="#C240C0" stroke="#C240C0" class="lo lf">R</text>
<text transform="translate(428.00,78.27) scale(1,0.201)" textLength="1.70" lengthAdjust="spacingAndGlyphs" fill="#D7302F" stroke="#D7302F" class="lo lf">N</text>
<text transform="translate(429.70,79.50) scale(1,0.274)" textLength="3.80" lengthAdjust="spacingAndGlyphs" fill="#D7302F" stroke="#D7302F" class="lo lf">D</text>
<text transform="translate(429.70,77.50) scale(1,0.864)" textLength="3.80" lengthAdjust="spacingAndGlyphs" fill="#3A5BC9" stroke="#3A5BC9" class="lo">S</text>
<text transform="translate(433.50,79.50) scale(1,0.700)" textLength="3.20" lengthAdjust="spacingAndGlyphs" fill="#3A5BC9" stroke="#3A5BC9" class="lo">N</text>
<text transform="translate(436.70,79.50) scale(1,0.304)" textLength="3.50" lengthAdjust="spacingAndGlyphs" fill="#C240C0" stroke="#C240C0" class="lo lf">S</text>
<text transform="translate(436.70,77.28) scale(1,0.252)" textLength="3.50" lengthAdjust="spacingAndGlyphs" fill="#27A8A8" stroke="#27A8A8" class="lo lf">K</text>
<text transform="translate(440.20,79.50) scale(1,0.321)" textLength="1.80" lengthAdjust="spacingAndGlyphs" fill="#D6C91F" stroke="#D6C91F" class="lo lf">T</text>
<text transform="translate(440.20,77.16) scale(1,0.183)" textLength="1.80" lengthAdjust="spacingAndGlyphs" fill="#C240C0" stroke="#C240C0" class="lo lf">V</text>
<text transform="translate(442.50,79.50) scale(1,0.274)" textLength="3.10" lengthAdjust="spacingAndGlyphs" fill="#27A8A8" stroke="#27A8A8" class="lo lf">N</text>
<text transform="translate(442.50,77.50) scale(1,0.782)" textLength="3.10" lengthAdjust="spacingAndGlyphs" fill="#3A5BC9" stroke="#3A5BC9" class="lo">Y</text>
<text transform="translate(446.30,79.50) scale(1,0.549)" textLength="3.20" lengthAdjust="spacingAndGlyphs" fill="#27A8A8" stroke="#27A8A8" class="lo lf">D</text>
<text transform="translate(446.30,75.50) scale(1,1.372)" textLength="3.20" lengthAdjust="spacingAndGlyphs" fill="#3A5BC9" stroke="#3A5BC9" class="lo">L</text>
<text transform="translate(449.50,79.50) scale(1,0.266)" textLength="3.50" lengthAdjust="spacingAndGlyphs" fill="#D7302F" stroke="#D7302F" class="lo lf">L</text>
<text transform="translate(449.50,77.56) scale(1,0.220)" textLength="3.50" lengthAdjust="spacingAndGlyphs" fill="#F3A524" stroke="#F3A524" class="lo lf">S</text>
<text transform="translate(453.00,79.50) scale(1,0.281)" textLength="1.00" lengthAdjust="spacingAndGlyphs" fill="#C240C0" stroke="#C240C0" class="lo lf">V</text>
<text transform="translate(453.00,77.45) scale(1,0.210)" textLength="1.00" lengthAdjust="spacingAndGlyphs" fill="#F3A524" stroke="#F3A524" class="lo lf">Q</text>
<text transform="translate(454.50,79.50) scale(1,0.137)" textLength="3.20" lengthAdjust="spacingAndGlyphs" fill="#D7302F" stroke="#D7302F" class="lo lf">V</text>
<text transform="translate(454.50,78.50) scale(1,1.715)" textLength="3.20" lengthAdjust="spacingAndGlyphs" fill="#3A5BC9" stroke="#3A5BC9" class="lo">L</text>
<text transform="translate(458.40,79.50) scale(1,3.155)" textLength="4.40" lengthAdjust="spacingAndGlyphs" fill="#1F9B4A" stroke="#1F9B4A" class="lo">S</text>
<text transform="translate(462.80,79.50) scale(1,2.812)" textLength="3.80" lengthAdjust="spacingAndGlyphs" fill="#27A8A8" stroke="#27A8A8" class="lo">Y</text>
<text transform="translate(467.30,79.50) scale(1,0.274)" textLength="3.70" lengthAdjust="spacingAndGlyphs" fill="#D6C91F" stroke="#D6C91F" class="lo lf">E</text>
<text transform="translate(467.30,77.50) scale(1,0.617)" textLength="3.70" lengthAdjust="spacingAndGlyphs" fill="#1F9B4A" stroke="#1F9B4A" class="lo">N</text>
<text transform="translate(471.00,79.50) scale(1,0.230)" textLength="3.50" lengthAdjust="spacingAndGlyphs" fill="#D7302F" stroke="#D7302F" class="lo lf">D</text>
<text transform="translate(471.00,77.82) scale(1,0.378)" textLength="3.50" lengthAdjust="spacingAndGlyphs" fill="#1F9B4A" stroke="#1F9B4A" class="lo lf">D</text>
<text transform="translate(475.00,79.50) scale(1,3.224)" textLength="3.70" lengthAdjust="spacingAndGlyphs" fill="#3A5BC9" stroke="#3A5BC9" class="lo">L</text>
<text transform="translate(478.60,79.50) scale(1,2.620)" textLength="4.40" lengthAdjust="spacingAndGlyphs" fill="#D6C91F" stroke="#D6C91F" class="lo">P</text>
<text transform="translate(483.00,79.50) scale(1,0.323)" textLength="3.50" lengthAdjust="spacingAndGlyphs" fill="#D7302F" stroke="#D7302F" class="lo lf">T</text>
<text transform="translate(483.00,77.15) scale(1,0.297)" textLength="3.50" lengthAdjust="spacingAndGlyphs" fill="#1F9B4A" stroke="#1F9B4A" class="lo lf">E</text>
<text transform="translate(486.50,79.50) scale(1,0.304)" textLength="3.50" lengthAdjust="spacingAndGlyphs" fill="#D6C91F" stroke="#D6C91F" class="lo lf">G</text>
<text transform="translate(486.50,77.29) scale(1,0.436)" textLength="3.50" lengthAdjust="spacingAndGlyphs" fill="#C240C0" stroke="#C240C0" class="lo lf">T</text>
<text transform="translate(490.00,79.50) scale(1,0.390)" textLength="1.40" lengthAdjust="spacingAndGlyphs" fill="#C240C0" stroke="#C240C0" class="lo lf">G</text>
<text transform="translate(490.00,76.66) scale(1,0.259)" textLength="1.40" lengthAdjust="spacingAndGlyphs" fill="#D6C91F" stroke="#D6C91F" class="lo lf">K</text>
<text transform="translate(491.40,79.50) scale(1,2.099)" textLength="3.80" lengthAdjust="spacingAndGlyphs" fill="#3A5BC9" stroke="#3A5BC9" class="lo">L</text>
<text transform="translate(495.20,79.50) scale(1,2.016)" textLength="3.80" lengthAdjust="spacingAndGlyphs" fill="#D7302F" stroke="#D7302F" class="lo">K</text>
<text transform="translate(499.00,79.50) scale(1,0.892)" textLength="4.50" lengthAdjust="spacingAndGlyphs" fill="#1F9B4A" stroke="#1F9B4A" class="lo">N</text>
<text transform="translate(503.50,79.50) scale(1,2.977)" textLength="5.00" lengthAdjust="spacingAndGlyphs" fill="#3A5BC9" stroke="#3A5BC9" class="lo">C</text>
<text transform="translate(508.50,79.50) scale(1,1.920)" textLength="3.90" lengthAdjust="spacingAndGlyphs" fill="#3A5BC9" stroke="#3A5BC9" class="lo">F</text>
<text transform="translate(512.40,79.50) scale(1,1.852)" textLength="3.80" lengthAdjust="spacingAndGlyphs" fill="#3A5BC9" stroke="#3A5BC9" class="lo">L</text>
<text transform="translate(516.20,79.50) scale(1,1.578)" textLength="3.20" lengthAdjust="spacingAndGlyphs" fill="#27A8A8" stroke="#27A8A8" class="lo">Y</text>
<text transform="translate(519.40,79.50) scale(1,1.056)" textLength="3.60" lengthAdjust="spacingAndGlyphs" fill="#C240C0" stroke="#C240C0" class="lo">E</text>
<text transform="translate(523.00,79.50) scale(1,1.578)" textLength="4.00" lengthAdjust="spacingAndGlyphs" fill="#F3A524" stroke="#F3A524" class="lo">G</text>
<text transform="translate(527.00,79.50) scale(1,0.388)" textLength="3.50" lengthAdjust="spacingAndGlyphs" fill="#D6C91F" stroke="#D6C91F" class="lo lf">E</text>
<text transform="translate(527.00,76.67) scale(1,0.637)" textLength="3.50" lengthAdjust="spacingAndGlyphs" fill="#D6C91F" stroke="#D6C91F" class="lo lf">V</text>
<text transform="translate(530.50,79.50) scale(1,0.369)" textLength="1.50" lengthAdjust="spacingAndGlyphs" fill="#C240C0" stroke="#C240C0" class="lo lf">K</text>
<text transform="translate(530.50,76.81) scale(1,0.443)" textLength="1.50" lengthAdjust="spacingAndGlyphs" fill="#3A5BC9" stroke="#3A5BC9" class="lo lf">R</text>
<text transform="translate(532.00,79.50) scale(1,2.455)" textLength="4.00" lengthAdjust="spacingAndGlyphs" fill="#3A5BC9" stroke="#3A5BC9" class="lo">F</text>
<text transform="translate(536.00,79.50) scale(1,1.920)" textLength="3.70" lengthAdjust="spacingAndGlyphs" fill="#D6C91F" stroke="#D6C91F" class="lo">P</text>
<text transform="translate(539.70,79.50) scale(1,0.412)" textLength="4.30" lengthAdjust="spacingAndGlyphs" fill="#D7302F" stroke="#D7302F" class="lo lf">A</text>
<text transform="translate(539.70,76.50) scale(1,1.166)" textLength="4.30" lengthAdjust="spacingAndGlyphs" fill="#C240C0" stroke="#C240C0" class="lo">E</text>
<text x="392.3" y="100.10" text-anchor="end" class="mo">Motif 3</text>
<rect x="397.5" y="94.40" width="6.4" height="6.4" fill="#80FF20"/>
<line x1="413.5" y1="89.10" x2="413.5" y2="110.70" stroke="#444" stroke-width="0.45"/>
<line x1="412.3" y1="110.70" x2="413.5" y2="110.70" stroke="#444" stroke-width="0.35"/>
<line x1="412.3" y1="105.30" x2="413.5" y2="105.30" stroke="#444" stroke-width="0.35"/>
<line x1="412.3" y1="99.90" x2="413.5" y2="99.90" stroke="#444" stroke-width="0.35"/>
<line x1="412.3" y1="94.50" x2="413.5" y2="94.50" stroke="#444" stroke-width="0.35"/>
<line x1="412.3" y1="89.10" x2="413.5" y2="89.10" stroke="#444" stroke-width="0.35"/>
<text transform="translate(411.2,100.80) rotate(-90)" class="bits">bits</text>
<line x1="414.5" y1="111.70" x2="512.00" y2="111.70" stroke="#bbbbbb" stroke-width="1.0" stroke-dasharray="0.5 3.1"/>
<line x1="501.00" y1="115.00" x2="512.00" y2="115.00" stroke="#c8c8c8" stroke-width="0.5"/>
<text transform="translate(414.50,109.50) scale(1,0.700)" textLength="3.10" lengthAdjust="spacingAndGlyphs" fill="#C240C0" stroke="#C240C0" class="lo">D</text>
<text transform="translate(417.90,109.50) scale(1,0.412)" textLength="3.60" lengthAdjust="spacingAndGlyphs" fill="#1F9B4A" stroke="#1F9B4A" class="lo lf">L</text>
<text transform="translate(417.90,106.50) scale(1,0.905)" textLength="3.60" lengthAdjust="spacingAndGlyphs" fill="#C240C0" stroke="#C240C0" class="lo">E</text>
<text transform="translate(422.00,109.50) scale(1,0.274)" textLength="4.00" lengthAdjust="spacingAndGlyphs" fill="#F3A524" stroke="#F3A524" class="lo lf">E</text>
<text transform="translate(422.00,107.50) scale(1,1.221)" textLength="4.00" lengthAdjust="spacingAndGlyphs" fill="#1F9B4A" stroke="#1F9B4A" class="lo">S</text>
<text transform="translate(426.00,109.50) scale(1,0.274)" textLength="3.70" lengthAdjust="spacingAndGlyphs" fill="#1F9B4A" stroke="#1F9B4A" class="lo lf">A</text>
<text transform="translate(426.00,107.50) scale(1,0.960)" textLength="3.70" lengthAdjust="spacingAndGlyphs" fill="#3A5BC9" stroke="#3A5BC9" class="lo">W</text>
<text transform="translate(429.70,109.50) scale(1,0.224)" textLength="3.50" lengthAdjust="spacingAndGlyphs" fill="#27A8A8" stroke="#27A8A8" class="lo lf">D</text>
<text transform="translate(429.70,107.87) scale(1,0.251)" textLength="3.50" lengthAdjust="spacingAndGlyphs" fill="#C240C0" stroke="#C240C0" class="lo lf">Q</text>
<text transform="translate(433.20,109.50) scale(1,0.173)" textLength="0.80" lengthAdjust="spacingAndGlyphs" fill="#D7302F" stroke="#D7302F" class="lo lf">V</text>
<text transform="translate(433.20,108.24) scale(1,0.241)" textLength="0.80" lengthAdjust="spacingAndGlyphs" fill="#C240C0" stroke="#C240C0" class="lo lf">V</text>
<text transform="translate(434.20,109.50) scale(1,2.455)" textLength="4.40" lengthAdjust="spacingAndGlyphs" fill="#3A5BC9" stroke="#3A5BC9" class="lo">L</text>
<text transform="translate(438.60,109.50) scale(1,0.274)" textLength="3.90" lengthAdjust="spacingAndGlyphs" fill="#D6C91F" stroke="#D6C91F" class="lo lf">G</text>
<text transform="translate(438.60,107.50) scale(1,1.221)" textLength="3.90" lengthAdjust="spacingAndGlyphs" fill="#3A5BC9" stroke="#3A5BC9" class="lo">F</text>
<text transform="translate(442.50,109.50) scale(1,0.258)" textLength="3.50" lengthAdjust="spacingAndGlyphs" fill="#D7302F" stroke="#D7302F" class="lo lf">S</text>
<text transform="translate(442.50,107.62) scale(1,0.248)" textLength="3.50" lengthAdjust="spacingAndGlyphs" fill="#3A5BC9" stroke="#3A5BC9" class="lo lf">A</text>
<text transform="translate(446.00,109.50) scale(1,0.294)" textLength="1.00" lengthAdjust="spacingAndGlyphs" fill="#D7302F" stroke="#D7302F" class="lo lf">R</text>
<text transform="translate(446.00,107.35) scale(1,0.169)" textLength="1.00" lengthAdjust="spacingAndGlyphs" fill="#D7302F" stroke="#D7302F" class="lo lf">D</text>
<text transform="translate(447.00,109.50) scale(1,0.327)" textLength="3.50" lengthAdjust="spacingAndGlyphs" fill="#1F9B4A" stroke="#1F9B4A" class="lo lf">L</text>
<text transform="translate(447.00,107.12) scale(1,0.237)" textLength="3.50" lengthAdjust="spacingAndGlyphs" fill="#D7302F" stroke="#D7302F" class="lo lf">D</text>
<text transform="translate(450.50,109.50) scale(1,0.331)" textLength="3.50" lengthAdjust="spacingAndGlyphs" fill="#D6C91F" stroke="#D6C91F" class="lo lf">R</text>
<text transform="translate(450.50,107.09) scale(1,0.189)" textLength="3.50" lengthAdjust="spacingAndGlyphs" fill="#27A8A8" stroke="#27A8A8" class="lo lf">E</text>
<text transform="translate(455.20,109.50) scale(1,0.412)" textLength="3.20" lengthAdjust="spacingAndGlyphs" fill="#27A8A8" stroke="#27A8A8" class="lo lf">L</text>
<text transform="translate(455.20,106.50) scale(1,0.823)" textLength="3.20" lengthAdjust="spacingAndGlyphs" fill="#3A5BC9" stroke="#3A5BC9" class="lo">A</text>
<text transform="translate(459.00,109.50) scale(1,1.852)" textLength="3.80" lengthAdjust="spacingAndGlyphs" fill="#3A5BC9" stroke="#3A5BC9" class="lo">F</text>
<text transform="translate(462.80,109.50) scale(1,0.187)" textLength="3.50" lengthAdjust="spacingAndGlyphs" fill="#D7302F" stroke="#D7302F" class="lo lf">S</text>
<text transform="translate(462.80,108.13) scale(1,0.224)" textLength="3.50" lengthAdjust="spacingAndGlyphs" fill="#D7302F" stroke="#D7302F" class="lo lf">T</text>
<text transform="translate(466.30,109.50) scale(1,0.187)" textLength="3.50" lengthAdjust="spacingAndGlyphs" fill="#1F9B4A" stroke="#1F9B4A" class="lo lf">S</text>
<text transform="translate(466.30,108.14) scale(1,0.144)" textLength="3.50" lengthAdjust="spacingAndGlyphs" fill="#F3A524" stroke="#F3A524" class="lo lf">D</text>
<text transform="translate(469.80,109.50) scale(1,0.187)" textLength="3.50" lengthAdjust="spacingAndGlyphs" fill="#1F9B4A" stroke="#1F9B4A" class="lo lf">Q</text>
<text transform="translate(469.80,108.14) scale(1,0.181)" textLength="3.50" lengthAdjust="spacingAndGlyphs" fill="#C240C0" stroke="#C240C0" class="lo lf">R</text>
<text transform="translate(473.30,109.50) scale(1,0.197)" textLength="3.50" lengthAdjust="spacingAndGlyphs" fill="#C240C0" stroke="#C240C0" class="lo lf">Q</text>
<text transform="translate(473.30,108.07) scale(1,0.208)" textLength="3.50" lengthAdjust="spacingAndGlyphs" fill="#F3A524" stroke="#F3A524" class="lo lf">N</text>
<text transform="translate(476.80,109.50) scale(1,0.146)" textLength="3.50" lengthAdjust="spacingAndGlyphs" fill="#F3A524" stroke="#F3A524" class="lo lf">S</text>
<text transform="translate(476.80,108.44) scale(1,0.215)" textLength="3.50" lengthAdjust="spacingAndGlyphs" fill="#27A8A8" stroke="#27A8A8" class="lo lf">K</text>
<text transform="translate(480.30,109.50) scale(1,0.163)" textLength="3.50" lengthAdjust="spacingAndGlyphs" fill="#C240C0" stroke="#C240C0" class="lo lf">N</text>
<text transform="translate(480.30,108.31) scale(1,0.227)" textLength="3.50" lengthAdjust="spacingAndGlyphs" fill="#3A5BC9" stroke="#3A5BC9" class="lo lf">D</text>
<text transform="translate(483.80,109.50) scale(1,0.176)" textLength="3.50" lengthAdjust="spacingAndGlyphs" fill="#3A5BC9" stroke="#3A5BC9" class="lo lf">R</text>
<text transform="translate(483.80,108.22) scale(1,0.219)" textLength="3.50" lengthAdjust="spacingAndGlyphs" fill="#3A5BC9" stroke="#3A5BC9" class="lo lf">Q</text>
<text transform="translate(487.30,109.50) scale(1,0.210)" textLength="3.50" lengthAdjust="spacingAndGlyphs" fill="#27A8A8" stroke="#27A8A8" class="lo lf">T</text>
<text transform="translate(487.30,107.97) scale(1,0.180)" textLength="3.50" lengthAdjust="spacingAndGlyphs" fill="#F3A524" stroke="#F3A524" class="lo lf">A</text>
<text transform="translate(490.80,109.50) scale(1,0.187)" textLength="3.50" lengthAdjust="spacingAndGlyphs" fill="#27A8A8" stroke="#27A8A8" class="lo lf">R</text>
<text transform="translate(490.80,108.13) scale(1,0.175)" textLength="3.50" lengthAdjust="spacingAndGlyphs" fill="#27A8A8" stroke="#27A8A8" class="lo lf">Q</text>
<text transform="translate(494.30,109.50) scale(1,0.148)" textLength="3.50" lengthAdjust="spacingAndGlyphs" fill="#C240C0" stroke="#C240C0" class="lo lf">D</text>
<text transform="translate(494.30,108.42) scale(1,0.182)" textLength="3.50" lengthAdjust="spacingAndGlyphs" fill="#D7302F" stroke="#D7302F" class="lo lf">R</text>
<text transform="translate(497.80,109.50) scale(1,0.210)" textLength="3.50" lengthAdjust="spacingAndGlyphs" fill="#D7302F" stroke="#D7302F" class="lo lf">R</text>
<text transform="translate(497.80,107.97) scale(1,0.171)" textLength="3.50" lengthAdjust="spacingAndGlyphs" fill="#D7302F" stroke="#D7302F" class="lo lf">L</text>
<text transform="translate(501.30,109.50) scale(1,0.187)" textLength="3.50" lengthAdjust="spacingAndGlyphs" fill="#27A8A8" stroke="#27A8A8" class="lo lf">V</text>
<text transform="translate(501.30,108.14) scale(1,0.207)" textLength="3.50" lengthAdjust="spacingAndGlyphs" fill="#C240C0" stroke="#C240C0" class="lo lf">S</text>
<text transform="translate(504.80,109.50) scale(1,0.151)" textLength="3.50" lengthAdjust="spacingAndGlyphs" fill="#3A5BC9" stroke="#3A5BC9" class="lo lf">Q</text>
<text transform="translate(504.80,108.40) scale(1,0.206)" textLength="3.50" lengthAdjust="spacingAndGlyphs" fill="#D6C91F" stroke="#D6C91F" class="lo lf">K</text>
<text transform="translate(508.30,109.50) scale(1,0.161)" textLength="3.50" lengthAdjust="spacingAndGlyphs" fill="#C240C0" stroke="#C240C0" class="lo lf">D</text>
<text transform="translate(508.30,108.32) scale(1,0.230)" textLength="3.50" lengthAdjust="spacingAndGlyphs" fill="#D6C91F" stroke="#D6C91F" class="lo lf">Q</text>
<text x="392.3" y="129.60" text-anchor="end" class="mo">Motif 4</text>
<rect x="397.5" y="123.90" width="6.4" height="6.4" fill="#8000F0"/>
<line x1="413.5" y1="118.10" x2="413.5" y2="139.70" stroke="#444" stroke-width="0.45"/>
<line x1="412.3" y1="139.70" x2="413.5" y2="139.70" stroke="#444" stroke-width="0.35"/>
<line x1="412.3" y1="134.30" x2="413.5" y2="134.30" stroke="#444" stroke-width="0.35"/>
<line x1="412.3" y1="128.90" x2="413.5" y2="128.90" stroke="#444" stroke-width="0.35"/>
<line x1="412.3" y1="123.50" x2="413.5" y2="123.50" stroke="#444" stroke-width="0.35"/>
<line x1="412.3" y1="118.10" x2="413.5" y2="118.10" stroke="#444" stroke-width="0.35"/>
<text transform="translate(411.2,129.80) rotate(-90)" class="bits">bits</text>
<line x1="414.5" y1="140.70" x2="499.30" y2="140.70" stroke="#bbbbbb" stroke-width="1.0" stroke-dasharray="0.5 3.1"/>
<line x1="488.30" y1="144.00" x2="499.30" y2="144.00" stroke="#c8c8c8" stroke-width="0.5"/>
<text transform="translate(414.50,138.50) scale(1,0.700)" textLength="3.10" lengthAdjust="spacingAndGlyphs" fill="#D7302F" stroke="#D7302F" class="lo">K</text>
<text transform="translate(417.60,138.50) scale(1,0.220)" textLength="3.50" lengthAdjust="spacingAndGlyphs" fill="#C240C0" stroke="#C240C0" class="lo lf">Q</text>
<text transform="translate(417.60,136.90) scale(1,0.232)" textLength="3.50" lengthAdjust="spacingAndGlyphs" fill="#1F9B4A" stroke="#1F9B4A" class="lo lf">K</text>
<text transform="translate(421.10,138.50) scale(1,0.261)" textLength="0.90" lengthAdjust="spacingAndGlyphs" fill="#D7302F" stroke="#D7302F" class="lo lf">L</text>
<text transform="translate(421.10,136.59) scale(1,0.202)" textLength="0.90" lengthAdjust="spacingAndGlyphs" fill="#D7302F" stroke="#D7302F" class="lo lf">K</text>
<text transform="translate(422.70,138.50) scale(1,1.852)" textLength="2.60" lengthAdjust="spacingAndGlyphs" fill="#3A5BC9" stroke="#3A5BC9" class="lo">I</text>
<text transform="translate(425.30,138.50) scale(1,0.274)" textLength="3.70" lengthAdjust="spacingAndGlyphs" fill="#27A8A8" stroke="#27A8A8" class="lo lf">V</text>
<text transform="translate(425.30,136.50) scale(1,1.125)" textLength="3.70" lengthAdjust="spacingAndGlyphs" fill="#3A5BC9" stroke="#3A5BC9" class="lo">V</text>
<text transform="translate(429.00,138.50) scale(1,0.285)" textLength="3.50" lengthAdjust="spacingAndGlyphs" fill="#1F9B4A" stroke="#1F9B4A" class="lo lf">N</text>
<text transform="translate(429.00,136.42) scale(1,0.161)" textLength="3.50" lengthAdjust="spacingAndGlyphs" fill="#C240C0" stroke="#C240C0" class="lo lf">Q</text>
<text transform="translate(432.50,138.50) scale(1,0.244)" textLength="3.50" lengthAdjust="spacingAndGlyphs" fill="#D6C91F" stroke="#D6C91F" class="lo lf">K</text>
<text transform="translate(432.50,136.72) scale(1,0.303)" textLength="3.50" lengthAdjust="spacingAndGlyphs" fill="#3A5BC9" stroke="#3A5BC9" class="lo lf">R</text>
<text transform="translate(436.00,138.50) scale(1,0.299)" textLength="1.40" lengthAdjust="spacingAndGlyphs" fill="#F3A524" stroke="#F3A524" class="lo lf">R</text>
<text transform="translate(436.00,136.32) scale(1,0.200)" textLength="1.40" lengthAdjust="spacingAndGlyphs" fill="#27A8A8" stroke="#27A8A8" class="lo lf">L</text>
<text transform="translate(437.40,138.50) scale(1,2.016)" textLength="4.40" lengthAdjust="spacingAndGlyphs" fill="#3A5BC9" stroke="#3A5BC9" class="lo">C</text>
<text transform="translate(441.80,138.50) scale(1,0.444)" textLength="3.50" lengthAdjust="spacingAndGlyphs" fill="#1F9B4A" stroke="#1F9B4A" class="lo lf">G</text>
<text transform="translate(441.80,135.26) scale(1,0.279)" textLength="3.50" lengthAdjust="spacingAndGlyphs" fill="#27A8A8" stroke="#27A8A8" class="lo lf">Q</text>
<text transform="translate(445.30,138.50) scale(1,0.330)" textLength="1.00" lengthAdjust="spacingAndGlyphs" fill="#C240C0" stroke="#C240C0" class="lo lf">V</text>
<text transform="translate(445.30,136.09) scale(1,0.431)" textLength="1.00" lengthAdjust="spacingAndGlyphs" fill="#1F9B4A" stroke="#1F9B4A" class="lo lf">N</text>
<text transform="translate(446.30,138.50) scale(1,2.538)" textLength="4.40" lengthAdjust="spacingAndGlyphs" fill="#F3A524" stroke="#F3A524" class="lo">G</text>
<text transform="translate(450.70,138.50) scale(1,1.920)" textLength="3.80" lengthAdjust="spacingAndGlyphs" fill="#3A5BC9" stroke="#3A5BC9" class="lo">L</text>
<text transform="translate(454.50,138.50) scale(1,2.620)" textLength="3.90" lengthAdjust="spacingAndGlyphs" fill="#D6C91F" stroke="#D6C91F" class="lo">P</text>
<text transform="translate(458.40,138.50) scale(1,2.538)" textLength="3.80" lengthAdjust="spacingAndGlyphs" fill="#3A5BC9" stroke="#3A5BC9" class="lo">L</text>
<text transform="translate(462.20,138.50) scale(1,0.274)" textLength="3.80" lengthAdjust="spacingAndGlyphs" fill="#1F9B4A" stroke="#1F9B4A" class="lo lf">N</text>
<text transform="translate(462.20,136.50) scale(1,1.125)" textLength="3.80" lengthAdjust="spacingAndGlyphs" fill="#3A5BC9" stroke="#3A5BC9" class="lo">A</text>
<text transform="translate(466.00,138.50) scale(1,0.412)" textLength="4.00" lengthAdjust="spacingAndGlyphs" fill="#C240C0" stroke="#C240C0" class="lo lf">N</text>
<text transform="translate(466.00,135.50) scale(1,0.823)" textLength="4.00" lengthAdjust="spacingAndGlyphs" fill="#3A5BC9" stroke="#3A5BC9" class="lo">A</text>
<text transform="translate(470.00,138.50) scale(1,0.700)" textLength="4.50" lengthAdjust="spacingAndGlyphs" fill="#D7302F" stroke="#D7302F" class="lo">S</text>
<text transform="translate(474.50,138.50) scale(1,1.303)" textLength="4.50" lengthAdjust="spacingAndGlyphs" fill="#3A5BC9" stroke="#3A5BC9" class="lo">V</text>
<text transform="translate(479.00,138.50) scale(1,1.399)" textLength="3.70" lengthAdjust="spacingAndGlyphs" fill="#3A5BC9" stroke="#3A5BC9" class="lo">L</text>
<text transform="translate(482.70,138.50) scale(1,0.686)" textLength="4.50" lengthAdjust="spacingAndGlyphs" fill="#D7302F" stroke="#D7302F" class="lo lf">A</text>
<text transform="translate(482.70,133.50) scale(1,1.070)" textLength="4.50" lengthAdjust="spacingAndGlyphs" fill="#3A5BC9" stroke="#3A5BC9" class="lo">A</text>
<text transform="translate(487.20,138.50) scale(1,0.298)" textLength="3.50" lengthAdjust="spacingAndGlyphs" fill="#D7302F" stroke="#D7302F" class="lo lf">L</text>
<text transform="translate(487.20,136.33) scale(1,0.416)" textLength="3.50" lengthAdjust="spacingAndGlyphs" fill="#1F9B4A" stroke="#1F9B4A" class="lo lf">K</text>
<text transform="translate(490.70,138.50) scale(1,0.394)" textLength="3.50" lengthAdjust="spacingAndGlyphs" fill="#C240C0" stroke="#C240C0" class="lo lf">L</text>
<text transform="translate(490.70,135.63) scale(1,0.297)" textLength="3.50" lengthAdjust="spacingAndGlyphs" fill="#C240C0" stroke="#C240C0" class="lo lf">D</text>
<text transform="translate(494.20,138.50) scale(1,0.335)" textLength="0.80" lengthAdjust="spacingAndGlyphs" fill="#C240C0" stroke="#C240C0" class="lo lf">T</text>
<text transform="translate(494.20,136.06) scale(1,0.400)" textLength="0.80" lengthAdjust="spacingAndGlyphs" fill="#3A5BC9" stroke="#3A5BC9" class="lo lf">A</text>
<text transform="translate(495.50,138.50) scale(1,2.016)" textLength="3.80" lengthAdjust="spacingAndGlyphs" fill="#3A5BC9" stroke="#3A5BC9" class="lo">L</text>
<text x="392.3" y="159.10" text-anchor="end" class="mo">Motif 5</text>
<rect x="397.5" y="153.40" width="6.4" height="6.4" fill="#FFB000"/>
<line x1="413.5" y1="147.70" x2="413.5" y2="168.70" stroke="#444" stroke-width="0.45"/>
<line x1="412.3" y1="168.70" x2="413.5" y2="168.70" stroke="#444" stroke-width="0.35"/>
<line x1="412.3" y1="163.45" x2="413.5" y2="163.45" stroke="#444" stroke-width="0.35"/>
<line x1="412.3" y1="158.20" x2="413.5" y2="158.20" stroke="#444" stroke-width="0.35"/>
<line x1="412.3" y1="152.95" x2="413.5" y2="152.95" stroke="#444" stroke-width="0.35"/>
<line x1="412.3" y1="147.70" x2="413.5" y2="147.70" stroke="#444" stroke-width="0.35"/>
<text transform="translate(411.2,159.10) rotate(-90)" class="bits">bits</text>
<line x1="414.5" y1="169.70" x2="475.00" y2="169.70" stroke="#bbbbbb" stroke-width="1.0" stroke-dasharray="0.5 3.1"/>
<line x1="464.00" y1="173.00" x2="475.00" y2="173.00" stroke="#c8c8c8" stroke-width="0.5"/>
<text transform="translate(413.80,167.50) scale(1,0.137)" textLength="3.80" lengthAdjust="spacingAndGlyphs" fill="#F3A524" stroke="#F3A524" class="lo lf">R</text>
<text transform="translate(413.80,166.50) scale(1,1.358)" textLength="3.80" lengthAdjust="spacingAndGlyphs" fill="#3A5BC9" stroke="#3A5BC9" class="lo">L</text>
<text transform="translate(417.60,167.50) scale(1,0.186)" textLength="3.50" lengthAdjust="spacingAndGlyphs" fill="#C240C0" stroke="#C240C0" class="lo lf">S</text>
<text transform="translate(417.60,166.15) scale(1,0.123)" textLength="3.50" lengthAdjust="spacingAndGlyphs" fill="#C240C0" stroke="#C240C0" class="lo lf">A</text>
<text transform="translate(421.10,167.50) scale(1,0.158)" textLength="3.50" lengthAdjust="spacingAndGlyphs" fill="#C240C0" stroke="#C240C0" class="lo lf">L</text>
<text transform="translate(421.10,166.35) scale(1,0.156)" textLength="3.50" lengthAdjust="spacingAndGlyphs" fill="#F3A524" stroke="#F3A524" class="lo lf">R</text>
<text transform="translate(424.60,167.50) scale(1,0.158)" textLength="0.90" lengthAdjust="spacingAndGlyphs" fill="#D7302F" stroke="#D7302F" class="lo lf">N</text>
<text transform="translate(424.60,166.35) scale(1,0.149)" textLength="0.90" lengthAdjust="spacingAndGlyphs" fill="#C240C0" stroke="#C240C0" class="lo lf">R</text>
<text transform="translate(426.00,167.50) scale(1,1.235)" textLength="3.00" lengthAdjust="spacingAndGlyphs" fill="#D7302F" stroke="#D7302F" class="lo">K</text>
<text transform="translate(429.00,167.50) scale(1,1.578)" textLength="5.00" lengthAdjust="spacingAndGlyphs" fill="#D7302F" stroke="#D7302F" class="lo">R</text>
<text transform="translate(434.20,167.50) scale(1,0.892)" textLength="3.20" lengthAdjust="spacingAndGlyphs" fill="#27A8A8" stroke="#27A8A8" class="lo">V</text>
<text transform="translate(437.40,167.50) scale(1,2.359)" textLength="3.80" lengthAdjust="spacingAndGlyphs" fill="#3A5BC9" stroke="#3A5BC9" class="lo">L</text>
<text transform="translate(441.20,167.50) scale(1,0.412)" textLength="3.20" lengthAdjust="spacingAndGlyphs" fill="#C240C0" stroke="#C240C0" class="lo lf">E</text>
<text transform="translate(441.20,164.50) scale(1,0.645)" textLength="3.20" lengthAdjust="spacingAndGlyphs" fill="#3A5BC9" stroke="#3A5BC9" class="lo">L</text>
<text transform="translate(444.40,167.50) scale(1,1.578)" textLength="3.80" lengthAdjust="spacingAndGlyphs" fill="#3A5BC9" stroke="#3A5BC9" class="lo">V</text>
<text transform="translate(448.20,167.50) scale(1,0.412)" textLength="3.80" lengthAdjust="spacingAndGlyphs" fill="#D7302F" stroke="#D7302F" class="lo lf">R</text>
<text transform="translate(448.20,164.50) scale(1,1.248)" textLength="3.80" lengthAdjust="spacingAndGlyphs" fill="#3A5BC9" stroke="#3A5BC9" class="lo">L</text>
<text transform="translate(452.00,167.50) scale(1,0.892)" textLength="2.50" lengthAdjust="spacingAndGlyphs" fill="#3A5BC9" stroke="#3A5BC9" class="lo">V</text>
<text transform="translate(454.50,167.50) scale(1,2.620)" textLength="4.50" lengthAdjust="spacingAndGlyphs" fill="#C240C0" stroke="#C240C0" class="lo">D</text>
<text transform="translate(459.00,167.50) scale(1,2.538)" textLength="4.50" lengthAdjust="spacingAndGlyphs" fill="#C240C0" stroke="#C240C0" class="lo">D</text>
<text transform="translate(463.50,167.50) scale(1,1.756)" textLength="3.80" lengthAdjust="spacingAndGlyphs" fill="#3A5BC9" stroke="#3A5BC9" class="lo">Y</text>
<text transform="translate(467.30,167.50) scale(1,1.852)" textLength="3.70" lengthAdjust="spacingAndGlyphs" fill="#3A5BC9" stroke="#3A5BC9" class="lo">W</text>
<text transform="translate(471.00,167.50) scale(1,0.549)" textLength="4.00" lengthAdjust="spacingAndGlyphs" fill="#1F9B4A" stroke="#1F9B4A" class="lo">N</text>
<text x="392.3" y="188.60" text-anchor="end" class="mo">Motif 6</text>
<rect x="397.5" y="182.90" width="6.4" height="6.4" fill="#00F060"/>
<line x1="413.5" y1="177.40" x2="413.5" y2="197.70" stroke="#444" stroke-width="0.45"/>
<line x1="412.3" y1="197.70" x2="413.5" y2="197.70" stroke="#444" stroke-width="0.35"/>
<line x1="412.3" y1="192.62" x2="413.5" y2="192.62" stroke="#444" stroke-width="0.35"/>
<line x1="412.3" y1="187.55" x2="413.5" y2="187.55" stroke="#444" stroke-width="0.35"/>
<line x1="412.3" y1="182.47" x2="413.5" y2="182.47" stroke="#444" stroke-width="0.35"/>
<line x1="412.3" y1="177.40" x2="413.5" y2="177.40" stroke="#444" stroke-width="0.35"/>
<text transform="translate(411.2,188.45) rotate(-90)" class="bits">bits</text>
<line x1="414.5" y1="198.70" x2="492.00" y2="198.70" stroke="#bbbbbb" stroke-width="1.0" stroke-dasharray="0.5 3.1"/>
<line x1="481.00" y1="202.00" x2="492.00" y2="202.00" stroke="#c8c8c8" stroke-width="0.5"/>
<text transform="translate(414.00,196.50) scale(1,0.412)" textLength="3.60" lengthAdjust="spacingAndGlyphs" fill="#D6C91F" stroke="#D6C91F" class="lo lf">K</text>
<text transform="translate(414.00,193.50) scale(1,1.166)" textLength="3.60" lengthAdjust="spacingAndGlyphs" fill="#3A5BC9" stroke="#3A5BC9" class="lo">L</text>
<text transform="translate(417.60,196.50) scale(1,1.578)" textLength="4.40" lengthAdjust="spacingAndGlyphs" fill="#F3A524" stroke="#F3A524" class="lo">G</text>
<text transform="translate(422.00,196.50) scale(1,1.495)" textLength="4.00" lengthAdjust="spacingAndGlyphs" fill="#1F9B4A" stroke="#1F9B4A" class="lo">S</text>
<text transform="translate(426.00,196.50) scale(1,0.274)" textLength="3.00" lengthAdjust="spacingAndGlyphs" fill="#D6C91F" stroke="#D6C91F" class="lo lf">S</text>
<text transform="translate(426.00,194.50) scale(1,1.221)" textLength="3.00" lengthAdjust="spacingAndGlyphs" fill="#D7302F" stroke="#D7302F" class="lo">R</text>
<text transform="translate(429.00,196.50) scale(1,1.578)" textLength="4.00" lengthAdjust="spacingAndGlyphs" fill="#3A5BC9" stroke="#3A5BC9" class="lo">I</text>
<text transform="translate(433.00,196.50) scale(1,0.549)" textLength="3.70" lengthAdjust="spacingAndGlyphs" fill="#27A8A8" stroke="#27A8A8" class="lo lf">T</text>
<text transform="translate(433.00,192.50) scale(1,1.029)" textLength="3.70" lengthAdjust="spacingAndGlyphs" fill="#3A5BC9" stroke="#3A5BC9" class="lo">I</text>
<text transform="translate(436.70,196.50) scale(1,0.960)" textLength="3.80" lengthAdjust="spacingAndGlyphs" fill="#3A5BC9" stroke="#3A5BC9" class="lo">V</text>
<text transform="translate(441.20,196.50) scale(1,2.263)" textLength="4.40" lengthAdjust="spacingAndGlyphs" fill="#1F9B4A" stroke="#1F9B4A" class="lo">T</text>
<text transform="translate(445.60,196.50) scale(1,2.016)" textLength="3.90" lengthAdjust="spacingAndGlyphs" fill="#1F9B4A" stroke="#1F9B4A" class="lo">T</text>
<text transform="translate(449.50,196.50) scale(1,2.016)" textLength="4.50" lengthAdjust="spacingAndGlyphs" fill="#D7302F" stroke="#D7302F" class="lo">R</text>
<text transform="translate(454.00,196.50) scale(1,0.184)" textLength="3.50" lengthAdjust="spacingAndGlyphs" fill="#D6C91F" stroke="#D6C91F" class="lo lf">R</text>
<text transform="translate(454.00,195.16) scale(1,0.100)" textLength="3.50" lengthAdjust="spacingAndGlyphs" fill="#F3A524" stroke="#F3A524" class="lo lf">V</text>
<text transform="translate(457.50,196.50) scale(1,0.135)" textLength="3.50" lengthAdjust="spacingAndGlyphs" fill="#27A8A8" stroke="#27A8A8" class="lo lf">K</text>
<text transform="translate(457.50,195.52) scale(1,0.137)" textLength="3.50" lengthAdjust="spacingAndGlyphs" fill="#D7302F" stroke="#D7302F" class="lo lf">K</text>
<text transform="translate(461.00,196.50) scale(1,0.174)" textLength="3.50" lengthAdjust="spacingAndGlyphs" fill="#D6C91F" stroke="#D6C91F" class="lo lf">S</text>
<text transform="translate(461.00,195.23) scale(1,0.162)" textLength="3.50" lengthAdjust="spacingAndGlyphs" fill="#3A5BC9" stroke="#3A5BC9" class="lo lf">K</text>
<text transform="translate(464.50,196.50) scale(1,0.178)" textLength="1.50" lengthAdjust="spacingAndGlyphs" fill="#C240C0" stroke="#C240C0" class="lo lf">G</text>
<text transform="translate(464.50,195.21) scale(1,0.126)" textLength="1.50" lengthAdjust="spacingAndGlyphs" fill="#3A5BC9" stroke="#3A5BC9" class="lo lf">G</text>
<text transform="translate(466.00,196.50) scale(1,1.495)" textLength="4.50" lengthAdjust="spacingAndGlyphs" fill="#3A5BC9" stroke="#3A5BC9" class="lo">Y</text>
<text transform="translate(471.00,196.50) scale(1,1.056)" textLength="4.00" lengthAdjust="spacingAndGlyphs" fill="#3A5BC9" stroke="#3A5BC9" class="lo">A</text>
<text transform="translate(475.00,196.50) scale(1,0.131)" textLength="3.50" lengthAdjust="spacingAndGlyphs" fill="#27A8A8" stroke="#27A8A8" class="lo lf">S</text>
<text transform="translate(475.00,195.54) scale(1,0.087)" textLength="3.50" lengthAdjust="spacingAndGlyphs" fill="#D7302F" stroke="#D7302F" class="lo lf">N</text>
<text transform="translate(478.50,196.50) scale(1,0.127)" textLength="3.50" lengthAdjust="spacingAndGlyphs" fill="#D6C91F" stroke="#D6C91F" class="lo lf">A</text>
<text transform="translate(478.50,195.58) scale(1,0.108)" textLength="3.50" lengthAdjust="spacingAndGlyphs" fill="#F3A524" stroke="#F3A524" class="lo lf">L</text>
<text transform="translate(482.00,196.50) scale(1,0.123)" textLength="3.50" lengthAdjust="spacingAndGlyphs" fill="#C240C0" stroke="#C240C0" class="lo lf">S</text>
<text transform="translate(482.00,195.60) scale(1,0.151)" textLength="3.50" lengthAdjust="spacingAndGlyphs" fill="#C240C0" stroke="#C240C0" class="lo lf">R</text>
<text transform="translate(485.50,196.50) scale(1,0.146)" textLength="3.50" lengthAdjust="spacingAndGlyphs" fill="#D7302F" stroke="#D7302F" class="lo lf">E</text>
<text transform="translate(485.50,195.43) scale(1,0.123)" textLength="3.50" lengthAdjust="spacingAndGlyphs" fill="#F3A524" stroke="#F3A524" class="lo lf">K</text>
<text transform="translate(489.00,196.50) scale(1,0.109)" textLength="3.00" lengthAdjust="spacingAndGlyphs" fill="#F3A524" stroke="#F3A524" class="lo lf">G</text>
<text transform="translate(489.00,195.70) scale(1,0.126)" textLength="3.00" lengthAdjust="spacingAndGlyphs" fill="#C240C0" stroke="#C240C0" class="lo lf">N</text>
<text x="392.3" y="218.10" text-anchor="end" class="mo">Motif 7</text>
<rect x="397.5" y="212.40" width="6.4" height="6.4" fill="#0040F0"/>
<line x1="413.5" y1="207.00" x2="413.5" y2="227.20" stroke="#444" stroke-width="0.45"/>
<line x1="412.3" y1="227.20" x2="413.5" y2="227.20" stroke="#444" stroke-width="0.35"/>
<line x1="412.3" y1="222.15" x2="413.5" y2="222.15" stroke="#444" stroke-width="0.35"/>
<line x1="412.3" y1="217.10" x2="413.5" y2="217.10" stroke="#444" stroke-width="0.35"/>
<line x1="412.3" y1="212.05" x2="413.5" y2="212.05" stroke="#444" stroke-width="0.35"/>
<line x1="412.3" y1="207.00" x2="413.5" y2="207.00" stroke="#444" stroke-width="0.35"/>
<text transform="translate(411.2,218.00) rotate(-90)" class="bits">bits</text>
<line x1="414.5" y1="228.20" x2="500.00" y2="228.20" stroke="#bbbbbb" stroke-width="1.0" stroke-dasharray="0.5 3.1"/>
<line x1="489.00" y1="231.50" x2="500.00" y2="231.50" stroke="#c8c8c8" stroke-width="0.5"/>
<text transform="translate(414.00,226.00) scale(1,0.120)" textLength="3.00" lengthAdjust="spacingAndGlyphs" fill="#27A8A8" stroke="#27A8A8" class="lo lf">Q</text>
<text transform="translate(414.00,225.13) scale(1,0.098)" textLength="3.00" lengthAdjust="spacingAndGlyphs" fill="#1F9B4A" stroke="#1F9B4A" class="lo lf">A</text>
<text transform="translate(417.00,226.00) scale(1,0.768)" textLength="5.00" lengthAdjust="spacingAndGlyphs" fill="#F3A524" stroke="#F3A524" class="lo">G</text>
<text transform="translate(422.00,226.00) scale(1,0.191)" textLength="3.50" lengthAdjust="spacingAndGlyphs" fill="#F3A524" stroke="#F3A524" class="lo lf">S</text>
<text transform="translate(422.00,224.61) scale(1,0.215)" textLength="3.50" lengthAdjust="spacingAndGlyphs" fill="#C240C0" stroke="#C240C0" class="lo lf">V</text>
<text transform="translate(425.50,226.00) scale(1,0.160)" textLength="3.50" lengthAdjust="spacingAndGlyphs" fill="#3A5BC9" stroke="#3A5BC9" class="lo lf">S</text>
<text transform="translate(425.50,224.83) scale(1,0.157)" textLength="3.50" lengthAdjust="spacingAndGlyphs" fill="#D7302F" stroke="#D7302F" class="lo lf">S</text>
<text transform="translate(429.00,226.00) scale(1,0.225)" textLength="3.50" lengthAdjust="spacingAndGlyphs" fill="#D6C91F" stroke="#D6C91F" class="lo lf">N</text>
<text transform="translate(429.00,224.36) scale(1,0.181)" textLength="3.50" lengthAdjust="spacingAndGlyphs" fill="#1F9B4A" stroke="#1F9B4A" class="lo lf">E</text>
<text transform="translate(432.50,226.00) scale(1,0.223)" textLength="3.50" lengthAdjust="spacingAndGlyphs" fill="#3A5BC9" stroke="#3A5BC9" class="lo lf">Q</text>
<text transform="translate(432.50,224.38) scale(1,0.184)" textLength="3.50" lengthAdjust="spacingAndGlyphs" fill="#F3A524" stroke="#F3A524" class="lo lf">K</text>
<text transform="translate(436.00,226.00) scale(1,0.222)" textLength="2.00" lengthAdjust="spacingAndGlyphs" fill="#F3A524" stroke="#F3A524" class="lo lf">R</text>
<text transform="translate(436.00,224.38) scale(1,0.161)" textLength="2.00" lengthAdjust="spacingAndGlyphs" fill="#3A5BC9" stroke="#3A5BC9" class="lo lf">N</text>
<text transform="translate(438.00,226.00) scale(1,1.207)" textLength="3.80" lengthAdjust="spacingAndGlyphs" fill="#3A5BC9" stroke="#3A5BC9" class="lo">C</text>
<text transform="translate(441.80,226.00) scale(1,0.768)" textLength="3.80" lengthAdjust="spacingAndGlyphs" fill="#D7302F" stroke="#D7302F" class="lo">S</text>
<text transform="translate(445.60,226.00) scale(1,1.303)" textLength="2.40" lengthAdjust="spacingAndGlyphs" fill="#3A5BC9" stroke="#3A5BC9" class="lo">I</text>
<text transform="translate(448.00,226.00) scale(1,0.270)" textLength="2.70" lengthAdjust="spacingAndGlyphs" fill="#1F9B4A" stroke="#1F9B4A" class="lo lf">N</text>
<text transform="translate(448.00,224.03) scale(1,0.197)" textLength="2.70" lengthAdjust="spacingAndGlyphs" fill="#F3A524" stroke="#F3A524" class="lo lf">A</text>
<text transform="translate(450.70,226.00) scale(1,2.195)" textLength="3.80" lengthAdjust="spacingAndGlyphs" fill="#C240C0" stroke="#C240C0" class="lo">I</text>
<text transform="translate(454.50,226.00) scale(1,2.195)" textLength="4.50" lengthAdjust="spacingAndGlyphs" fill="#C240C0" stroke="#C240C0" class="lo">D</text>
<text transform="translate(459.00,226.00) scale(1,1.125)" textLength="3.80" lengthAdjust="spacingAndGlyphs" fill="#3A5BC9" stroke="#3A5BC9" class="lo">L</text>
<text transform="translate(462.80,226.00) scale(1,0.960)" textLength="3.80" lengthAdjust="spacingAndGlyphs" fill="#3A5BC9" stroke="#3A5BC9" class="lo">V</text>
<text transform="translate(466.60,226.00) scale(1,0.768)" textLength="3.20" lengthAdjust="spacingAndGlyphs" fill="#D7302F" stroke="#D7302F" class="lo">R</text>
<text transform="translate(469.80,226.00) scale(1,1.097)" textLength="4.20" lengthAdjust="spacingAndGlyphs" fill="#C240C0" stroke="#C240C0" class="lo">D</text>
<text transform="translate(474.00,226.00) scale(1,1.029)" textLength="3.60" lengthAdjust="spacingAndGlyphs" fill="#3A5BC9" stroke="#3A5BC9" class="lo">L</text>
<text transform="translate(477.60,226.00) scale(1,0.960)" textLength="4.40" lengthAdjust="spacingAndGlyphs" fill="#3A5BC9" stroke="#3A5BC9" class="lo">C</text>
<text transform="translate(482.00,226.00) scale(1,0.223)" textLength="3.50" lengthAdjust="spacingAndGlyphs" fill="#C240C0" stroke="#C240C0" class="lo lf">A</text>
<text transform="translate(482.00,224.37) scale(1,0.154)" textLength="3.50" lengthAdjust="spacingAndGlyphs" fill="#C240C0" stroke="#C240C0" class="lo lf">R</text>
<text transform="translate(485.50,226.00) scale(1,0.187)" textLength="3.50" lengthAdjust="spacingAndGlyphs" fill="#C240C0" stroke="#C240C0" class="lo lf">T</text>
<text transform="translate(485.50,224.63) scale(1,0.194)" textLength="3.50" lengthAdjust="spacingAndGlyphs" fill="#D6C91F" stroke="#D6C91F" class="lo lf">V</text>
<text transform="translate(489.00,226.00) scale(1,0.172)" textLength="1.00" lengthAdjust="spacingAndGlyphs" fill="#D6C91F" stroke="#D6C91F" class="lo lf">N</text>
<text transform="translate(489.00,224.74) scale(1,0.236)" textLength="1.00" lengthAdjust="spacingAndGlyphs" fill="#3A5BC9" stroke="#3A5BC9" class="lo lf">E</text>
<text transform="translate(490.00,226.00) scale(1,0.549)" textLength="4.80" lengthAdjust="spacingAndGlyphs" fill="#D7302F" stroke="#D7302F" class="lo">R</text>
<text transform="translate(494.80,226.00) scale(1,1.029)" textLength="5.20" lengthAdjust="spacingAndGlyphs" fill="#3A5BC9" stroke="#3A5BC9" class="lo">A</text>
<text x="392.3" y="247.60" text-anchor="end" class="mo">Motif 8</text>
<rect x="397.5" y="241.90" width="6.4" height="6.4" fill="#FF00C0"/>
<line x1="413.5" y1="236.00" x2="413.5" y2="256.90" stroke="#444" stroke-width="0.45"/>
<line x1="412.3" y1="256.90" x2="413.5" y2="256.90" stroke="#444" stroke-width="0.35"/>
<line x1="412.3" y1="251.67" x2="413.5" y2="251.67" stroke="#444" stroke-width="0.35"/>
<line x1="412.3" y1="246.45" x2="413.5" y2="246.45" stroke="#444" stroke-width="0.35"/>
<line x1="412.3" y1="241.22" x2="413.5" y2="241.22" stroke="#444" stroke-width="0.35"/>
<line x1="412.3" y1="236.00" x2="413.5" y2="236.00" stroke="#444" stroke-width="0.35"/>
<text transform="translate(411.2,247.35) rotate(-90)" class="bits">bits</text>
<line x1="414.5" y1="257.90" x2="500.00" y2="257.90" stroke="#bbbbbb" stroke-width="1.0" stroke-dasharray="0.5 3.1"/>
<line x1="489.00" y1="261.20" x2="500.00" y2="261.20" stroke="#c8c8c8" stroke-width="0.5"/>
<text transform="translate(414.00,255.70) scale(1,0.535)" textLength="3.60" lengthAdjust="spacingAndGlyphs" fill="#1F9B4A" stroke="#1F9B4A" class="lo">S</text>
<text transform="translate(417.60,255.70) scale(1,2.524)" textLength="3.90" lengthAdjust="spacingAndGlyphs" fill="#3A5BC9" stroke="#3A5BC9" class="lo">L</text>
<text transform="translate(421.50,255.70) scale(1,0.274)" textLength="4.50" lengthAdjust="spacingAndGlyphs" fill="#27A8A8" stroke="#27A8A8" class="lo lf">R</text>
<text transform="translate(421.50,253.70) scale(1,1.029)" textLength="4.50" lengthAdjust="spacingAndGlyphs" fill="#C240C0" stroke="#C240C0" class="lo">E</text>
<text transform="translate(426.00,255.70) scale(1,0.189)" textLength="3.50" lengthAdjust="spacingAndGlyphs" fill="#1F9B4A" stroke="#1F9B4A" class="lo lf">Q</text>
<text transform="translate(426.00,254.32) scale(1,0.138)" textLength="3.50" lengthAdjust="spacingAndGlyphs" fill="#D7302F" stroke="#D7302F" class="lo lf">D</text>
<text transform="translate(429.70,255.70) scale(1,2.359)" textLength="3.80" lengthAdjust="spacingAndGlyphs" fill="#3A5BC9" stroke="#3A5BC9" class="lo">L</text>
<text transform="translate(433.50,255.70) scale(1,0.508)" textLength="3.90" lengthAdjust="spacingAndGlyphs" fill="#3A5BC9" stroke="#3A5BC9" class="lo">V</text>
<text transform="translate(437.40,255.70) scale(1,0.412)" textLength="3.80" lengthAdjust="spacingAndGlyphs" fill="#D7302F" stroke="#D7302F" class="lo lf">K</text>
<text transform="translate(437.40,252.70) scale(1,1.509)" textLength="3.80" lengthAdjust="spacingAndGlyphs" fill="#3A5BC9" stroke="#3A5BC9" class="lo">L</text>
<text transform="translate(441.20,255.70) scale(1,0.125)" textLength="3.50" lengthAdjust="spacingAndGlyphs" fill="#F3A524" stroke="#F3A524" class="lo lf">Q</text>
<text transform="translate(441.20,254.79) scale(1,0.084)" textLength="3.50" lengthAdjust="spacingAndGlyphs" fill="#C240C0" stroke="#C240C0" class="lo lf">A</text>
<text transform="translate(444.70,255.70) scale(1,0.097)" textLength="3.50" lengthAdjust="spacingAndGlyphs" fill="#C240C0" stroke="#C240C0" class="lo lf">G</text>
<text transform="translate(444.70,254.99) scale(1,0.118)" textLength="3.50" lengthAdjust="spacingAndGlyphs" fill="#3A5BC9" stroke="#3A5BC9" class="lo lf">E</text>
<text transform="translate(448.20,255.70) scale(1,0.096)" textLength="1.30" lengthAdjust="spacingAndGlyphs" fill="#D7302F" stroke="#D7302F" class="lo lf">A</text>
<text transform="translate(448.20,255.00) scale(1,0.093)" textLength="1.30" lengthAdjust="spacingAndGlyphs" fill="#D7302F" stroke="#D7302F" class="lo lf">E</text>
<text transform="translate(449.50,255.70) scale(1,2.359)" textLength="5.00" lengthAdjust="spacingAndGlyphs" fill="#3A5BC9" stroke="#3A5BC9" class="lo">C</text>
<text transform="translate(454.50,255.70) scale(1,0.128)" textLength="3.50" lengthAdjust="spacingAndGlyphs" fill="#27A8A8" stroke="#27A8A8" class="lo lf">D</text>
<text transform="translate(454.50,254.77) scale(1,0.104)" textLength="3.50" lengthAdjust="spacingAndGlyphs" fill="#27A8A8" stroke="#27A8A8" class="lo lf">N</text>
<text transform="translate(458.00,255.70) scale(1,0.117)" textLength="3.50" lengthAdjust="spacingAndGlyphs" fill="#3A5BC9" stroke="#3A5BC9" class="lo lf">E</text>
<text transform="translate(458.00,254.85) scale(1,0.086)" textLength="3.50" lengthAdjust="spacingAndGlyphs" fill="#27A8A8" stroke="#27A8A8" class="lo lf">A</text>
<text transform="translate(461.50,255.70) scale(1,0.110)" textLength="1.30" lengthAdjust="spacingAndGlyphs" fill="#F3A524" stroke="#F3A524" class="lo lf">T</text>
<text transform="translate(461.50,254.89) scale(1,0.098)" textLength="1.30" lengthAdjust="spacingAndGlyphs" fill="#3A5BC9" stroke="#3A5BC9" class="lo lf">R</text>
<text transform="translate(462.80,255.70) scale(1,2.442)" textLength="3.80" lengthAdjust="spacingAndGlyphs" fill="#3A5BC9" stroke="#3A5BC9" class="lo">L</text>
<text transform="translate(466.60,255.70) scale(1,0.864)" textLength="3.20" lengthAdjust="spacingAndGlyphs" fill="#C240C0" stroke="#C240C0" class="lo">A</text>
<text transform="translate(469.80,255.70) scale(1,1.125)" textLength="3.80" lengthAdjust="spacingAndGlyphs" fill="#C240C0" stroke="#C240C0" class="lo">E</text>
<text transform="translate(473.60,255.70) scale(1,1.564)" textLength="4.00" lengthAdjust="spacingAndGlyphs" fill="#3A5BC9" stroke="#3A5BC9" class="lo">I</text>
<text transform="translate(478.30,255.70) scale(1,1.920)" textLength="5.10" lengthAdjust="spacingAndGlyphs" fill="#D6C91F" stroke="#D6C91F" class="lo">P</text>
<text transform="translate(483.40,255.70) scale(1,0.228)" textLength="3.50" lengthAdjust="spacingAndGlyphs" fill="#C240C0" stroke="#C240C0" class="lo lf">A</text>
<text transform="translate(483.40,254.04) scale(1,0.197)" textLength="3.50" lengthAdjust="spacingAndGlyphs" fill="#1F9B4A" stroke="#1F9B4A" class="lo lf">S</text>
<text transform="translate(486.90,255.70) scale(1,0.239)" textLength="3.50" lengthAdjust="spacingAndGlyphs" fill="#D6C91F" stroke="#D6C91F" class="lo lf">A</text>
<text transform="translate(486.90,253.96) scale(1,0.164)" textLength="3.50" lengthAdjust="spacingAndGlyphs" fill="#3A5BC9" stroke="#3A5BC9" class="lo lf">E</text>
<text transform="translate(490.40,255.70) scale(1,0.271)" textLength="0.60" lengthAdjust="spacingAndGlyphs" fill="#1F9B4A" stroke="#1F9B4A" class="lo lf">N</text>
<text transform="translate(490.40,253.73) scale(1,0.205)" textLength="0.60" lengthAdjust="spacingAndGlyphs" fill="#D6C91F" stroke="#D6C91F" class="lo lf">Q</text>
<text transform="translate(491.00,255.70) scale(1,1.125)" textLength="3.80" lengthAdjust="spacingAndGlyphs" fill="#3A5BC9" stroke="#3A5BC9" class="lo">I</text>
<text transform="translate(494.80,255.70) scale(1,1.125)" textLength="5.20" lengthAdjust="spacingAndGlyphs" fill="#F3A524" stroke="#F3A524" class="lo">G</text>
<text x="392.3" y="277.10" text-anchor="end" class="mo">Motif 9</text>
<rect x="397.5" y="271.40" width="6.4" height="6.4" fill="#FF6010"/>
<line x1="413.5" y1="265.60" x2="413.5" y2="285.90" stroke="#444" stroke-width="0.45"/>
<line x1="412.3" y1="285.90" x2="413.5" y2="285.90" stroke="#444" stroke-width="0.35"/>
<line x1="412.3" y1="280.82" x2="413.5" y2="280.82" stroke="#444" stroke-width="0.35"/>
<line x1="412.3" y1="275.75" x2="413.5" y2="275.75" stroke="#444" stroke-width="0.35"/>
<line x1="412.3" y1="270.68" x2="413.5" y2="270.68" stroke="#444" stroke-width="0.35"/>
<line x1="412.3" y1="265.60" x2="413.5" y2="265.60" stroke="#444" stroke-width="0.35"/>
<text transform="translate(411.2,276.65) rotate(-90)" class="bits">bits</text>
<line x1="414.5" y1="286.90" x2="515.50" y2="286.90" stroke="#bbbbbb" stroke-width="1.0" stroke-dasharray="0.5 3.1"/>
<line x1="504.50" y1="290.20" x2="515.50" y2="290.20" stroke="#c8c8c8" stroke-width="0.5"/>
<text transform="translate(413.80,284.70) scale(1,1.564)" textLength="4.50" lengthAdjust="spacingAndGlyphs" fill="#C240C0" stroke="#C240C0" class="lo">D</text>
<text transform="translate(418.30,284.70) scale(1,0.147)" textLength="3.50" lengthAdjust="spacingAndGlyphs" fill="#D7302F" stroke="#D7302F" class="lo lf">Q</text>
<text transform="translate(418.30,283.63) scale(1,0.147)" textLength="3.50" lengthAdjust="spacingAndGlyphs" fill="#1F9B4A" stroke="#1F9B4A" class="lo lf">Q</text>
<text transform="translate(421.80,284.70) scale(1,0.200)" textLength="3.50" lengthAdjust="spacingAndGlyphs" fill="#C240C0" stroke="#C240C0" class="lo lf">Q</text>
<text transform="translate(421.80,283.24) scale(1,0.145)" textLength="3.50" lengthAdjust="spacingAndGlyphs" fill="#C240C0" stroke="#C240C0" class="lo lf">Q</text>
<text transform="translate(425.30,284.70) scale(1,0.193)" textLength="1.70" lengthAdjust="spacingAndGlyphs" fill="#C240C0" stroke="#C240C0" class="lo lf">N</text>
<text transform="translate(425.30,283.29) scale(1,0.146)" textLength="1.70" lengthAdjust="spacingAndGlyphs" fill="#3A5BC9" stroke="#3A5BC9" class="lo lf">A</text>
<text transform="translate(427.20,284.70) scale(1,1.468)" textLength="3.20" lengthAdjust="spacingAndGlyphs" fill="#3A5BC9" stroke="#3A5BC9" class="lo">Y</text>
<text transform="translate(430.40,284.70) scale(1,0.197)" textLength="3.50" lengthAdjust="spacingAndGlyphs" fill="#1F9B4A" stroke="#1F9B4A" class="lo lf">A</text>
<text transform="translate(430.40,283.26) scale(1,0.148)" textLength="3.50" lengthAdjust="spacingAndGlyphs" fill="#D6C91F" stroke="#D6C91F" class="lo lf">S</text>
<text transform="translate(433.90,284.70) scale(1,0.142)" textLength="3.50" lengthAdjust="spacingAndGlyphs" fill="#D7302F" stroke="#D7302F" class="lo lf">N</text>
<text transform="translate(433.90,283.67) scale(1,0.195)" textLength="3.50" lengthAdjust="spacingAndGlyphs" fill="#C240C0" stroke="#C240C0" class="lo lf">V</text>
<text transform="translate(437.40,284.70) scale(1,0.153)" textLength="1.90" lengthAdjust="spacingAndGlyphs" fill="#F3A524" stroke="#F3A524" class="lo lf">T</text>
<text transform="translate(437.40,283.58) scale(1,0.131)" textLength="1.90" lengthAdjust="spacingAndGlyphs" fill="#C240C0" stroke="#C240C0" class="lo lf">S</text>
<text transform="translate(439.30,284.70) scale(1,1.193)" textLength="2.50" lengthAdjust="spacingAndGlyphs" fill="#C240C0" stroke="#C240C0" class="lo">I</text>
<text transform="translate(442.50,284.70) scale(1,2.524)" textLength="4.50" lengthAdjust="spacingAndGlyphs" fill="#3A5BC9" stroke="#3A5BC9" class="lo">F</text>
<text transform="translate(447.00,284.70) scale(1,1.056)" textLength="3.70" lengthAdjust="spacingAndGlyphs" fill="#C240C0" stroke="#C240C0" class="lo">D</text>
<text transform="translate(450.70,284.70) scale(1,0.782)" textLength="3.30" lengthAdjust="spacingAndGlyphs" fill="#3A5BC9" stroke="#3A5BC9" class="lo">C</text>
<text transform="translate(454.00,284.70) scale(1,0.782)" textLength="4.40" lengthAdjust="spacingAndGlyphs" fill="#D7302F" stroke="#D7302F" class="lo">R</text>
<text transform="translate(459.00,284.70) scale(1,1.660)" textLength="3.20" lengthAdjust="spacingAndGlyphs" fill="#3A5BC9" stroke="#3A5BC9" class="lo">A</text>
<text transform="translate(462.20,284.70) scale(1,2.016)" textLength="3.80" lengthAdjust="spacingAndGlyphs" fill="#3A5BC9" stroke="#3A5BC9" class="lo">W</text>
<text transform="translate(466.00,284.70) scale(1,0.412)" textLength="3.80" lengthAdjust="spacingAndGlyphs" fill="#C240C0" stroke="#C240C0" class="lo lf">N</text>
<text transform="translate(466.00,281.70) scale(1,0.645)" textLength="3.80" lengthAdjust="spacingAndGlyphs" fill="#3A5BC9" stroke="#3A5BC9" class="lo">V</text>
<text transform="translate(469.80,284.70) scale(1,0.412)" textLength="3.80" lengthAdjust="spacingAndGlyphs" fill="#C240C0" stroke="#C240C0" class="lo lf">V</text>
<text transform="translate(469.80,281.70) scale(1,0.713)" textLength="3.80" lengthAdjust="spacingAndGlyphs" fill="#3A5BC9" stroke="#3A5BC9" class="lo">Y</text>
<text transform="translate(473.60,284.70) scale(1,1.056)" textLength="3.20" lengthAdjust="spacingAndGlyphs" fill="#3A5BC9" stroke="#3A5BC9" class="lo">I</text>
<text transform="translate(476.80,284.70) scale(1,1.742)" textLength="1.40" lengthAdjust="spacingAndGlyphs" fill="#27A8A8" stroke="#27A8A8" class="lo">V</text>
<text transform="translate(478.20,284.70) scale(1,1.742)" textLength="3.60" lengthAdjust="spacingAndGlyphs" fill="#1F9B4A" stroke="#1F9B4A" class="lo">S</text>
<text transform="translate(481.80,284.70) scale(1,1.564)" textLength="5.20" lengthAdjust="spacingAndGlyphs" fill="#1F9B4A" stroke="#1F9B4A" class="lo">Q</text>
<text transform="translate(487.00,284.70) scale(1,0.346)" textLength="3.50" lengthAdjust="spacingAndGlyphs" fill="#D7302F" stroke="#D7302F" class="lo lf">Q</text>
<text transform="translate(487.00,282.18) scale(1,0.209)" textLength="3.50" lengthAdjust="spacingAndGlyphs" fill="#F3A524" stroke="#F3A524" class="lo lf">S</text>
<text transform="translate(490.70,284.70) scale(1,1.221)" textLength="3.80" lengthAdjust="spacingAndGlyphs" fill="#27A8A8" stroke="#27A8A8" class="lo">Y</text>
<text transform="translate(494.50,284.70) scale(1,0.359)" textLength="3.50" lengthAdjust="spacingAndGlyphs" fill="#3A5BC9" stroke="#3A5BC9" class="lo lf">R</text>
<text transform="translate(494.50,282.08) scale(1,0.318)" textLength="3.50" lengthAdjust="spacingAndGlyphs" fill="#D7302F" stroke="#D7302F" class="lo lf">T</text>
<text transform="translate(498.00,284.70) scale(1,0.272)" textLength="3.50" lengthAdjust="spacingAndGlyphs" fill="#D7302F" stroke="#D7302F" class="lo lf">S</text>
<text transform="translate(498.00,282.72) scale(1,0.426)" textLength="3.50" lengthAdjust="spacingAndGlyphs" fill="#D7302F" stroke="#D7302F" class="lo lf">E</text>
<text transform="translate(501.50,284.70) scale(1,0.304)" textLength="2.00" lengthAdjust="spacingAndGlyphs" fill="#3A5BC9" stroke="#3A5BC9" class="lo lf">V</text>
<text transform="translate(501.50,282.48) scale(1,0.258)" textLength="2.00" lengthAdjust="spacingAndGlyphs" fill="#27A8A8" stroke="#27A8A8" class="lo lf">K</text>
<text transform="translate(503.50,284.70) scale(1,0.356)" textLength="3.50" lengthAdjust="spacingAndGlyphs" fill="#F3A524" stroke="#F3A524" class="lo lf">Q</text>
<text transform="translate(503.50,282.10) scale(1,0.303)" textLength="3.50" lengthAdjust="spacingAndGlyphs" fill="#D7302F" stroke="#D7302F" class="lo lf">K</text>
<text transform="translate(507.00,284.70) scale(1,0.323)" textLength="3.50" lengthAdjust="spacingAndGlyphs" fill="#F3A524" stroke="#F3A524" class="lo lf">T</text>
<text transform="translate(507.00,282.34) scale(1,0.386)" textLength="3.50" lengthAdjust="spacingAndGlyphs" fill="#3A5BC9" stroke="#3A5BC9" class="lo lf">S</text>
<text transform="translate(511.00,284.70) scale(1,1.125)" textLength="4.50" lengthAdjust="spacingAndGlyphs" fill="#3A5BC9" stroke="#3A5BC9" class="lo">L</text>
<text x="392.3" y="306.70" text-anchor="end" class="mo">Motif 10</text>
<rect x="397.5" y="301.00" width="6.4" height="6.4" fill="#E8FF30"/>
<line x1="413.5" y1="295.30" x2="413.5" y2="314.90" stroke="#444" stroke-width="0.45"/>
<line x1="412.3" y1="314.90" x2="413.5" y2="314.90" stroke="#444" stroke-width="0.35"/>
<line x1="412.3" y1="310.00" x2="413.5" y2="310.00" stroke="#444" stroke-width="0.35"/>
<line x1="412.3" y1="305.10" x2="413.5" y2="305.10" stroke="#444" stroke-width="0.35"/>
<line x1="412.3" y1="300.20" x2="413.5" y2="300.20" stroke="#444" stroke-width="0.35"/>
<line x1="412.3" y1="295.30" x2="413.5" y2="295.30" stroke="#444" stroke-width="0.35"/>
<text transform="translate(411.2,306.00) rotate(-90)" class="bits">bits</text>
<line x1="414.5" y1="315.90" x2="494.00" y2="315.90" stroke="#bbbbbb" stroke-width="1.0" stroke-dasharray="0.5 3.1"/>
<line x1="483.00" y1="319.20" x2="494.00" y2="319.20" stroke="#c8c8c8" stroke-width="0.5"/>
<text transform="translate(413.80,313.70) scale(1,1.564)" textLength="4.50" lengthAdjust="spacingAndGlyphs" fill="#C240C0" stroke="#C240C0" class="lo">D</text>
<text transform="translate(418.30,313.70) scale(1,0.125)" textLength="3.50" lengthAdjust="spacingAndGlyphs" fill="#C240C0" stroke="#C240C0" class="lo lf">E</text>
<text transform="translate(418.30,312.79) scale(1,0.126)" textLength="3.50" lengthAdjust="spacingAndGlyphs" fill="#D7302F" stroke="#D7302F" class="lo lf">T</text>
<text transform="translate(422.00,313.70) scale(1,0.782)" textLength="4.00" lengthAdjust="spacingAndGlyphs" fill="#C240C0" stroke="#C240C0" class="lo">H</text>
<text transform="translate(426.50,313.70) scale(1,1.660)" textLength="2.50" lengthAdjust="spacingAndGlyphs" fill="#3A5BC9" stroke="#3A5BC9" class="lo">I</text>
<text transform="translate(429.00,313.70) scale(1,0.147)" textLength="3.50" lengthAdjust="spacingAndGlyphs" fill="#3A5BC9" stroke="#3A5BC9" class="lo lf">N</text>
<text transform="translate(429.00,312.63) scale(1,0.162)" textLength="3.50" lengthAdjust="spacingAndGlyphs" fill="#D7302F" stroke="#D7302F" class="lo lf">S</text>
<text transform="translate(432.50,313.70) scale(1,0.202)" textLength="1.50" lengthAdjust="spacingAndGlyphs" fill="#C240C0" stroke="#C240C0" class="lo lf">T</text>
<text transform="translate(432.50,312.22) scale(1,0.156)" textLength="1.50" lengthAdjust="spacingAndGlyphs" fill="#F3A524" stroke="#F3A524" class="lo lf">T</text>
<text transform="translate(434.20,313.70) scale(1,0.700)" textLength="3.20" lengthAdjust="spacingAndGlyphs" fill="#3A5BC9" stroke="#3A5BC9" class="lo">V</text>
<text transform="translate(437.40,313.70) scale(1,0.175)" textLength="3.50" lengthAdjust="spacingAndGlyphs" fill="#C240C0" stroke="#C240C0" class="lo lf">R</text>
<text transform="translate(437.40,312.42) scale(1,0.163)" textLength="3.50" lengthAdjust="spacingAndGlyphs" fill="#C240C0" stroke="#C240C0" class="lo lf">K</text>
<text transform="translate(440.90,313.70) scale(1,0.184)" textLength="0.90" lengthAdjust="spacingAndGlyphs" fill="#1F9B4A" stroke="#1F9B4A" class="lo lf">D</text>
<text transform="translate(440.90,312.36) scale(1,0.157)" textLength="0.90" lengthAdjust="spacingAndGlyphs" fill="#C240C0" stroke="#C240C0" class="lo lf">V</text>
<text transform="translate(441.80,313.70) scale(1,0.782)" textLength="3.80" lengthAdjust="spacingAndGlyphs" fill="#D7302F" stroke="#D7302F" class="lo">K</text>
<text transform="translate(446.30,313.70) scale(1,2.016)" textLength="3.20" lengthAdjust="spacingAndGlyphs" fill="#3A5BC9" stroke="#3A5BC9" class="lo">L</text>
<text transform="translate(449.50,313.70) scale(1,1.303)" textLength="3.80" lengthAdjust="spacingAndGlyphs" fill="#3A5BC9" stroke="#3A5BC9" class="lo">I</text>
<text transform="translate(453.30,313.70) scale(1,0.782)" textLength="5.10" lengthAdjust="spacingAndGlyphs" fill="#D7302F" stroke="#D7302F" class="lo">N</text>
<text transform="translate(458.40,313.70) scale(1,1.564)" textLength="3.80" lengthAdjust="spacingAndGlyphs" fill="#3A5BC9" stroke="#3A5BC9" class="lo">L</text>
<text transform="translate(462.20,313.70) scale(1,2.428)" textLength="4.40" lengthAdjust="spacingAndGlyphs" fill="#3A5BC9" stroke="#3A5BC9" class="lo">W</text>
<text transform="translate(466.60,313.70) scale(1,1.221)" textLength="3.20" lengthAdjust="spacingAndGlyphs" fill="#3A5BC9" stroke="#3A5BC9" class="lo">I</text>
<text transform="translate(469.80,313.70) scale(1,1.468)" textLength="3.80" lengthAdjust="spacingAndGlyphs" fill="#3A5BC9" stroke="#3A5BC9" class="lo">A</text>
<text transform="translate(473.60,313.70) scale(1,1.660)" textLength="3.90" lengthAdjust="spacingAndGlyphs" fill="#C240C0" stroke="#C240C0" class="lo">E</text>
<text transform="translate(477.50,313.70) scale(1,0.319)" textLength="1.50" lengthAdjust="spacingAndGlyphs" fill="#27A8A8" stroke="#27A8A8" class="lo lf">S</text>
<text transform="translate(477.50,311.38) scale(1,0.226)" textLength="1.50" lengthAdjust="spacingAndGlyphs" fill="#D6C91F" stroke="#D6C91F" class="lo lf">T</text>
<text transform="translate(479.00,313.70) scale(1,1.920)" textLength="4.40" lengthAdjust="spacingAndGlyphs" fill="#F3A524" stroke="#F3A524" class="lo">G</text>
<text transform="translate(483.40,313.70) scale(1,1.399)" textLength="3.10" lengthAdjust="spacingAndGlyphs" fill="#3A5BC9" stroke="#3A5BC9" class="lo">F</text>
<text transform="translate(487.00,313.70) scale(1,1.221)" textLength="3.40" lengthAdjust="spacingAndGlyphs" fill="#3A5BC9" stroke="#3A5BC9" class="lo">Y</text>
<text transform="translate(490.40,313.70) scale(1,0.202)" textLength="3.50" lengthAdjust="spacingAndGlyphs" fill="#D7302F" stroke="#D7302F" class="lo lf">A</text>
<text transform="translate(490.40,312.23) scale(1,0.147)" textLength="3.50" lengthAdjust="spacingAndGlyphs" fill="#F3A524" stroke="#F3A524" class="lo lf">G</text></g>
<g id="bars"><line x1="28.75" y1="481.25" x2="453.25" y2="481.25" stroke="#E6E6E6" stroke-width="0.8"/>
<line x1="28.75" y1="455.00" x2="453.25" y2="455.00" stroke="#E6E6E6" stroke-width="0.8"/>
<line x1="28.75" y1="428.75" x2="453.25" y2="428.75" stroke="#E6E6E6" stroke-width="0.8"/>
<line x1="28.75" y1="402.50" x2="453.25" y2="402.50" stroke="#E6E6E6" stroke-width="0.8"/>
<line x1="28.75" y1="376.25" x2="453.25" y2="376.25" stroke="#E6E6E6" stroke-width="0.8"/>
<line x1="28.75" y1="350.00" x2="453.25" y2="350.00" stroke="#E6E6E6" stroke-width="0.8"/>
<line x1="28.75" y1="507.5" x2="453.25" y2="507.5" stroke="#D4D4D4" stroke-width="0.8"/>
<line x1="28.75" y1="507.5" x2="28.75" y2="528" stroke="#D4D4D4" stroke-width="0.8"/>
<line x1="71.20" y1="507.5" x2="71.20" y2="528" stroke="#D4D4D4" stroke-width="0.8"/>
<line x1="113.65" y1="507.5" x2="113.65" y2="528" stroke="#D4D4D4" stroke-width="0.8"/>
<line x1="156.10" y1="507.5" x2="156.10" y2="528" stroke="#D4D4D4" stroke-width="0.8"/>
<line x1="198.55" y1="507.5" x2="198.55" y2="528" stroke="#D4D4D4" stroke-width="0.8"/>
<line x1="241.00" y1="507.5" x2="241.00" y2="528" stroke="#D4D4D4" stroke-width="0.8"/>
<line x1="283.45" y1="507.5" x2="283.45" y2="528" stroke="#D4D4D4" stroke-width="0.8"/>
<line x1="325.90" y1="507.5" x2="325.90" y2="528" stroke="#D4D4D4" stroke-width="0.8"/>
<line x1="368.35" y1="507.5" x2="368.35" y2="528" stroke="#D4D4D4" stroke-width="0.8"/>
<line x1="410.80" y1="507.5" x2="410.80" y2="528" stroke="#D4D4D4" stroke-width="0.8"/>
<line x1="453.25" y1="507.5" x2="453.25" y2="528" stroke="#D4D4D4" stroke-width="0.8"/>
<text x="26.3" y="509.40" text-anchor="end" class="yl">0</text>
<text x="26.3" y="483.15" text-anchor="end" class="yl">100</text>
<text x="26.3" y="456.90" text-anchor="end" class="yl">200</text>
<text x="26.3" y="430.65" text-anchor="end" class="yl">300</text>
<text x="26.3" y="404.40" text-anchor="end" class="yl">400</text>
<text x="26.3" y="378.15" text-anchor="end" class="yl">500</text>
<text x="26.3" y="351.90" text-anchor="end" class="yl">600</text>
<text transform="translate(13.2,427) rotate(-90)" text-anchor="middle" class="yt">Gene number</text>
<rect x="32.93" y="499.89" width="5.8" height="7.61" fill="#5BB88F"/>
<rect x="32.93" y="493.59" width="5.8" height="6.30" fill="#F5B25A"/>
<rect x="32.93" y="488.86" width="5.8" height="4.72" fill="#76A5D8"/>
<rect x="32.93" y="477.71" width="5.8" height="11.16" fill="#B4CE5A"/>
<rect x="32.93" y="474.95" width="5.8" height="2.76" fill="#8FD3C1"/>
<rect x="32.93" y="465.76" width="5.8" height="9.19" fill="#B468B0"/>
<rect x="32.93" y="461.56" width="5.8" height="4.20" fill="#C8C2E6"/>
<rect x="47.05" y="491.62" width="5.8" height="15.88" fill="#5BB88F"/>
<rect x="47.05" y="482.96" width="5.8" height="8.66" fill="#EC875B"/>
<rect x="47.05" y="469.18" width="5.8" height="13.78" fill="#F5B25A"/>
<rect x="47.05" y="453.24" width="5.8" height="15.93" fill="#E8675F"/>
<rect x="47.05" y="440.82" width="5.8" height="12.42" fill="#76A5D8"/>
<rect x="47.05" y="407.49" width="5.8" height="33.34" fill="#B4CE5A"/>
<rect x="47.05" y="400.01" width="5.8" height="7.48" fill="#8FD3C1"/>
<rect x="47.05" y="377.82" width="5.8" height="22.18" fill="#B468B0"/>
<rect x="47.05" y="364.96" width="5.8" height="12.86" fill="#C8C2E6"/>
<rect x="61.25" y="505.98" width="5.8" height="1.52" fill="#5BB88F"/>
<rect x="61.25" y="504.97" width="5.8" height="1.01" fill="#EC875B"/>
<rect x="61.25" y="502.83" width="5.8" height="2.15" fill="#F5B25A"/>
<rect x="61.25" y="501.82" width="5.8" height="1.01" fill="#E8675F"/>
<rect x="61.25" y="501.06" width="5.8" height="0.76" fill="#76A5D8"/>
<rect x="61.25" y="497.40" width="5.8" height="3.66" fill="#B4CE5A"/>
<rect x="61.25" y="497.02" width="5.8" height="0.38" fill="#8FD3C1"/>
<rect x="61.25" y="495.63" width="5.8" height="1.39" fill="#B468B0"/>
<rect x="61.25" y="494.11" width="5.8" height="1.52" fill="#C8C2E6"/>
<text x="35.83" y="515.6" text-anchor="middle" class="sl">TNL</text>
<text x="49.95" y="515.6" text-anchor="middle" class="sl">CNL</text>
<text x="64.15" y="515.6" text-anchor="middle" class="sl">RNL</text>
<text x="52.77" y="524.8" text-anchor="middle" class="ml">Motif 1</text>
<rect x="89.50" y="493.59" width="5.8" height="13.91" fill="#5BB88F"/>
<rect x="89.50" y="485.98" width="5.8" height="7.61" fill="#EC875B"/>
<rect x="89.50" y="475.21" width="5.8" height="10.76" fill="#F5B25A"/>
<rect x="89.50" y="463.01" width="5.8" height="12.21" fill="#E8675F"/>
<rect x="89.50" y="452.51" width="5.8" height="10.50" fill="#76A5D8"/>
<rect x="89.50" y="424.55" width="5.8" height="27.96" fill="#B4CE5A"/>
<rect x="89.50" y="419.04" width="5.8" height="5.51" fill="#8FD3C1"/>
<rect x="89.50" y="398.82" width="5.8" height="20.21" fill="#B468B0"/>
<rect x="89.50" y="387.01" width="5.8" height="11.81" fill="#C8C2E6"/>
<rect x="103.70" y="506.49" width="5.8" height="1.01" fill="#5BB88F"/>
<rect x="103.70" y="505.82" width="5.8" height="0.67" fill="#EC875B"/>
<rect x="103.70" y="504.38" width="5.8" height="1.43" fill="#F5B25A"/>
<rect x="103.70" y="503.71" width="5.8" height="0.67" fill="#E8675F"/>
<rect x="103.70" y="503.21" width="5.8" height="0.51" fill="#76A5D8"/>
<rect x="103.70" y="500.76" width="5.8" height="2.44" fill="#B4CE5A"/>
<rect x="103.70" y="500.51" width="5.8" height="0.25" fill="#8FD3C1"/>
<rect x="103.70" y="499.59" width="5.8" height="0.93" fill="#B468B0"/>
<rect x="103.70" y="498.57" width="5.8" height="1.01" fill="#C8C2E6"/>
<text x="78.28" y="515.6" text-anchor="middle" class="sl">TNL</text>
<text x="92.40" y="515.6" text-anchor="middle" class="sl">CNL</text>
<text x="106.60" y="515.6" text-anchor="middle" class="sl">RNL</text>
<text x="95.23" y="524.8" text-anchor="middle" class="ml">Motif 2</text>
<rect x="117.83" y="499.10" width="5.8" height="8.40" fill="#5BB88F"/>
<rect x="117.83" y="492.80" width="5.8" height="6.30" fill="#F5B25A"/>
<rect x="117.83" y="488.07" width="5.8" height="4.73" fill="#76A5D8"/>
<rect x="117.83" y="475.21" width="5.8" height="12.86" fill="#B4CE5A"/>
<rect x="117.83" y="473.11" width="5.8" height="2.10" fill="#8FD3C1"/>
<rect x="117.83" y="464.45" width="5.8" height="8.66" fill="#B468B0"/>
<rect x="117.83" y="459.73" width="5.8" height="4.72" fill="#C8C2E6"/>
<rect x="131.95" y="488.60" width="5.8" height="18.90" fill="#5BB88F"/>
<rect x="131.95" y="479.02" width="5.8" height="9.58" fill="#EC875B"/>
<rect x="131.95" y="464.45" width="5.8" height="14.57" fill="#F5B25A"/>
<rect x="131.95" y="447.75" width="5.8" height="16.69" fill="#E8675F"/>
<rect x="131.95" y="434.52" width="5.8" height="13.23" fill="#76A5D8"/>
<rect x="131.95" y="399.61" width="5.8" height="34.91" fill="#B4CE5A"/>
<rect x="131.95" y="392.00" width="5.8" height="7.61" fill="#8FD3C1"/>
<rect x="131.95" y="369.16" width="5.8" height="22.84" fill="#B468B0"/>
<rect x="131.95" y="354.99" width="5.8" height="14.18" fill="#C8C2E6"/>
<rect x="146.15" y="505.93" width="5.8" height="1.57" fill="#5BB88F"/>
<rect x="146.15" y="504.88" width="5.8" height="1.05" fill="#EC875B"/>
<rect x="146.15" y="502.64" width="5.8" height="2.23" fill="#F5B25A"/>
<rect x="146.15" y="501.59" width="5.8" height="1.05" fill="#E8675F"/>
<rect x="146.15" y="500.81" width="5.8" height="0.79" fill="#76A5D8"/>
<rect x="146.15" y="497.00" width="5.8" height="3.81" fill="#B4CE5A"/>
<rect x="146.15" y="496.61" width="5.8" height="0.39" fill="#8FD3C1"/>
<rect x="146.15" y="495.16" width="5.8" height="1.44" fill="#B468B0"/>
<rect x="146.15" y="493.59" width="5.8" height="1.58" fill="#C8C2E6"/>
<text x="120.73" y="515.6" text-anchor="middle" class="sl">TNL</text>
<text x="134.85" y="515.6" text-anchor="middle" class="sl">CNL</text>
<text x="149.05" y="515.6" text-anchor="middle" class="sl">RNL</text>
<text x="137.68" y="524.8" text-anchor="middle" class="ml">Motif 3</text>
<rect x="160.28" y="499.49" width="5.8" height="8.01" fill="#5BB88F"/>
<rect x="160.28" y="493.59" width="5.8" height="5.91" fill="#F5B25A"/>
<rect x="160.28" y="488.60" width="5.8" height="4.99" fill="#76A5D8"/>
<rect x="160.28" y="476.00" width="5.8" height="12.60" fill="#B4CE5A"/>
<rect x="160.28" y="472.98" width="5.8" height="3.02" fill="#8FD3C1"/>
<rect x="160.28" y="464.98" width="5.8" height="8.01" fill="#B468B0"/>
<rect x="160.28" y="459.99" width="5.8" height="4.99" fill="#C8C2E6"/>
<rect x="174.40" y="490.25" width="5.8" height="17.25" fill="#5BB88F"/>
<rect x="174.40" y="480.99" width="5.8" height="9.27" fill="#EC875B"/>
<rect x="174.40" y="466.81" width="5.8" height="14.18" fill="#F5B25A"/>
<rect x="174.40" y="451.32" width="5.8" height="15.49" fill="#E8675F"/>
<rect x="174.40" y="437.94" width="5.8" height="13.39" fill="#76A5D8"/>
<rect x="174.40" y="404.99" width="5.8" height="32.94" fill="#B4CE5A"/>
<rect x="174.40" y="396.99" width="5.8" height="8.01" fill="#8FD3C1"/>
<rect x="174.40" y="374.41" width="5.8" height="22.57" fill="#B468B0"/>
<rect x="174.40" y="360.76" width="5.8" height="13.65" fill="#C8C2E6"/>
<rect x="188.60" y="505.93" width="5.8" height="1.57" fill="#5BB88F"/>
<rect x="188.60" y="504.88" width="5.8" height="1.05" fill="#EC875B"/>
<rect x="188.60" y="502.64" width="5.8" height="2.23" fill="#F5B25A"/>
<rect x="188.60" y="501.59" width="5.8" height="1.05" fill="#E8675F"/>
<rect x="188.60" y="500.81" width="5.8" height="0.79" fill="#76A5D8"/>
<rect x="188.60" y="497.00" width="5.8" height="3.81" fill="#B4CE5A"/>
<rect x="188.60" y="496.61" width="5.8" height="0.39" fill="#8FD3C1"/>
<rect x="188.60" y="495.16" width="5.8" height="1.44" fill="#B468B0"/>
<rect x="188.60" y="493.59" width="5.8" height="1.58" fill="#C8C2E6"/>
<text x="163.18" y="515.6" text-anchor="middle" class="sl">TNL</text>
<text x="177.30" y="515.6" text-anchor="middle" class="sl">CNL</text>
<text x="191.50" y="515.6" text-anchor="middle" class="sl">RNL</text>
<text x="180.13" y="524.8" text-anchor="middle" class="ml">Motif 4</text>
<rect x="202.73" y="500.25" width="5.8" height="7.25" fill="#5BB88F"/>
<rect x="202.73" y="494.74" width="5.8" height="5.51" fill="#F5B25A"/>
<rect x="202.73" y="490.25" width="5.8" height="4.49" fill="#76A5D8"/>
<rect x="202.73" y="478.62" width="5.8" height="11.63" fill="#B4CE5A"/>
<rect x="202.73" y="476.52" width="5.8" height="2.10" fill="#8FD3C1"/>
<rect x="202.73" y="468.26" width="5.8" height="8.27" fill="#B468B0"/>
<rect x="202.73" y="463.24" width="5.8" height="5.01" fill="#C8C2E6"/>
<rect x="216.85" y="490.25" width="5.8" height="17.25" fill="#5BB88F"/>
<rect x="216.85" y="481.51" width="5.8" height="8.74" fill="#EC875B"/>
<rect x="216.85" y="468.99" width="5.8" height="12.52" fill="#F5B25A"/>
<rect x="216.85" y="453.00" width="5.8" height="15.99" fill="#E8675F"/>
<rect x="216.85" y="441.09" width="5.8" height="11.92" fill="#76A5D8"/>
<rect x="216.85" y="408.80" width="5.8" height="32.29" fill="#B4CE5A"/>
<rect x="216.85" y="401.98" width="5.8" height="6.82" fill="#8FD3C1"/>
<rect x="216.85" y="379.24" width="5.8" height="22.73" fill="#B468B0"/>
<rect x="216.85" y="367.06" width="5.8" height="12.18" fill="#C8C2E6"/>
<rect x="231.05" y="505.93" width="5.8" height="1.57" fill="#5BB88F"/>
<rect x="231.05" y="504.88" width="5.8" height="1.05" fill="#EC875B"/>
<rect x="231.05" y="502.64" width="5.8" height="2.23" fill="#F5B25A"/>
<rect x="231.05" y="501.59" width="5.8" height="1.05" fill="#E8675F"/>
<rect x="231.05" y="500.81" width="5.8" height="0.79" fill="#76A5D8"/>
<rect x="231.05" y="497.00" width="5.8" height="3.81" fill="#B4CE5A"/>
<rect x="231.05" y="496.61" width="5.8" height="0.39" fill="#8FD3C1"/>
<rect x="231.05" y="495.16" width="5.8" height="1.44" fill="#B468B0"/>
<rect x="231.05" y="493.59" width="5.8" height="1.58" fill="#C8C2E6"/>
<text x="205.63" y="515.6" text-anchor="middle" class="sl">TNL</text>
<text x="219.75" y="515.6" text-anchor="middle" class="sl">CNL</text>
<text x="233.95" y="515.6" text-anchor="middle" class="sl">RNL</text>
<text x="222.58" y="524.8" text-anchor="middle" class="ml">Motif 5</text>
<rect x="245.18" y="499.49" width="5.8" height="8.01" fill="#5BB88F"/>
<rect x="245.18" y="493.32" width="5.8" height="6.17" fill="#F5B25A"/>
<rect x="245.18" y="488.07" width="5.8" height="5.25" fill="#76A5D8"/>
<rect x="245.18" y="475.21" width="5.8" height="12.86" fill="#B4CE5A"/>
<rect x="245.18" y="473.24" width="5.8" height="1.97" fill="#8FD3C1"/>
<rect x="245.18" y="464.71" width="5.8" height="8.53" fill="#B468B0"/>
<rect x="245.18" y="459.73" width="5.8" height="4.99" fill="#C8C2E6"/>
<rect x="259.30" y="488.60" width="5.8" height="18.90" fill="#5BB88F"/>
<rect x="259.30" y="479.15" width="5.8" height="9.45" fill="#EC875B"/>
<rect x="259.30" y="464.84" width="5.8" height="14.31" fill="#F5B25A"/>
<rect x="259.30" y="448.25" width="5.8" height="16.59" fill="#E8675F"/>
<rect x="259.30" y="435.18" width="5.8" height="13.07" fill="#76A5D8"/>
<rect x="259.30" y="400.40" width="5.8" height="34.78" fill="#B4CE5A"/>
<rect x="259.30" y="392.52" width="5.8" height="7.88" fill="#8FD3C1"/>
<rect x="259.30" y="369.95" width="5.8" height="22.57" fill="#B468B0"/>
<rect x="259.30" y="355.77" width="5.8" height="14.18" fill="#C8C2E6"/>
<rect x="273.50" y="505.93" width="5.8" height="1.57" fill="#5BB88F"/>
<rect x="273.50" y="504.88" width="5.8" height="1.05" fill="#EC875B"/>
<rect x="273.50" y="502.64" width="5.8" height="2.23" fill="#F5B25A"/>
<rect x="273.50" y="501.59" width="5.8" height="1.05" fill="#E8675F"/>
<rect x="273.50" y="500.81" width="5.8" height="0.79" fill="#76A5D8"/>
<rect x="273.50" y="497.00" width="5.8" height="3.81" fill="#B4CE5A"/>
<rect x="273.50" y="496.61" width="5.8" height="0.39" fill="#8FD3C1"/>
<rect x="273.50" y="495.16" width="5.8" height="1.44" fill="#B468B0"/>
<rect x="273.50" y="493.59" width="5.8" height="1.58" fill="#C8C2E6"/>
<text x="248.08" y="515.6" text-anchor="middle" class="sl">TNL</text>
<text x="262.20" y="515.6" text-anchor="middle" class="sl">CNL</text>
<text x="276.40" y="515.6" text-anchor="middle" class="sl">RNL</text>
<text x="265.03" y="524.8" text-anchor="middle" class="ml">Motif 6</text>
<rect x="287.63" y="504.51" width="5.8" height="2.99" fill="#5BB88F"/>
<rect x="287.63" y="500.94" width="5.8" height="3.57" fill="#F5B25A"/>
<rect x="287.63" y="499.36" width="5.8" height="1.57" fill="#76A5D8"/>
<rect x="287.63" y="492.01" width="5.8" height="7.35" fill="#B4CE5A"/>
<rect x="287.63" y="490.96" width="5.8" height="1.05" fill="#8FD3C1"/>
<rect x="287.63" y="485.71" width="5.8" height="5.25" fill="#B468B0"/>
<rect x="287.63" y="484.01" width="5.8" height="1.71" fill="#C8C2E6"/>
<rect x="301.75" y="492.01" width="5.8" height="15.49" fill="#5BB88F"/>
<rect x="301.75" y="483.51" width="5.8" height="8.50" fill="#EC875B"/>
<rect x="301.75" y="470.09" width="5.8" height="13.41" fill="#F5B25A"/>
<rect x="301.75" y="454.48" width="5.8" height="15.62" fill="#E8675F"/>
<rect x="301.75" y="443.19" width="5.8" height="11.29" fill="#76A5D8"/>
<rect x="301.75" y="410.64" width="5.8" height="32.55" fill="#B4CE5A"/>
<rect x="301.75" y="403.55" width="5.8" height="7.09" fill="#8FD3C1"/>
<rect x="301.75" y="381.76" width="5.8" height="21.79" fill="#B468B0"/>
<rect x="301.75" y="368.51" width="5.8" height="13.26" fill="#C8C2E6"/>
<rect x="315.95" y="506.19" width="5.8" height="1.31" fill="#5BB88F"/>
<rect x="315.95" y="505.32" width="5.8" height="0.87" fill="#EC875B"/>
<rect x="315.95" y="503.47" width="5.8" height="1.85" fill="#F5B25A"/>
<rect x="315.95" y="502.60" width="5.8" height="0.87" fill="#E8675F"/>
<rect x="315.95" y="501.94" width="5.8" height="0.65" fill="#76A5D8"/>
<rect x="315.95" y="498.78" width="5.8" height="3.16" fill="#B4CE5A"/>
<rect x="315.95" y="498.46" width="5.8" height="0.33" fill="#8FD3C1"/>
<rect x="315.95" y="497.26" width="5.8" height="1.20" fill="#B468B0"/>
<rect x="315.95" y="495.95" width="5.8" height="1.31" fill="#C8C2E6"/>
<text x="290.53" y="515.6" text-anchor="middle" class="sl">TNL</text>
<text x="304.65" y="515.6" text-anchor="middle" class="sl">CNL</text>
<text x="318.85" y="515.6" text-anchor="middle" class="sl">RNL</text>
<text x="307.48" y="524.8" text-anchor="middle" class="ml">Motif 7</text>
<rect x="330.08" y="499.49" width="5.8" height="8.01" fill="#5BB88F"/>
<rect x="330.08" y="493.59" width="5.8" height="5.91" fill="#F5B25A"/>
<rect x="330.08" y="488.99" width="5.8" height="4.59" fill="#76A5D8"/>
<rect x="330.08" y="475.21" width="5.8" height="13.78" fill="#B4CE5A"/>
<rect x="330.08" y="473.51" width="5.8" height="1.71" fill="#8FD3C1"/>
<rect x="330.08" y="466.02" width="5.8" height="7.48" fill="#B468B0"/>
<rect x="330.08" y="461.30" width="5.8" height="4.72" fill="#C8C2E6"/>
<rect x="344.20" y="492.01" width="5.8" height="15.49" fill="#5BB88F"/>
<rect x="344.20" y="484.01" width="5.8" height="8.01" fill="#EC875B"/>
<rect x="344.20" y="472.46" width="5.8" height="11.55" fill="#F5B25A"/>
<rect x="344.20" y="457.62" width="5.8" height="14.83" fill="#E8675F"/>
<rect x="344.20" y="446.99" width="5.8" height="10.63" fill="#76A5D8"/>
<rect x="344.20" y="415.76" width="5.8" height="31.24" fill="#B4CE5A"/>
<rect x="344.20" y="410.64" width="5.8" height="5.12" fill="#8FD3C1"/>
<rect x="344.20" y="390.00" width="5.8" height="20.63" fill="#B468B0"/>
<rect x="344.20" y="378.09" width="5.8" height="11.92" fill="#C8C2E6"/>
<rect x="358.40" y="505.98" width="5.8" height="1.52" fill="#5BB88F"/>
<rect x="358.40" y="504.97" width="5.8" height="1.01" fill="#EC875B"/>
<rect x="358.40" y="502.83" width="5.8" height="2.15" fill="#F5B25A"/>
<rect x="358.40" y="501.82" width="5.8" height="1.01" fill="#E8675F"/>
<rect x="358.40" y="501.06" width="5.8" height="0.76" fill="#76A5D8"/>
<rect x="358.40" y="497.40" width="5.8" height="3.66" fill="#B4CE5A"/>
<rect x="358.40" y="497.02" width="5.8" height="0.38" fill="#8FD3C1"/>
<rect x="358.40" y="495.63" width="5.8" height="1.39" fill="#B468B0"/>
<rect x="358.40" y="494.11" width="5.8" height="1.52" fill="#C8C2E6"/>
<text x="332.98" y="515.6" text-anchor="middle" class="sl">TNL</text>
<text x="347.10" y="515.6" text-anchor="middle" class="sl">CNL</text>
<text x="361.30" y="515.6" text-anchor="middle" class="sl">RNL</text>
<text x="349.93" y="524.8" text-anchor="middle" class="ml">Motif 8</text>
<rect x="386.65" y="495.24" width="5.8" height="12.26" fill="#5BB88F"/>
<rect x="386.65" y="487.81" width="5.8" height="7.43" fill="#EC875B"/>
<rect x="386.65" y="477.84" width="5.8" height="9.98" fill="#F5B25A"/>
<rect x="386.65" y="463.61" width="5.8" height="14.23" fill="#E8675F"/>
<rect x="386.65" y="455.39" width="5.8" height="8.22" fill="#76A5D8"/>
<rect x="386.65" y="429.27" width="5.8" height="26.12" fill="#B4CE5A"/>
<rect x="386.65" y="424.16" width="5.8" height="5.12" fill="#8FD3C1"/>
<rect x="386.65" y="405.23" width="5.8" height="18.93" fill="#B468B0"/>
<rect x="386.65" y="396.33" width="5.8" height="8.90" fill="#C8C2E6"/>
<rect x="400.85" y="506.68" width="5.8" height="0.82" fill="#5BB88F"/>
<rect x="400.85" y="506.13" width="5.8" height="0.55" fill="#EC875B"/>
<rect x="400.85" y="504.97" width="5.8" height="1.16" fill="#F5B25A"/>
<rect x="400.85" y="504.42" width="5.8" height="0.55" fill="#E8675F"/>
<rect x="400.85" y="504.01" width="5.8" height="0.41" fill="#76A5D8"/>
<rect x="400.85" y="502.03" width="5.8" height="1.98" fill="#B4CE5A"/>
<rect x="400.85" y="501.83" width="5.8" height="0.21" fill="#8FD3C1"/>
<rect x="400.85" y="501.08" width="5.8" height="0.75" fill="#B468B0"/>
<rect x="400.85" y="500.25" width="5.8" height="0.82" fill="#C8C2E6"/>
<text x="375.43" y="515.6" text-anchor="middle" class="sl">TNL</text>
<text x="389.55" y="515.6" text-anchor="middle" class="sl">CNL</text>
<text x="403.75" y="515.6" text-anchor="middle" class="sl">RNL</text>
<text x="392.38" y="524.8" text-anchor="middle" class="ml">Motif 9</text>
<rect x="429.10" y="493.32" width="5.8" height="14.18" fill="#5BB88F"/>
<rect x="429.10" y="485.71" width="5.8" height="7.61" fill="#EC875B"/>
<rect x="429.10" y="472.85" width="5.8" height="12.86" fill="#F5B25A"/>
<rect x="429.10" y="458.49" width="5.8" height="14.36" fill="#E8675F"/>
<rect x="429.10" y="447.99" width="5.8" height="10.50" fill="#76A5D8"/>
<rect x="429.10" y="419.82" width="5.8" height="28.17" fill="#B4CE5A"/>
<rect x="429.10" y="413.13" width="5.8" height="6.69" fill="#8FD3C1"/>
<rect x="429.10" y="393.57" width="5.8" height="19.56" fill="#B468B0"/>
<rect x="429.10" y="382.92" width="5.8" height="10.66" fill="#C8C2E6"/>
<rect x="443.30" y="506.55" width="5.8" height="0.95" fill="#5BB88F"/>
<rect x="443.30" y="505.92" width="5.8" height="0.63" fill="#EC875B"/>
<rect x="443.30" y="504.57" width="5.8" height="1.35" fill="#F5B25A"/>
<rect x="443.30" y="503.93" width="5.8" height="0.63" fill="#E8675F"/>
<rect x="443.30" y="503.46" width="5.8" height="0.48" fill="#76A5D8"/>
<rect x="443.30" y="501.16" width="5.8" height="2.30" fill="#B4CE5A"/>
<rect x="443.30" y="500.92" width="5.8" height="0.24" fill="#8FD3C1"/>
<rect x="443.30" y="500.05" width="5.8" height="0.87" fill="#B468B0"/>
<rect x="443.30" y="499.10" width="5.8" height="0.95" fill="#C8C2E6"/>
<text x="417.88" y="515.6" text-anchor="middle" class="sl">TNL</text>
<text x="432.00" y="515.6" text-anchor="middle" class="sl">CNL</text>
<text x="446.20" y="515.6" text-anchor="middle" class="sl">RNL</text>
<text x="434.83" y="524.8" text-anchor="middle" class="ml">Motif 10</text>
<rect x="467.5" y="353.15" width="5.2" height="5.2" fill="#C8C2E6"/>
<text x="475.3" y="358.75" class="lg">S. pimpinellifolium</text>
<rect x="467.5" y="373.15" width="5.2" height="5.2" fill="#B468B0"/>
<text x="475.3" y="378.75" class="lg">S. pennellii</text>
<rect x="467.5" y="393.15" width="5.2" height="5.2" fill="#8FD3C1"/>
<text x="475.3" y="398.75" class="lg">S. melongena</text>
<rect x="467.5" y="413.15" width="5.2" height="5.2" fill="#B4CE5A"/>
<text x="475.3" y="418.75" class="lg">S. macrocarpon</text>
<rect x="467.5" y="433.15" width="5.2" height="5.2" fill="#76A5D8"/>
<text x="475.3" y="438.75" class="lg">S. lycopersicum</text>
<rect x="467.5" y="453.15" width="5.2" height="5.2" fill="#E8675F"/>
<text x="475.3" y="458.75" class="lg">N. tabacum</text>
<rect x="467.5" y="473.15" width="5.2" height="5.2" fill="#F5B25A"/>
<text x="475.3" y="478.75" class="lg">D. stramoniumst</text>
<rect x="467.5" y="493.15" width="5.2" height="5.2" fill="#EC875B"/>
<text x="475.3" y="498.75" class="lg">C. annuum</text>
<rect x="467.5" y="513.15" width="5.2" height="5.2" fill="#5BB88F"/>
<text x="475.3" y="518.75" class="lg">A. belladonna</text>
<text x="12.8" y="338.2" class="plb">(c)</text></g>
</svg></body></html>
